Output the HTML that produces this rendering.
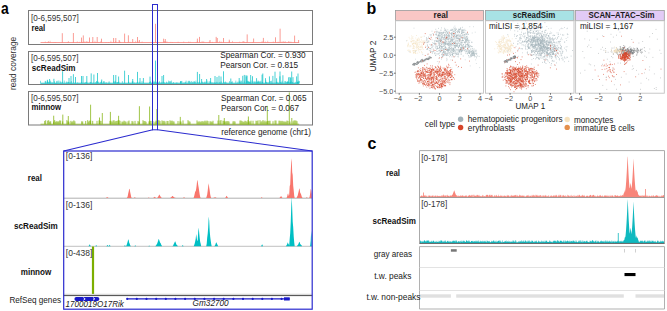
<!DOCTYPE html>
<html><head><meta charset="utf-8"><style>
html,body{margin:0;padding:0;background:#fff;width:667px;height:311px;overflow:hidden}
svg{display:block}
text{font-family:"Liberation Sans",sans-serif}
</style></head><body>
<svg width="667" height="311" viewBox="0 0 667 311" font-family="Liberation Sans, sans-serif">
<text transform="translate(0.9,13.9) scale(0.87,1)" font-size="16" font-weight="bold" fill="#000">a</text>
<text transform="translate(16.3,63.4) rotate(-90)" font-size="8.8" fill="#333" text-anchor="middle" textLength="53.3" lengthAdjust="spacingAndGlyphs">read coverage</text>
<rect x="28.5" y="10.5" width="284" height="34.0" fill="none" stroke="#7a7a7a" stroke-width="1"/>
<rect x="28.5" y="51.5" width="284" height="33.0" fill="none" stroke="#7a7a7a" stroke-width="1"/>
<rect x="28.5" y="91.5" width="284" height="33.5" fill="none" stroke="#7a7a7a" stroke-width="1"/>
<line x1="40.5" y1="42.5" x2="299.2" y2="42.5" stroke="#F8766D" stroke-width="0.9" opacity="0.8"/>
<path d="M45.30 42.6V41.48 M47.70 42.6V41.81 M48.50 42.6V41.00 M50.10 42.6V40.73 M53.30 42.6V42.28 M54.90 42.6V42.00 M55.70 42.6V42.25 M67.70 42.6V41.84 M68.50 42.6V41.07 M73.30 42.6V41.96 M77.30 42.6V41.29 M79.70 42.6V41.77 M82.10 42.6V41.91 M82.90 42.6V42.20 M84.50 42.6V41.41 M86.10 42.6V41.13 M86.90 42.6V41.27 M87.70 42.6V41.63 M88.50 42.6V41.87 M92.50 42.6V41.67 M94.90 42.6V40.72 M95.70 42.6V41.89 M98.90 42.6V42.16 M100.50 42.6V41.34 M106.10 42.6V42.05 M108.50 42.6V42.00 M110.90 42.6V40.78 M114.10 42.6V42.24 M115.70 42.6V41.17 M119.70 42.6V41.15 M120.50 42.6V41.93 M125.30 42.6V42.27 M127.70 42.6V42.02 M130.10 42.6V41.72 M134.90 42.6V42.24 M135.70 42.6V40.84 M138.10 42.6V41.28 M142.10 42.6V41.43 M157.30 42.6V41.28 M164.50 42.6V41.10 M165.30 42.6V41.34 M166.90 42.6V41.18 M170.90 42.6V41.82 M172.50 42.6V42.03 M178.10 42.6V41.61 M183.70 42.6V41.51 M188.50 42.6V41.58 M190.10 42.6V41.64 M195.70 42.6V42.25 M197.30 42.6V41.17 M200.50 42.6V42.08 M202.10 42.6V40.97 M202.90 42.6V42.07 M203.70 42.6V41.29 M209.30 42.6V41.54 M210.10 42.6V42.28 M212.50 42.6V41.86 M219.70 42.6V40.81 M221.30 42.6V41.57 M229.30 42.6V41.14 M232.50 42.6V40.86 M239.70 42.6V41.59 M242.90 42.6V41.01 M243.70 42.6V41.02 M244.50 42.6V41.76 M246.10 42.6V42.06 M252.50 42.6V41.95 M262.10 42.6V40.94 M265.30 42.6V41.44 M267.70 42.6V40.75 M273.30 42.6V41.44 M278.10 42.6V41.61 M282.10 42.6V41.31 M283.70 42.6V41.05 M284.50 42.6V41.99 M285.30 42.6V41.20 M288.50 42.6V41.13 M289.30 42.6V41.48 M290.90 42.6V41.45 M294.90 42.6V41.97" stroke="#F8766D" stroke-width="0.6" fill="none" opacity="0.7"/>
<path d="M62.30 42.6V33.20 M73.40 42.6V33.00 M81.50 42.6V37.60 M83.30 42.6V35.40 M89.50 42.6V37.50 M92.80 42.6V37.00 M97.20 42.6V37.00 M101.50 42.6V38.70 M113.60 42.6V38.00 M115.80 42.6V38.00 M119.20 42.6V40.00 M124.60 42.6V33.60 M128.40 42.6V35.30 M132.70 42.6V39.00 M137.50 42.6V37.00 M139.40 42.6V40.00 M155.50 42.6V23.80 M163.60 42.6V38.70 M165.30 42.6V39.00 M197.40 42.6V38.60 M199.50 42.6V36.90 M210.00 42.6V40.00 M216.20 42.6V36.90 M217.30 42.6V38.00 M223.50 42.6V38.00 M229.30 42.6V39.70 M247.20 42.6V34.40 M253.60 42.6V38.50 M263.40 42.6V37.90 M275.50 42.6V37.30 M280.10 42.6V28.70 M294.60 42.6V35.60 M298.60 42.6V40.00" stroke="#F8766D" stroke-width="0.8" fill="none" opacity="0.9"/>
<line x1="40.5" y1="83.3" x2="299.2" y2="83.3" stroke="#00BFC4" stroke-width="1.1" opacity="0.9"/>
<path d="M40.50 83.4V80.75 M46.10 83.4V81.55 M47.50 83.4V80.68 M48.20 83.4V81.87 M48.90 83.4V81.81 M50.30 83.4V80.64 M51.00 83.4V81.73 M52.40 83.4V82.36 M54.50 83.4V81.24 M55.20 83.4V83.06 M55.90 83.4V82.99 M56.60 83.4V81.14 M57.30 83.4V80.77 M58.70 83.4V80.53 M60.10 83.4V80.75 M60.80 83.4V81.86 M62.20 83.4V81.74 M64.30 83.4V80.56 M66.40 83.4V81.48 M67.10 83.4V82.57 M67.80 83.4V81.73 M68.50 83.4V81.95 M69.90 83.4V82.42 M71.30 83.4V81.08 M74.80 83.4V82.80 M77.60 83.4V82.39 M81.80 83.4V82.45 M84.60 83.4V82.94 M85.30 83.4V81.99 M86.70 83.4V81.69 M87.40 83.4V82.88 M90.20 83.4V81.86 M90.90 83.4V82.21 M93.00 83.4V82.79 M95.80 83.4V82.00 M96.50 83.4V80.99 M97.20 83.4V81.40 M98.60 83.4V81.67 M100.70 83.4V82.14 M101.40 83.4V80.82 M102.10 83.4V82.88 M103.50 83.4V81.32 M104.20 83.4V81.08 M104.90 83.4V82.55 M106.30 83.4V82.31 M108.40 83.4V82.73 M109.10 83.4V81.21 M109.80 83.4V82.79 M114.00 83.4V81.01 M114.70 83.4V82.27 M115.40 83.4V80.67 M116.80 83.4V82.16 M117.50 83.4V82.16 M118.20 83.4V82.09 M118.90 83.4V81.63 M122.40 83.4V81.13 M123.80 83.4V83.04 M128.70 83.4V81.68 M130.10 83.4V82.89 M132.20 83.4V81.45 M132.90 83.4V81.16 M134.30 83.4V82.53 M137.10 83.4V82.22 M139.20 83.4V81.70 M142.00 83.4V80.95 M149.70 83.4V82.01 M150.40 83.4V81.17 M151.80 83.4V82.66 M152.50 83.4V82.00 M153.20 83.4V80.58 M153.90 83.4V82.30 M154.60 83.4V81.42 M156.00 83.4V82.94 M156.70 83.4V81.58 M158.10 83.4V82.82 M158.80 83.4V82.53 M159.50 83.4V81.24 M160.90 83.4V82.62 M161.60 83.4V82.65 M163.00 83.4V81.67 M164.40 83.4V82.42 M166.50 83.4V81.68 M167.90 83.4V82.53 M168.60 83.4V80.64 M170.00 83.4V81.73 M171.40 83.4V80.53 M172.80 83.4V83.07 M173.50 83.4V82.13 M176.30 83.4V82.69 M177.00 83.4V82.43 M180.50 83.4V81.71 M181.20 83.4V81.10 M181.90 83.4V80.96 M184.00 83.4V82.40 M185.40 83.4V81.85 M186.10 83.4V80.62 M188.20 83.4V81.05 M188.90 83.4V80.72 M189.60 83.4V80.95 M190.30 83.4V81.69 M191.70 83.4V80.94 M192.40 83.4V82.29 M193.10 83.4V82.31 M193.80 83.4V81.24 M194.50 83.4V81.31 M195.20 83.4V82.07 M195.90 83.4V80.59 M198.00 83.4V82.12 M199.40 83.4V81.63 M200.10 83.4V83.07 M202.20 83.4V81.50 M202.90 83.4V82.12 M204.30 83.4V82.22 M205.00 83.4V81.37 M205.70 83.4V82.58 M207.10 83.4V80.64 M209.20 83.4V80.95 M209.90 83.4V82.73 M210.60 83.4V81.34 M212.00 83.4V82.05 M214.10 83.4V82.51 M214.80 83.4V82.78 M215.50 83.4V82.91 M216.90 83.4V81.77 M219.70 83.4V82.24 M220.40 83.4V83.06 M221.10 83.4V81.28 M224.60 83.4V82.24 M225.30 83.4V81.41 M226.00 83.4V82.12 M229.50 83.4V81.11 M231.60 83.4V81.80 M232.30 83.4V81.25 M235.80 83.4V80.64 M237.20 83.4V82.88 M237.90 83.4V81.60 M239.30 83.4V80.68 M240.00 83.4V81.90 M240.70 83.4V80.57 M241.40 83.4V80.75 M244.20 83.4V80.74 M247.00 83.4V80.96 M247.70 83.4V80.77 M248.40 83.4V81.61 M249.80 83.4V81.68 M250.50 83.4V83.02 M251.20 83.4V80.53 M253.30 83.4V81.35 M254.70 83.4V81.56 M256.10 83.4V82.58 M256.80 83.4V82.73 M257.50 83.4V81.62 M258.20 83.4V81.75 M258.90 83.4V81.62 M259.60 83.4V81.43 M260.30 83.4V81.36 M261.00 83.4V80.61 M262.40 83.4V82.03 M265.90 83.4V80.51 M268.00 83.4V81.97 M271.50 83.4V80.75 M272.20 83.4V82.96 M276.40 83.4V81.56 M277.10 83.4V82.78 M277.80 83.4V81.79 M278.50 83.4V82.96 M280.60 83.4V82.30 M281.30 83.4V82.49 M282.00 83.4V80.73 M284.80 83.4V81.01 M285.50 83.4V81.16 M287.60 83.4V81.04 M288.30 83.4V81.70 M289.70 83.4V82.47 M290.40 83.4V82.26 M291.10 83.4V80.77 M292.50 83.4V82.17 M293.90 83.4V83.02 M295.30 83.4V81.80 M297.40 83.4V82.56 M298.10 83.4V80.70 M299.50 83.4V80.92" stroke="#00BFC4" stroke-width="0.6" fill="none" opacity="0.85"/>
<path d="M45.30 83.4V80.90 M47.40 83.4V79.80 M49.60 83.4V79.00 M53.90 83.4V78.80 M62.60 83.4V71.20 M69.00 83.4V78.00 M71.00 83.4V76.00 M73.40 83.4V74.20 M75.50 83.4V77.00 M81.50 83.4V76.00 M83.00 83.4V76.00 M86.80 83.4V76.00 M91.20 83.4V73.40 M93.90 83.4V74.50 M97.50 83.4V73.00 M101.70 83.4V79.50 M113.60 83.4V75.00 M115.80 83.4V75.00 M118.60 83.4V76.50 M124.60 83.4V70.70 M128.50 83.4V75.00 M132.70 83.4V79.00 M137.50 83.4V71.90 M140.00 83.4V78.00 M143.40 83.4V78.00 M150.00 83.4V76.60 M155.50 83.4V60.60 M162.00 83.4V76.00 M163.60 83.4V75.00 M170.00 83.4V81.00 M180.70 83.4V81.00 M197.40 83.4V71.90 M199.60 83.4V74.00 M201.60 83.4V79.00 M206.60 83.4V79.00 M210.60 83.4V78.00 M215.00 83.4V76.00 M217.00 83.4V77.00 M219.00 83.4V75.80 M221.00 83.4V76.50 M223.50 83.4V71.30 M230.80 83.4V78.50 M239.20 83.4V78.00 M262.80 83.4V73.50 M275.00 83.4V71.70 M280.00 83.4V71.50 M291.70 83.4V71.50 M298.00 83.4V73.50 M242.74 83.4V75.82 M244.31 83.4V74.92 M246.00 83.4V75.20 M246.24 83.4V76.49 M247.10 83.4V75.64 M248.79 83.4V81.29 M249.69 83.4V82.16 M250.68 83.4V75.01 M252.51 83.4V76.23 M255.07 83.4V81.45 M256.55 83.4V78.18 M258.18 83.4V80.67 M262.06 83.4V74.69 M265.47 83.4V78.18 M266.60 83.4V82.19 M269.45 83.4V76.39 M270.20 83.4V80.98 M272.89 83.4V75.89 M276.60 83.4V78.27 M279.91 83.4V76.34 M282.90 83.4V75.26 M286.72 83.4V81.74 M287.47 83.4V82.22 M288.64 83.4V77.31 M289.94 83.4V76.97 M290.66 83.4V77.74 M293.00 83.4V77.16 M296.62 83.4V76.39 M297.40 83.4V81.90 M298.38 83.4V81.51" stroke="#00BFC4" stroke-width="0.8" fill="none" opacity="0.9"/>
<line x1="40.5" y1="124.2" x2="299.2" y2="124.2" stroke="#7CAE00" stroke-width="0.8" opacity="0.8"/>
<path d="M44.70 124.4V120.95 M45.70 124.4V120.22 M47.70 124.4V120.66 M48.70 124.4V120.22 M49.70 124.4V121.61 M50.70 124.4V121.24 M53.70 124.4V121.56 M54.70 124.4V120.11 M55.70 124.4V121.66 M56.70 124.4V121.25 M57.70 124.4V121.45 M58.70 124.4V121.38 M59.70 124.4V120.38 M60.70 124.4V120.61 M62.70 124.4V121.39 M66.90 124.4V120.13 M67.90 124.4V121.30 M68.90 124.4V121.64 M70.90 124.4V120.85 M71.90 124.4V121.72 M72.90 124.4V121.29 M73.90 124.4V120.35 M74.90 124.4V121.29 M81.70 124.4V121.30 M82.70 124.4V121.46 M85.70 124.4V120.97 M87.70 124.4V120.13 M88.70 124.4V121.48 M89.70 124.4V120.64 M90.70 124.4V120.62 M92.70 124.4V120.89 M97.00 124.4V120.86 M99.00 124.4V120.40 M100.00 124.4V120.71 M101.00 124.4V121.01 M110.00 124.4V120.92 M111.00 124.4V120.76 M112.00 124.4V121.74 M113.00 124.4V120.51 M114.00 124.4V120.23 M115.00 124.4V121.53 M116.00 124.4V120.91 M117.00 124.4V121.00 M118.00 124.4V120.36 M119.00 124.4V120.17 M120.00 124.4V120.82 M122.00 124.4V121.54 M123.00 124.4V121.72 M124.00 124.4V120.68 M125.00 124.4V121.32 M126.00 124.4V121.64 M128.00 124.4V121.34 M129.00 124.4V120.56 M132.00 124.4V121.06 M133.00 124.4V121.41 M135.00 124.4V120.92 M138.00 124.4V120.98 M139.00 124.4V121.73 M143.00 124.4V120.20 M144.00 124.4V121.09 M145.00 124.4V121.04 M146.00 124.4V121.74 M149.00 124.4V121.39 M150.00 124.4V120.81 M151.00 124.4V120.97 M153.00 124.4V121.19 M155.00 124.4V121.73 M156.00 124.4V120.63 M157.00 124.4V121.18 M158.00 124.4V120.24 M159.00 124.4V120.20 M160.00 124.4V121.09 M162.00 124.4V120.39 M163.00 124.4V121.17 M164.00 124.4V120.81 M165.00 124.4V121.43 M167.00 124.4V120.96 M168.00 124.4V121.00 M170.00 124.4V120.25 M171.00 124.4V121.11 M172.00 124.4V120.56 M173.00 124.4V121.31 M174.00 124.4V121.47 M178.00 124.4V121.09 M180.00 124.4V121.32 M181.00 124.4V121.52 M183.00 124.4V120.42 M188.00 124.4V120.17 M189.00 124.4V121.22 M190.00 124.4V121.65 M197.00 124.4V120.41 M198.00 124.4V121.70 M199.00 124.4V121.37 M200.00 124.4V121.53 M201.00 124.4V121.74 M202.00 124.4V121.04 M203.00 124.4V121.56 M204.00 124.4V121.33 M205.00 124.4V120.60 M206.00 124.4V121.43 M207.00 124.4V120.52 M208.00 124.4V121.10 M210.00 124.4V121.27 M211.00 124.4V121.41 M212.00 124.4V121.76 M213.00 124.4V120.78 M218.00 124.4V120.59 M220.00 124.4V120.56 M221.00 124.4V120.08 M223.00 124.4V120.66 M224.00 124.4V121.03 M225.00 124.4V121.69 M226.00 124.4V121.21 M227.00 124.4V121.30 M228.00 124.4V121.08 M229.00 124.4V121.50 M233.00 124.4V121.37 M234.00 124.4V121.18 M235.00 124.4V121.53 M240.00 124.4V120.54 M241.00 124.4V120.54 M242.00 124.4V121.10 M243.00 124.4V121.69 M244.00 124.4V121.70 M245.00 124.4V120.75 M246.00 124.4V121.21 M247.00 124.4V121.76 M248.00 124.4V120.19 M249.00 124.4V121.33 M250.00 124.4V121.47 M251.00 124.4V120.69 M253.00 124.4V120.76 M256.00 124.4V120.68 M257.00 124.4V121.05 M258.00 124.4V120.31 M260.00 124.4V120.16 M261.00 124.4V121.56 M262.00 124.4V121.24 M263.00 124.4V120.04 M264.00 124.4V121.45 M265.00 124.4V120.58 M266.00 124.4V121.80 M267.00 124.4V121.09 M268.00 124.4V120.91 M269.00 124.4V120.81 M270.00 124.4V120.79 M273.00 124.4V121.18 M275.00 124.4V120.51 M276.00 124.4V120.56 M279.00 124.4V120.68 M280.00 124.4V120.79 M281.00 124.4V121.29 M282.00 124.4V120.84 M283.00 124.4V121.35 M284.00 124.4V121.48 M285.00 124.4V121.57 M286.00 124.4V121.68 M287.00 124.4V120.53 M288.00 124.4V120.99 M290.00 124.4V121.51 M293.00 124.4V121.34 M294.00 124.4V120.37 M295.00 124.4V120.51 M296.00 124.4V120.51 M297.00 124.4V121.20" stroke="#7CAE00" stroke-width="0.75" fill="none" opacity="0.95"/>
<path d="M53.70 124.4V115.70 M62.80 124.4V114.60 M68.30 124.4V116.00 M90.60 124.4V104.70 M99.50 124.4V117.50 M102.30 124.4V113.00 M110.40 124.4V111.90 M118.60 124.4V115.80 M139.40 124.4V106.20 M149.60 124.4V106.50 M156.90 124.4V109.00 M180.30 124.4V116.90 M218.80 124.4V115.00 M224.30 124.4V118.00 M248.40 124.4V116.50 M267.30 124.4V105.90 M289.30 124.4V92.40 M291.80 124.4V118.00" stroke="#7CAE00" stroke-width="0.8" fill="none" opacity="0.9"/>
<text x="31" y="20.6" font-size="9.0" font-weight="normal" fill="#333" text-anchor="start" font-style="normal"  textLength="47.7" lengthAdjust="spacingAndGlyphs">[0-6,595,507]</text>
<text x="31.4" y="30.6" font-size="8.6" font-weight="bold" fill="#111" text-anchor="start" font-style="normal"  textLength="13.8" lengthAdjust="spacingAndGlyphs">real</text>
<text x="30.9" y="61.2" font-size="9.0" font-weight="normal" fill="#333" text-anchor="start" font-style="normal"  textLength="47.7" lengthAdjust="spacingAndGlyphs">[0-6,595,507]</text>
<text x="31.8" y="71.2" font-size="8.6" font-weight="bold" fill="#111" text-anchor="start" font-style="normal"  textLength="43.7" lengthAdjust="spacingAndGlyphs">scReadSim</text>
<text x="30.9" y="101.4" font-size="9.0" font-weight="normal" fill="#333" text-anchor="start" font-style="normal"  textLength="47.7" lengthAdjust="spacingAndGlyphs">[0-6,595,507]</text>
<text x="31.6" y="110.4" font-size="8.6" font-weight="bold" fill="#111" text-anchor="start" font-style="normal"  textLength="29.5" lengthAdjust="spacingAndGlyphs">minnow</text>
<text x="220.2" y="58.2" font-size="9.0" font-weight="normal" fill="#222" text-anchor="start" font-style="normal"  textLength="85.5" lengthAdjust="spacingAndGlyphs">Spearman Cor. = 0.930</text>
<text x="220.2" y="67.8" font-size="9.0" font-weight="normal" fill="#222" text-anchor="start" font-style="normal"  textLength="78.0" lengthAdjust="spacingAndGlyphs">Pearson Cor. = 0.815</text>
<text x="221.0" y="100.7" font-size="9.0" font-weight="normal" fill="#222" text-anchor="start" font-style="normal"  textLength="85.5" lengthAdjust="spacingAndGlyphs">Spearman Cor. = 0.065</text>
<text x="221.0" y="110.8" font-size="9.0" font-weight="normal" fill="#222" text-anchor="start" font-style="normal"  textLength="78.0" lengthAdjust="spacingAndGlyphs">Pearson Cor. = 0.067</text>
<text x="221.2" y="135.3" font-size="9.0" font-weight="normal" fill="#222" text-anchor="start" font-style="normal"  textLength="89.8" lengthAdjust="spacingAndGlyphs">reference genome (chr1)</text>
<rect x="152.5" y="4.5" width="5" height="125.3" fill="none" stroke="#2B2BCF" stroke-width="1"/>
<path d="M152.8 129.8 L63.7 151 M157.6 129.8 L312.2 151" stroke="#2B2BCF" stroke-width="1.1" fill="none"/>
<line x1="63.7" y1="198.2" x2="312.2" y2="198.2" stroke="#9a9a9a" stroke-width="0.8"/>
<line x1="63.7" y1="246.3" x2="312.2" y2="246.3" stroke="#b0b0b0" stroke-width="0.8"/>
<line x1="63.7" y1="294.3" x2="312.2" y2="294.3" stroke="#c4c4c4" stroke-width="0.8"/>
<line x1="63.7" y1="295.6" x2="312.2" y2="295.6" stroke="#333" stroke-width="0.9"/>
<path d="M64.2 198.0 L64.2 198.00 L64.7 198.00 L65.2 198.00 L65.7 198.00 L66.2 198.00 L66.7 198.00 L67.2 198.00 L67.7 198.00 L68.2 198.00 L68.7 198.00 L69.2 198.00 L69.7 198.00 L70.2 198.00 L70.7 198.00 L71.2 198.00 L71.7 198.00 L72.2 198.00 L72.7 198.00 L73.2 198.00 L73.7 198.00 L74.2 198.00 L74.7 198.00 L75.2 198.00 L75.7 198.00 L76.2 198.00 L76.7 198.00 L77.2 198.00 L77.7 198.00 L78.2 198.00 L78.7 198.00 L79.2 198.00 L79.7 198.00 L80.2 198.00 L80.7 198.00 L81.2 198.00 L81.7 198.00 L82.2 198.00 L82.7 198.00 L83.2 198.00 L83.7 198.00 L84.2 198.00 L84.7 198.00 L85.2 198.00 L85.7 198.00 L86.2 198.00 L86.7 198.00 L87.2 198.00 L87.7 198.00 L88.2 198.00 L88.7 198.00 L89.2 198.00 L89.7 198.00 L90.2 198.00 L90.7 198.00 L91.2 198.00 L91.7 198.00 L92.2 198.00 L92.7 198.00 L93.2 198.00 L93.7 198.00 L94.2 198.00 L94.7 198.00 L95.2 198.00 L95.7 198.00 L96.2 198.00 L96.7 198.00 L97.2 198.00 L97.7 198.00 L98.2 198.00 L98.7 198.00 L99.2 198.00 L99.7 198.00 L100.2 198.00 L100.7 198.00 L101.2 198.00 L101.7 198.00 L102.2 198.00 L102.7 198.00 L103.2 198.00 L103.7 198.00 L104.2 198.00 L104.7 198.00 L105.2 198.00 L105.7 198.00 L106.2 197.82 L106.7 197.50 L107.2 197.00 L107.7 197.52 L108.2 197.80 L108.7 198.00 L109.2 198.00 L109.7 198.00 L110.2 198.00 L110.7 198.00 L111.2 198.00 L111.7 198.00 L112.2 198.00 L112.7 198.00 L113.2 198.00 L113.7 198.00 L114.2 198.00 L114.7 198.00 L115.2 198.00 L115.7 198.00 L116.2 198.00 L116.7 198.00 L117.2 198.00 L117.7 198.00 L118.2 198.00 L118.7 198.00 L119.2 198.00 L119.7 198.00 L120.2 198.00 L120.7 198.00 L121.2 198.00 L121.7 198.00 L122.2 198.00 L122.7 198.00 L123.2 198.00 L123.7 198.00 L124.2 198.00 L124.7 198.00 L125.2 198.00 L125.7 198.00 L126.2 198.00 L126.7 198.00 L127.2 197.46 L127.7 196.15 L128.2 193.48 L128.7 191.56 L129.2 188.81 L129.7 189.34 L130.2 192.28 L130.7 194.52 L131.2 196.99 L131.7 198.00 L132.2 198.00 L132.7 198.00 L133.2 198.00 L133.7 198.00 L134.2 197.79 L134.7 197.20 L135.2 197.50 L135.7 197.96 L136.2 198.00 L136.7 198.00 L137.2 198.00 L137.7 198.00 L138.2 198.00 L138.7 198.00 L139.2 198.00 L139.7 198.00 L140.2 198.00 L140.7 198.00 L141.2 198.00 L141.7 198.00 L142.2 198.00 L142.7 198.00 L143.2 198.00 L143.7 198.00 L144.2 198.00 L144.7 198.00 L145.2 198.00 L145.7 198.00 L146.2 198.00 L146.7 198.00 L147.2 198.00 L147.7 197.97 L148.2 197.75 L148.7 197.49 L149.2 197.87 L149.7 198.00 L150.2 198.00 L150.7 198.00 L151.2 198.00 L151.7 198.00 L152.2 198.00 L152.7 198.00 L153.2 197.97 L153.7 197.53 L154.2 197.15 L154.7 196.63 L155.2 197.22 L155.7 197.74 L156.2 198.00 L156.7 198.00 L157.2 197.80 L157.7 197.40 L158.2 196.39 L158.7 195.68 L159.2 194.58 L159.7 194.95 L160.2 195.97 L160.7 196.68 L161.2 197.31 L161.7 197.88 L162.2 198.00 L162.7 198.00 L163.2 198.00 L163.7 198.00 L164.2 198.00 L164.7 198.00 L165.2 198.00 L165.7 198.00 L166.2 198.00 L166.7 198.00 L167.2 198.00 L167.7 198.00 L168.2 198.00 L168.7 198.00 L169.2 198.00 L169.7 198.00 L170.2 197.93 L170.7 197.56 L171.2 197.17 L171.7 196.77 L172.2 196.12 L172.7 195.92 L173.2 196.42 L173.7 197.04 L174.2 197.32 L174.7 197.67 L175.2 197.87 L175.7 198.00 L176.2 198.00 L176.7 198.00 L177.2 198.00 L177.7 198.00 L178.2 198.00 L178.7 198.00 L179.2 198.00 L179.7 198.00 L180.2 198.00 L180.7 198.00 L181.2 198.00 L181.7 198.00 L182.2 198.00 L182.7 198.00 L183.2 197.87 L183.7 197.38 L184.2 197.37 L184.7 197.80 L185.2 198.00 L185.7 198.00 L186.2 198.00 L186.7 198.00 L187.2 198.00 L187.7 198.00 L188.2 198.00 L188.7 198.00 L189.2 198.00 L189.7 198.00 L190.2 198.00 L190.7 198.00 L191.2 198.00 L191.7 198.00 L192.2 198.00 L192.7 198.00 L193.2 198.00 L193.7 197.63 L194.2 195.94 L194.7 193.80 L195.2 191.59 L195.7 191.16 L196.2 188.81 L196.7 185.09 L197.2 179.74 L197.7 181.53 L198.2 184.92 L198.7 187.81 L199.2 191.30 L199.7 194.58 L200.2 197.03 L200.7 198.00 L201.2 198.00 L201.7 198.00 L202.2 198.00 L202.7 198.00 L203.2 198.00 L203.7 198.00 L204.2 198.00 L204.7 198.00 L205.2 198.00 L205.7 198.00 L206.2 198.00 L206.7 196.33 L207.2 194.55 L207.7 190.82 L208.2 186.19 L208.7 183.23 L209.2 187.59 L209.7 190.41 L210.2 194.40 L210.7 196.75 L211.2 198.00 L211.7 198.00 L212.2 198.00 L212.7 198.00 L213.2 197.96 L213.7 197.76 L214.2 197.65 L214.7 197.28 L215.2 197.20 L215.7 197.50 L216.2 197.77 L216.7 197.93 L217.2 198.00 L217.7 198.00 L218.2 198.00 L218.7 198.00 L219.2 198.00 L219.7 198.00 L220.2 198.00 L220.7 198.00 L221.2 198.00 L221.7 198.00 L222.2 198.00 L222.7 198.00 L223.2 198.00 L223.7 198.00 L224.2 198.00 L224.7 198.00 L225.2 197.92 L225.7 197.21 L226.2 196.37 L226.7 195.72 L227.2 196.71 L227.7 197.58 L228.2 198.00 L228.7 198.00 L229.2 198.00 L229.7 198.00 L230.2 198.00 L230.7 198.00 L231.2 198.00 L231.7 198.00 L232.2 198.00 L232.7 198.00 L233.2 198.00 L233.7 198.00 L234.2 198.00 L234.7 198.00 L235.2 198.00 L235.7 198.00 L236.2 198.00 L236.7 198.00 L237.2 198.00 L237.7 198.00 L238.2 198.00 L238.7 198.00 L239.2 198.00 L239.7 198.00 L240.2 198.00 L240.7 198.00 L241.2 198.00 L241.7 198.00 L242.2 198.00 L242.7 198.00 L243.2 198.00 L243.7 198.00 L244.2 198.00 L244.7 198.00 L245.2 198.00 L245.7 198.00 L246.2 198.00 L246.7 198.00 L247.2 198.00 L247.7 198.00 L248.2 198.00 L248.7 198.00 L249.2 198.00 L249.7 198.00 L250.2 198.00 L250.7 198.00 L251.2 198.00 L251.7 198.00 L252.2 198.00 L252.7 198.00 L253.2 198.00 L253.7 198.00 L254.2 198.00 L254.7 198.00 L255.2 198.00 L255.7 198.00 L256.2 198.00 L256.7 198.00 L257.2 198.00 L257.7 198.00 L258.2 198.00 L258.7 198.00 L259.2 198.00 L259.7 198.00 L260.2 198.00 L260.7 198.00 L261.2 197.69 L261.7 197.00 L262.2 197.66 L262.7 198.00 L263.2 198.00 L263.7 198.00 L264.2 198.00 L264.7 198.00 L265.2 198.00 L265.7 198.00 L266.2 198.00 L266.7 198.00 L267.2 198.00 L267.7 198.00 L268.2 198.00 L268.7 198.00 L269.2 198.00 L269.7 198.00 L270.2 198.00 L270.7 198.00 L271.2 198.00 L271.7 198.00 L272.2 198.00 L272.7 198.00 L273.2 198.00 L273.7 198.00 L274.2 198.00 L274.7 198.00 L275.2 198.00 L275.7 198.00 L276.2 198.00 L276.7 198.00 L277.2 198.00 L277.7 198.00 L278.2 198.00 L278.7 198.00 L279.2 198.00 L279.7 197.80 L280.2 197.11 L280.7 196.43 L281.2 195.91 L281.7 197.07 L282.2 197.76 L282.7 198.00 L283.2 198.00 L283.7 198.00 L284.2 198.00 L284.7 198.00 L285.2 198.00 L285.7 198.00 L286.2 198.00 L286.7 197.66 L287.2 196.34 L287.7 193.92 L288.2 193.60 L288.7 196.12 L289.2 194.65 L289.7 186.28 L290.2 184.54 L290.7 172.01 L291.2 162.34 L291.7 158.23 L292.2 172.30 L292.7 174.96 L293.2 185.65 L293.7 190.24 L294.2 195.86 L294.7 198.00 L295.2 198.00 L295.7 198.00 L296.2 198.00 L296.7 197.67 L297.2 196.60 L297.7 195.44 L298.2 193.17 L298.7 191.29 L299.2 188.27 L299.7 189.55 L300.2 192.70 L300.7 193.55 L301.2 194.77 L301.7 196.39 L302.2 197.60 L302.7 198.00 L303.2 198.00 L303.7 198.00 L304.2 198.00 L304.7 198.00 L305.2 198.00 L305.7 198.00 L306.2 197.71 L306.7 197.18 L307.2 197.57 L307.7 197.96 L308.2 198.00 L308.7 198.00 L309.2 198.00 L309.7 196.59 L310.2 193.08 L310.7 188.79 L311.2 190.05 L311.7 194.33 L311.8 198.0 Z" fill="#F8766D" stroke="none" opacity="1.0"/>
<path d="M64.2 246.2 L64.2 246.20 L64.7 246.20 L65.2 246.20 L65.7 246.20 L66.2 246.20 L66.7 246.20 L67.2 246.20 L67.7 246.20 L68.2 246.20 L68.7 246.20 L69.2 246.20 L69.7 246.20 L70.2 246.20 L70.7 246.20 L71.2 246.20 L71.7 246.20 L72.2 246.20 L72.7 246.20 L73.2 246.20 L73.7 246.20 L74.2 246.20 L74.7 246.20 L75.2 246.20 L75.7 246.20 L76.2 246.20 L76.7 246.20 L77.2 246.20 L77.7 246.20 L78.2 246.20 L78.7 246.20 L79.2 246.20 L79.7 246.20 L80.2 246.20 L80.7 246.20 L81.2 246.20 L81.7 246.20 L82.2 246.20 L82.7 246.20 L83.2 246.20 L83.7 246.20 L84.2 246.20 L84.7 246.20 L85.2 246.20 L85.7 246.20 L86.2 246.20 L86.7 246.20 L87.2 246.20 L87.7 246.20 L88.2 246.20 L88.7 245.99 L89.2 245.36 L89.7 244.20 L90.2 245.30 L90.7 246.03 L91.2 246.20 L91.7 246.20 L92.2 246.20 L92.7 246.20 L93.2 246.20 L93.7 246.20 L94.2 246.20 L94.7 246.20 L95.2 246.20 L95.7 245.86 L96.2 245.00 L96.7 245.85 L97.2 246.20 L97.7 246.20 L98.2 246.20 L98.7 246.20 L99.2 246.20 L99.7 246.20 L100.2 246.20 L100.7 246.20 L101.2 246.20 L101.7 246.20 L102.2 246.20 L102.7 246.20 L103.2 246.20 L103.7 246.20 L104.2 246.20 L104.7 246.20 L105.2 246.20 L105.7 246.20 L106.2 246.20 L106.7 246.00 L107.2 245.33 L107.7 244.94 L108.2 245.95 L108.7 246.12 L109.2 245.60 L109.7 244.74 L110.2 245.74 L110.7 246.20 L111.2 246.20 L111.7 246.20 L112.2 246.20 L112.7 246.20 L113.2 246.20 L113.7 246.20 L114.2 246.20 L114.7 246.20 L115.2 246.20 L115.7 246.20 L116.2 246.20 L116.7 246.20 L117.2 246.20 L117.7 246.20 L118.2 246.20 L118.7 246.20 L119.2 246.20 L119.7 246.20 L120.2 246.20 L120.7 246.20 L121.2 246.20 L121.7 246.20 L122.2 246.20 L122.7 246.20 L123.2 246.20 L123.7 246.20 L124.2 246.00 L124.7 245.32 L125.2 245.49 L125.7 246.08 L126.2 246.09 L126.7 244.85 L127.2 243.17 L127.7 241.47 L128.2 239.22 L128.7 240.14 L129.2 242.67 L129.7 243.81 L130.2 245.20 L130.7 246.07 L131.2 246.20 L131.7 246.20 L132.2 246.20 L132.7 246.20 L133.2 246.20 L133.7 246.20 L134.2 246.20 L134.7 245.90 L135.2 245.23 L135.7 245.76 L136.2 246.15 L136.7 246.20 L137.2 246.20 L137.7 246.20 L138.2 246.20 L138.7 246.20 L139.2 246.20 L139.7 246.20 L140.2 246.20 L140.7 246.20 L141.2 246.20 L141.7 246.20 L142.2 246.20 L142.7 246.20 L143.2 246.20 L143.7 246.20 L144.2 246.20 L144.7 246.20 L145.2 246.20 L145.7 246.20 L146.2 246.20 L146.7 246.20 L147.2 246.20 L147.7 246.20 L148.2 246.20 L148.7 245.96 L149.2 245.50 L149.7 245.92 L150.2 246.20 L150.7 246.20 L151.2 246.20 L151.7 246.20 L152.2 246.20 L152.7 246.20 L153.2 246.20 L153.7 246.20 L154.2 246.20 L154.7 246.20 L155.2 246.20 L155.7 245.84 L156.2 245.13 L156.7 244.14 L157.2 243.45 L157.7 241.95 L158.2 240.46 L158.7 238.82 L159.2 239.98 L159.7 241.57 L160.2 242.87 L160.7 243.34 L161.2 244.79 L161.7 245.48 L162.2 246.13 L162.7 246.20 L163.2 246.20 L163.7 246.20 L164.2 246.20 L164.7 246.20 L165.2 246.20 L165.7 246.20 L166.2 246.20 L166.7 246.20 L167.2 246.20 L167.7 246.20 L168.2 246.20 L168.7 246.20 L169.2 246.20 L169.7 246.20 L170.2 246.20 L170.7 246.20 L171.2 246.20 L171.7 246.20 L172.2 246.20 L172.7 246.01 L173.2 245.45 L173.7 244.12 L174.2 243.25 L174.7 242.00 L175.2 241.37 L175.7 242.51 L176.2 244.04 L176.7 244.94 L177.2 245.29 L177.7 245.98 L178.2 246.20 L178.7 246.20 L179.2 246.20 L179.7 246.20 L180.2 246.20 L180.7 246.20 L181.2 246.20 L181.7 246.20 L182.2 245.72 L182.7 245.00 L183.2 245.78 L183.7 246.20 L184.2 246.20 L184.7 246.20 L185.2 246.20 L185.7 246.20 L186.2 246.20 L186.7 246.20 L187.2 246.20 L187.7 246.20 L188.2 246.20 L188.7 246.20 L189.2 246.20 L189.7 246.20 L190.2 246.20 L190.7 246.20 L191.2 246.20 L191.7 246.20 L192.2 246.20 L192.7 246.20 L193.2 246.20 L193.7 246.20 L194.2 244.97 L194.7 243.60 L195.2 241.26 L195.7 238.68 L196.2 234.02 L196.7 237.61 L197.2 241.07 L197.7 240.26 L198.2 232.10 L198.7 227.40 L199.2 232.92 L199.7 237.91 L200.2 241.91 L200.7 243.79 L201.2 246.20 L201.7 246.20 L202.2 246.20 L202.7 246.20 L203.2 246.20 L203.7 246.20 L204.2 246.20 L204.7 246.20 L205.2 246.20 L205.7 246.20 L206.2 246.20 L206.7 243.71 L207.2 237.56 L207.7 233.79 L208.2 227.36 L208.7 216.50 L209.2 220.77 L209.7 231.02 L210.2 236.83 L210.7 240.58 L211.2 243.94 L211.7 246.20 L212.2 246.20 L212.7 246.20 L213.2 246.20 L213.7 246.20 L214.2 246.20 L214.7 245.81 L215.2 245.06 L215.7 243.56 L216.2 242.23 L216.7 243.00 L217.2 244.19 L217.7 245.36 L218.2 246.13 L218.7 246.20 L219.2 246.20 L219.7 246.20 L220.2 246.20 L220.7 246.20 L221.2 246.20 L221.7 246.20 L222.2 246.20 L222.7 246.20 L223.2 246.20 L223.7 246.20 L224.2 246.20 L224.7 246.20 L225.2 246.20 L225.7 246.20 L226.2 246.20 L226.7 246.20 L227.2 246.20 L227.7 246.20 L228.2 246.20 L228.7 246.20 L229.2 246.20 L229.7 246.20 L230.2 246.20 L230.7 246.20 L231.2 246.20 L231.7 246.20 L232.2 246.20 L232.7 246.20 L233.2 246.20 L233.7 246.20 L234.2 246.20 L234.7 246.20 L235.2 246.20 L235.7 246.20 L236.2 246.20 L236.7 246.20 L237.2 246.20 L237.7 246.20 L238.2 246.20 L238.7 246.20 L239.2 246.20 L239.7 246.20 L240.2 246.20 L240.7 246.20 L241.2 246.20 L241.7 246.20 L242.2 246.20 L242.7 246.20 L243.2 246.20 L243.7 246.20 L244.2 246.20 L244.7 246.20 L245.2 246.20 L245.7 246.20 L246.2 246.20 L246.7 246.20 L247.2 246.20 L247.7 246.20 L248.2 246.20 L248.7 246.20 L249.2 246.20 L249.7 246.20 L250.2 246.20 L250.7 246.20 L251.2 246.20 L251.7 246.20 L252.2 246.20 L252.7 246.20 L253.2 246.20 L253.7 246.20 L254.2 246.20 L254.7 246.20 L255.2 246.20 L255.7 246.20 L256.2 246.20 L256.7 246.20 L257.2 246.20 L257.7 246.20 L258.2 246.20 L258.7 246.20 L259.2 246.20 L259.7 246.20 L260.2 246.20 L260.7 246.20 L261.2 246.11 L261.7 245.09 L262.2 244.30 L262.7 245.60 L263.2 246.20 L263.7 246.20 L264.2 246.20 L264.7 246.20 L265.2 246.20 L265.7 246.20 L266.2 246.20 L266.7 246.20 L267.2 246.20 L267.7 246.20 L268.2 246.20 L268.7 246.20 L269.2 246.20 L269.7 246.20 L270.2 246.20 L270.7 246.20 L271.2 246.20 L271.7 246.20 L272.2 246.20 L272.7 246.20 L273.2 246.20 L273.7 246.20 L274.2 246.20 L274.7 246.20 L275.2 246.20 L275.7 246.20 L276.2 246.20 L276.7 246.20 L277.2 246.20 L277.7 246.20 L278.2 246.20 L278.7 246.20 L279.2 246.20 L279.7 246.20 L280.2 246.20 L280.7 246.20 L281.2 246.20 L281.7 246.20 L282.2 246.20 L282.7 246.20 L283.2 246.20 L283.7 246.20 L284.2 246.20 L284.7 246.20 L285.2 246.20 L285.7 246.20 L286.2 245.80 L286.7 244.96 L287.2 244.10 L287.7 242.18 L288.2 243.51 L288.7 244.31 L289.2 245.46 L289.7 238.80 L290.2 233.21 L290.7 223.04 L291.2 208.24 L291.7 196.50 L292.2 208.45 L292.7 221.76 L293.2 227.34 L293.7 236.27 L294.2 242.19 L294.7 246.20 L295.2 246.20 L295.7 246.20 L296.2 246.20 L296.7 246.20 L297.2 245.74 L297.7 244.92 L298.2 244.44 L298.7 243.13 L299.2 241.66 L299.7 242.24 L300.2 243.89 L300.7 244.48 L301.2 245.00 L301.7 245.60 L302.2 246.16 L302.7 246.20 L303.2 246.20 L303.7 246.20 L304.2 246.20 L304.7 246.20 L305.2 246.20 L305.7 246.20 L306.2 246.20 L306.7 246.20 L307.2 246.20 L307.7 246.20 L308.2 246.20 L308.7 246.20 L309.2 246.20 L309.7 246.20 L310.2 245.60 L310.7 240.71 L311.2 230.83 L311.7 236.56 L311.8 246.2 Z" fill="#00BFC4" stroke="none" opacity="1.0"/>
<rect x="91.9" y="246.5" width="2.2" height="47.4" fill="#7CAE00"/>
<rect x="63.7" y="151" width="248.5" height="158.2" fill="none" stroke="#2B2BCF" stroke-width="1.2"/>
<text x="65.8" y="159.4" font-size="9.0" font-weight="normal" fill="#333" text-anchor="start" font-style="normal"  textLength="26.5" lengthAdjust="spacingAndGlyphs">[0-136]</text>
<text x="65.8" y="207.5" font-size="9.0" font-weight="normal" fill="#333" text-anchor="start" font-style="normal"  textLength="26.5" lengthAdjust="spacingAndGlyphs">[0-136]</text>
<text x="65.8" y="255.5" font-size="9.0" font-weight="normal" fill="#333" text-anchor="start" font-style="normal"  textLength="26.5" lengthAdjust="spacingAndGlyphs">[0-438]</text>
<text x="27.8" y="180.9" font-size="8.6" font-weight="bold" fill="#111" text-anchor="start" font-style="normal"  textLength="14.1" lengthAdjust="spacingAndGlyphs">real</text>
<text x="14.0" y="228.5" font-size="8.6" font-weight="bold" fill="#111" text-anchor="start" font-style="normal"  textLength="43.8" lengthAdjust="spacingAndGlyphs">scReadSim</text>
<text x="20.7" y="275.4" font-size="8.6" font-weight="bold" fill="#111" text-anchor="start" font-style="normal"  textLength="30.6" lengthAdjust="spacingAndGlyphs">minnow</text>
<text x="9.4" y="303.4" font-size="9.0" font-weight="normal" fill="#222" text-anchor="start" font-style="normal"  textLength="51.6" lengthAdjust="spacingAndGlyphs">RefSeq genes</text>
<rect x="74.4" y="296.9" width="25" height="4" rx="2" fill="#1a1ac8"/>
<path d="M83.4 297.6 L85.2 298.9 L83.4 300.2 M93.0 297.6 L94.8 298.9 L93.0 300.2" stroke="#fff" stroke-width="0.9" fill="none"/>
<path d="M127.2 298.9 H289.7" stroke="#1a1ac8" stroke-width="1.3" fill="none"/>
<path d="M127.2 298.9 l0.01 0 M136.8 298.9 l0.01 0 M146.5 298.9 l0.01 0 M156.2 298.9 l0.01 0 M165.8 298.9 l0.01 0 M175.4 298.9 l0.01 0 M185.1 298.9 l0.01 0 M194.8 298.9 l0.01 0 M204.4 298.9 l0.01 0 M214.1 298.9 l0.01 0 M223.7 298.9 l0.01 0 M233.4 298.9 l0.01 0 M243.0 298.9 l0.01 0 M252.7 298.9 l0.01 0 M262.3 298.9 l0.01 0 M271.9 298.9 l0.01 0 M281.6 298.9 l0.01 0" stroke="#1a1ac8" stroke-width="2.2" stroke-linecap="round" fill="none"/>
<rect x="284" y="297.3" width="5.7" height="3.2" fill="#1a1ac8"/>
<text x="65.6" y="306.9" font-size="9.0" font-weight="normal" fill="#222" text-anchor="start" font-style="italic"  textLength="58.2" lengthAdjust="spacingAndGlyphs">1700019O17Rik</text>
<text x="192.6" y="306.3" font-size="9.0" font-weight="normal" fill="#222" text-anchor="start" font-style="italic"  textLength="36.1" lengthAdjust="spacingAndGlyphs">Gm32700</text>
<text x="366.6" y="13.9" font-size="16" font-weight="bold" fill="#000">b</text>
<rect x="395.5" y="10.5" width="88.0" height="10.2" fill="#F9C7C5" stroke="#9a9a9a" stroke-width="0.8"/>
<text x="440.8" y="18.0" font-size="8.5" font-weight="bold" fill="#1a1a1a" text-anchor="middle" textLength="14.4" lengthAdjust="spacingAndGlyphs">real</text>
<rect x="395.5" y="20.6" width="88.0" height="72.6" stroke="#c2c2c2" stroke-width="0.9" fill="none"/>
<line x1="399.2" y1="93.2" x2="399.2" y2="94.7" stroke="#444" stroke-width="0.8"/>
<text x="398.0" y="100.8" font-size="7.3" fill="#4d4d4d" text-anchor="middle">−4</text>
<line x1="419.4" y1="93.2" x2="419.4" y2="94.7" stroke="#444" stroke-width="0.8"/>
<text x="418.2" y="100.8" font-size="7.3" fill="#4d4d4d" text-anchor="middle">−2</text>
<line x1="439.6" y1="93.2" x2="439.6" y2="94.7" stroke="#444" stroke-width="0.8"/>
<text x="439.6" y="100.8" font-size="7.3" fill="#4d4d4d" text-anchor="middle">0</text>
<line x1="459.8" y1="93.2" x2="459.8" y2="94.7" stroke="#444" stroke-width="0.8"/>
<text x="459.8" y="100.8" font-size="7.3" fill="#4d4d4d" text-anchor="middle">2</text>
<line x1="480.0" y1="93.2" x2="480.0" y2="94.7" stroke="#444" stroke-width="0.8"/>
<text x="480.0" y="100.8" font-size="7.3" fill="#4d4d4d" text-anchor="middle">4</text>
<rect x="485.5" y="10.5" width="88.5" height="10.2" fill="#A8E2E5" stroke="#9a9a9a" stroke-width="0.8"/>
<text x="534.0" y="18.0" font-size="8.5" font-weight="bold" fill="#1a1a1a" text-anchor="middle" textLength="42.4" lengthAdjust="spacingAndGlyphs">scReadSim</text>
<rect x="485.5" y="20.6" width="88.5" height="72.6" stroke="#c2c2c2" stroke-width="0.9" fill="none"/>
<line x1="489.9" y1="93.2" x2="489.9" y2="94.7" stroke="#444" stroke-width="0.8"/>
<text x="488.7" y="100.8" font-size="7.3" fill="#4d4d4d" text-anchor="middle">−4</text>
<line x1="510.1" y1="93.2" x2="510.1" y2="94.7" stroke="#444" stroke-width="0.8"/>
<text x="508.9" y="100.8" font-size="7.3" fill="#4d4d4d" text-anchor="middle">−2</text>
<line x1="530.3" y1="93.2" x2="530.3" y2="94.7" stroke="#444" stroke-width="0.8"/>
<text x="530.3" y="100.8" font-size="7.3" fill="#4d4d4d" text-anchor="middle">0</text>
<line x1="550.5" y1="93.2" x2="550.5" y2="94.7" stroke="#444" stroke-width="0.8"/>
<text x="550.5" y="100.8" font-size="7.3" fill="#4d4d4d" text-anchor="middle">2</text>
<line x1="570.7" y1="93.2" x2="570.7" y2="94.7" stroke="#444" stroke-width="0.8"/>
<text x="570.7" y="100.8" font-size="7.3" fill="#4d4d4d" text-anchor="middle">4</text>
<rect x="575.6" y="10.5" width="88.7" height="10.2" fill="#E2CBF6" stroke="#9a9a9a" stroke-width="0.8"/>
<text x="621.5" y="18.0" font-size="8.5" font-weight="bold" fill="#1a1a1a" text-anchor="middle" textLength="66" lengthAdjust="spacingAndGlyphs">SCAN–ATAC–Sim</text>
<rect x="575.6" y="20.6" width="88.7" height="72.6" stroke="#c2c2c2" stroke-width="0.9" fill="none"/>
<line x1="579.6" y1="93.2" x2="579.6" y2="94.7" stroke="#444" stroke-width="0.8"/>
<text x="578.4" y="100.8" font-size="7.3" fill="#4d4d4d" text-anchor="middle">−4</text>
<line x1="599.8" y1="93.2" x2="599.8" y2="94.7" stroke="#444" stroke-width="0.8"/>
<text x="598.6" y="100.8" font-size="7.3" fill="#4d4d4d" text-anchor="middle">−2</text>
<line x1="620.0" y1="93.2" x2="620.0" y2="94.7" stroke="#444" stroke-width="0.8"/>
<text x="620.0" y="100.8" font-size="7.3" fill="#4d4d4d" text-anchor="middle">0</text>
<line x1="640.2" y1="93.2" x2="640.2" y2="94.7" stroke="#444" stroke-width="0.8"/>
<text x="640.2" y="100.8" font-size="7.3" fill="#4d4d4d" text-anchor="middle">2</text>
<line x1="394" y1="37.2" x2="395.6" y2="37.2" stroke="#444" stroke-width="0.8"/>
<text x="393.4" y="39.8" font-size="7.3" fill="#4d4d4d" text-anchor="end">2.5</text>
<line x1="394" y1="55.2" x2="395.6" y2="55.2" stroke="#444" stroke-width="0.8"/>
<text x="393.4" y="57.8" font-size="7.3" fill="#4d4d4d" text-anchor="end">0.0</text>
<line x1="394" y1="73.2" x2="395.6" y2="73.2" stroke="#444" stroke-width="0.8"/>
<text x="393.4" y="75.8" font-size="7.3" fill="#4d4d4d" text-anchor="end">−2.5</text>
<line x1="394" y1="91.2" x2="395.6" y2="91.2" stroke="#444" stroke-width="0.8"/>
<text x="393.4" y="93.8" font-size="7.3" fill="#4d4d4d" text-anchor="end">−5.0</text>
<text transform="translate(376.3,56) rotate(-90)" font-size="8.3" fill="#1a1a1a" text-anchor="middle" textLength="30.8" lengthAdjust="spacingAndGlyphs">UMAP 2</text>
<text x="530.3" y="108.9" font-size="8.5" font-weight="normal" fill="#1a1a1a" text-anchor="middle" font-style="normal"  textLength="29.7" lengthAdjust="spacingAndGlyphs">UMAP 1</text>
<text x="489.0" y="28.7" font-size="9.0" font-weight="normal" fill="#1a1a1a" text-anchor="start" font-style="normal"  textLength="53" lengthAdjust="spacingAndGlyphs">miLISI = 1,854</text>
<text x="579.9" y="28.7" font-size="9.0" font-weight="normal" fill="#1a1a1a" text-anchor="start" font-style="normal"  textLength="53.4" lengthAdjust="spacingAndGlyphs">miLISI = 1,167</text>
<path d="M417.6 39.1h0.01 M417.7 44.9h0.01 M421.8 44.2h0.01 M415.9 44.5h0.01 M422.5 42.0h0.01 M418.9 42.8h0.01 M416.9 42.1h0.01 M423.5 41.3h0.01 M423.2 49.4h0.01 M413.3 53.2h0.01 M414.1 50.5h0.01 M417.6 43.7h0.01 M408.0 44.0h0.01 M413.4 43.9h0.01 M419.9 49.6h0.01 M411.1 46.0h0.01 M411.1 42.0h0.01 M413.3 50.8h0.01 M422.5 46.0h0.01 M417.6 40.1h0.01 M415.5 43.3h0.01 M418.4 50.8h0.01 M415.2 52.2h0.01 M420.4 46.8h0.01 M414.4 43.7h0.01 M413.7 47.1h0.01 M414.3 52.9h0.01 M419.0 47.3h0.01 M416.0 43.6h0.01 M417.8 40.7h0.01 M417.1 40.7h0.01 M415.3 50.4h0.01 M412.0 37.4h0.01 M420.2 47.1h0.01 M421.3 41.0h0.01 M421.0 46.1h0.01 M421.5 39.7h0.01 M412.7 43.5h0.01 M416.6 35.5h0.01 M420.1 42.5h0.01 M417.4 39.9h0.01 M418.2 39.0h0.01 M410.0 46.9h0.01 M414.1 50.6h0.01 M412.5 44.7h0.01 M407.2 40.4h0.01 M413.5 45.5h0.01 M412.5 50.9h0.01 M417.8 44.4h0.01 M419.5 52.2h0.01 M424.6 40.9h0.01 M421.1 49.5h0.01 M419.2 41.2h0.01 M416.3 39.9h0.01 M411.4 41.8h0.01 M412.9 36.7h0.01 M411.5 39.1h0.01 M427.2 41.3h0.01 M418.7 48.5h0.01 M417.3 45.8h0.01 M423.8 44.4h0.01 M413.0 48.6h0.01 M413.4 43.4h0.01 M415.8 43.5h0.01 M413.2 43.0h0.01 M415.8 38.1h0.01 M416.8 46.7h0.01 M414.7 42.7h0.01 M408.6 44.5h0.01 M412.5 44.4h0.01 M410.1 52.0h0.01 M413.6 52.7h0.01 M422.8 42.8h0.01 M416.6 46.0h0.01 M413.5 50.6h0.01 M419.8 40.0h0.01 M417.3 47.2h0.01 M410.7 41.2h0.01 M413.7 52.5h0.01 M415.4 53.5h0.01 M416.7 44.7h0.01 M419.4 39.1h0.01 M413.1 41.2h0.01 M420.4 49.8h0.01 M420.4 37.2h0.01 M418.6 46.4h0.01 M422.7 47.9h0.01 M419.0 46.0h0.01 M414.5 48.7h0.01 M407.7 50.3h0.01 M413.1 46.9h0.01 M414.1 46.1h0.01 M417.6 40.3h0.01 M413.7 52.1h0.01 M422.5 47.3h0.01 M418.7 38.0h0.01 M408.4 43.1h0.01 M425.7 46.0h0.01 M413.9 46.2h0.01 M423.8 43.6h0.01 M408.0 45.1h0.01 M415.0 51.1h0.01 M425.1 41.7h0.01 M421.6 42.5h0.01 M421.9 36.7h0.01 M421.5 37.5h0.01 M419.1 42.7h0.01 M413.5 40.8h0.01 M414.2 46.9h0.01 M415.6 43.5h0.01 M418.3 49.5h0.01 M416.8 45.2h0.01 M415.9 53.3h0.01 M413.2 48.3h0.01 M414.8 41.1h0.01 M420.1 47.6h0.01 M411.6 35.9h0.01 M424.0 43.2h0.01 M421.8 46.0h0.01 M421.1 47.5h0.01 M416.0 42.8h0.01 M413.2 48.5h0.01 M411.6 41.5h0.01 M418.5 46.7h0.01 M417.2 42.9h0.01 M422.3 52.8h0.01 M409.9 52.3h0.01 M412.1 38.3h0.01 M415.9 47.2h0.01 M409.9 50.9h0.01 M416.6 50.6h0.01 M415.4 52.7h0.01 M423.0 40.6h0.01 M421.7 52.7h0.01 M409.9 38.8h0.01 M412.5 40.7h0.01 M412.0 40.9h0.01 M415.9 41.7h0.01 M414.0 40.4h0.01 M414.4 52.2h0.01 M410.7 52.5h0.01 M421.6 46.9h0.01 M417.0 49.9h0.01 M418.3 48.6h0.01 M409.1 37.3h0.01 M423.0 42.1h0.01 M420.5 41.5h0.01 M412.2 43.9h0.01 M417.7 47.7h0.01 M413.0 38.8h0.01 M407.8 45.9h0.01 M416.1 50.7h0.01 M409.0 50.1h0.01 M421.4 51.5h0.01 M422.2 48.1h0.01 M410.1 46.2h0.01 M410.1 45.6h0.01 M413.6 43.3h0.01 M410.4 51.2h0.01 M413.8 43.5h0.01 M407.9 45.7h0.01 M418.8 40.3h0.01 M415.9 41.9h0.01 M416.8 47.2h0.01 M419.4 49.6h0.01 M417.7 53.1h0.01 M407.8 46.7h0.01 M419.7 44.4h0.01 M416.6 48.2h0.01 M408.8 50.2h0.01" stroke="#F5E4C6" stroke-width="1.00" stroke-linecap="round" fill="none" opacity="0.75"/>
<path d="M460.6 29.2h0.01 M428.4 41.9h0.01 M445.2 43.0h0.01 M469.0 42.9h0.01 M457.0 35.8h0.01 M441.5 32.7h0.01 M472.1 42.3h0.01 M447.6 37.9h0.01 M466.4 51.4h0.01 M450.5 39.7h0.01 M444.1 42.4h0.01 M441.2 48.8h0.01 M448.8 34.3h0.01 M465.3 39.2h0.01 M450.6 55.4h0.01 M448.4 38.9h0.01 M464.5 37.2h0.01 M459.2 51.3h0.01 M440.1 50.6h0.01 M459.3 41.3h0.01 M457.0 35.5h0.01 M464.9 42.1h0.01 M460.7 27.7h0.01 M448.9 52.9h0.01 M437.4 46.5h0.01 M437.5 41.1h0.01 M456.0 54.2h0.01 M469.8 40.4h0.01 M457.4 52.2h0.01 M462.6 49.8h0.01 M454.5 34.9h0.01 M461.3 47.8h0.01 M430.7 51.7h0.01 M441.7 50.5h0.01 M455.0 45.6h0.01 M452.6 29.7h0.01 M458.7 35.8h0.01 M468.5 41.2h0.01 M430.2 48.5h0.01 M449.3 45.2h0.01 M464.8 29.3h0.01 M441.7 47.2h0.01 M461.1 54.4h0.01 M444.0 35.4h0.01 M441.6 42.7h0.01 M426.4 38.1h0.01 M458.4 31.1h0.01 M441.4 54.7h0.01 M435.8 29.3h0.01 M464.4 34.8h0.01 M452.2 49.3h0.01 M461.6 51.8h0.01 M442.4 56.5h0.01 M438.2 42.9h0.01 M441.5 42.0h0.01 M467.4 45.0h0.01 M436.8 33.1h0.01 M455.3 34.1h0.01 M449.2 38.9h0.01 M462.0 32.3h0.01 M445.3 49.5h0.01 M435.4 55.4h0.01 M442.8 35.5h0.01 M462.5 30.2h0.01 M462.6 27.3h0.01 M468.8 45.1h0.01 M454.5 31.0h0.01 M428.4 37.1h0.01 M459.5 32.4h0.01 M437.5 48.2h0.01 M459.7 36.9h0.01 M449.5 37.0h0.01 M451.8 39.6h0.01 M444.9 34.7h0.01 M438.9 34.7h0.01 M455.1 35.9h0.01 M449.6 43.2h0.01 M441.5 57.2h0.01 M464.5 48.2h0.01 M460.7 50.5h0.01 M452.0 42.1h0.01 M443.9 42.4h0.01 M447.7 44.5h0.01 M452.4 54.3h0.01 M457.0 35.4h0.01 M434.9 53.8h0.01 M470.3 49.1h0.01 M458.9 50.8h0.01 M448.4 41.2h0.01 M451.9 56.8h0.01 M453.2 43.0h0.01 M444.8 54.3h0.01 M441.1 48.1h0.01 M430.0 44.5h0.01 M464.9 46.5h0.01 M453.6 31.4h0.01 M447.5 55.1h0.01 M458.2 34.8h0.01 M446.9 43.7h0.01 M440.8 45.3h0.01 M436.1 48.3h0.01 M463.7 36.0h0.01 M427.4 49.4h0.01 M438.0 53.9h0.01 M461.5 51.8h0.01 M467.9 33.8h0.01 M434.6 44.3h0.01 M439.4 55.6h0.01 M435.3 47.8h0.01 M427.6 45.3h0.01 M447.8 53.7h0.01 M436.5 51.1h0.01 M434.0 43.4h0.01 M438.8 58.3h0.01 M460.6 28.5h0.01 M433.4 34.3h0.01 M438.0 54.0h0.01 M459.0 46.9h0.01 M446.7 50.1h0.01 M450.5 41.1h0.01 M444.7 37.4h0.01 M432.0 45.2h0.01 M450.9 44.1h0.01 M465.0 46.9h0.01 M436.0 33.9h0.01 M462.5 31.2h0.01 M432.7 42.7h0.01 M469.2 46.4h0.01 M465.5 51.8h0.01 M462.1 29.4h0.01 M444.6 28.3h0.01 M439.6 32.2h0.01 M459.0 31.6h0.01 M434.9 43.5h0.01 M443.3 32.7h0.01 M453.0 43.4h0.01 M442.3 41.3h0.01 M427.2 46.6h0.01 M435.4 37.9h0.01 M457.9 40.6h0.01 M432.0 39.8h0.01 M462.6 40.5h0.01 M440.5 51.4h0.01 M465.9 50.1h0.01 M446.6 55.4h0.01 M461.4 30.7h0.01 M467.1 46.5h0.01 M443.7 43.9h0.01 M431.6 51.8h0.01 M427.4 48.7h0.01 M442.0 39.4h0.01 M455.8 33.2h0.01 M446.0 55.3h0.01 M443.9 51.5h0.01 M435.8 55.4h0.01 M436.1 46.7h0.01 M441.8 35.0h0.01 M427.9 48.9h0.01 M437.3 38.5h0.01 M439.5 43.7h0.01 M439.9 51.8h0.01 M449.4 50.0h0.01 M432.7 52.2h0.01 M457.7 32.3h0.01 M426.2 40.3h0.01 M434.5 53.2h0.01 M454.2 49.4h0.01 M447.2 50.3h0.01 M459.6 44.0h0.01 M467.6 38.6h0.01 M432.3 46.1h0.01 M428.5 46.7h0.01 M432.4 47.2h0.01 M467.1 38.2h0.01 M430.4 48.6h0.01 M455.2 45.6h0.01 M471.2 46.3h0.01 M463.2 48.4h0.01 M448.6 35.6h0.01 M457.7 45.0h0.01 M433.8 46.0h0.01 M465.6 37.8h0.01 M448.0 44.6h0.01 M466.9 39.7h0.01 M444.3 42.9h0.01 M428.9 41.7h0.01 M429.3 50.6h0.01 M433.0 33.5h0.01 M445.3 47.6h0.01 M462.7 42.5h0.01 M439.9 38.8h0.01 M449.2 31.2h0.01 M463.1 32.0h0.01 M458.1 34.1h0.01 M449.3 48.3h0.01 M443.2 32.2h0.01 M465.8 30.6h0.01 M452.4 54.8h0.01 M466.0 33.8h0.01 M427.3 44.9h0.01 M451.7 37.4h0.01 M459.4 29.6h0.01 M457.6 35.2h0.01 M451.5 33.0h0.01 M454.3 35.6h0.01 M433.1 51.3h0.01 M465.3 38.3h0.01 M445.2 49.6h0.01 M461.1 42.6h0.01 M432.3 53.4h0.01 M448.8 49.5h0.01 M441.5 38.5h0.01 M459.0 30.8h0.01 M461.9 44.6h0.01 M456.0 52.0h0.01 M458.2 57.0h0.01 M458.8 41.0h0.01 M444.8 38.4h0.01 M457.9 38.9h0.01 M442.8 56.7h0.01 M467.5 48.4h0.01 M468.3 40.9h0.01 M456.8 35.9h0.01 M441.6 27.9h0.01 M441.6 37.4h0.01 M430.9 35.0h0.01 M462.7 34.9h0.01 M448.8 35.7h0.01 M438.8 41.7h0.01 M438.4 50.8h0.01 M467.8 37.7h0.01 M432.0 31.2h0.01 M450.5 48.7h0.01 M449.3 38.1h0.01 M472.9 55.8h0.01 M455.3 30.6h0.01 M453.1 33.0h0.01 M428.9 38.2h0.01 M475.2 51.2h0.01 M458.1 42.4h0.01 M464.4 50.0h0.01 M433.8 43.4h0.01 M446.3 43.2h0.01 M462.1 50.1h0.01 M453.2 52.1h0.01 M440.9 40.0h0.01 M451.2 44.7h0.01 M437.3 51.5h0.01 M442.8 55.8h0.01 M451.9 29.3h0.01 M440.9 51.7h0.01 M458.8 49.8h0.01 M445.7 44.2h0.01 M435.9 40.3h0.01 M439.5 47.9h0.01 M435.4 45.9h0.01 M443.7 32.3h0.01 M433.8 51.5h0.01 M436.0 31.4h0.01 M435.3 34.7h0.01 M471.7 55.6h0.01 M451.2 30.0h0.01 M442.9 33.9h0.01 M459.8 49.9h0.01 M465.9 40.5h0.01 M450.7 41.7h0.01 M445.3 43.8h0.01 M461.4 51.4h0.01 M441.3 46.4h0.01 M444.7 39.3h0.01 M446.8 58.3h0.01 M442.0 37.8h0.01 M441.0 30.0h0.01 M458.4 54.1h0.01 M444.3 30.2h0.01 M467.4 32.9h0.01 M461.2 53.9h0.01 M442.7 52.8h0.01 M462.5 38.4h0.01 M450.8 38.7h0.01 M450.9 53.7h0.01 M436.3 53.9h0.01 M435.1 52.9h0.01 M431.0 36.0h0.01 M447.1 53.7h0.01 M461.8 33.2h0.01 M471.6 56.6h0.01 M441.2 36.2h0.01 M447.0 59.6h0.01 M454.5 51.2h0.01 M464.1 38.6h0.01 M427.6 39.0h0.01 M452.8 38.2h0.01 M454.8 36.7h0.01 M443.1 44.1h0.01 M445.2 36.7h0.01 M440.9 30.8h0.01 M424.6 42.4h0.01 M444.2 42.0h0.01 M454.0 42.6h0.01 M444.0 52.8h0.01 M450.6 55.2h0.01 M461.2 49.0h0.01 M448.9 44.7h0.01 M455.7 43.0h0.01 M457.4 46.1h0.01 M448.3 39.9h0.01 M454.7 32.0h0.01 M467.1 41.8h0.01 M464.9 37.0h0.01 M436.6 49.3h0.01 M469.9 52.6h0.01 M438.6 28.4h0.01 M461.8 50.7h0.01 M449.9 38.6h0.01 M448.4 34.4h0.01 M459.5 32.6h0.01 M441.4 40.2h0.01 M449.6 41.3h0.01 M468.5 34.5h0.01 M440.5 41.4h0.01 M455.5 46.0h0.01 M441.4 59.1h0.01 M438.9 53.7h0.01 M448.7 50.7h0.01 M464.3 42.7h0.01 M438.8 43.4h0.01 M458.1 37.6h0.01 M457.9 31.6h0.01 M468.9 56.9h0.01 M468.5 46.8h0.01 M430.8 51.0h0.01 M468.3 52.3h0.01 M464.3 42.7h0.01 M446.6 50.5h0.01 M461.1 50.0h0.01 M444.0 49.6h0.01 M462.4 50.8h0.01 M447.2 33.5h0.01 M450.2 50.2h0.01 M455.2 29.6h0.01 M436.3 34.4h0.01 M436.0 41.0h0.01 M461.0 29.7h0.01 M469.8 46.9h0.01 M461.3 45.5h0.01 M443.1 37.4h0.01 M429.7 48.5h0.01 M426.6 49.3h0.01 M472.9 49.8h0.01 M456.9 54.3h0.01 M476.7 54.2h0.01 M457.8 54.5h0.01 M458.2 38.4h0.01 M453.1 55.8h0.01 M448.3 55.3h0.01 M442.0 36.3h0.01 M439.3 50.1h0.01 M430.0 34.8h0.01 M445.1 30.5h0.01 M456.1 40.0h0.01 M467.3 36.3h0.01 M452.4 33.9h0.01 M449.1 45.7h0.01 M439.3 44.7h0.01 M426.4 39.7h0.01 M439.3 53.1h0.01 M467.2 51.2h0.01 M457.1 53.8h0.01 M464.2 30.7h0.01 M432.8 51.6h0.01 M464.0 35.0h0.01 M455.3 47.6h0.01 M456.3 29.1h0.01 M445.1 29.6h0.01 M462.0 32.7h0.01 M437.9 35.9h0.01 M458.5 38.5h0.01 M453.9 27.3h0.01 M431.9 49.0h0.01 M472.6 53.7h0.01 M449.2 42.2h0.01 M427.6 42.5h0.01 M474.1 48.9h0.01 M433.4 49.0h0.01 M461.4 38.0h0.01 M463.7 44.9h0.01 M448.2 43.8h0.01 M439.1 34.1h0.01 M466.1 40.6h0.01 M474.3 52.0h0.01 M427.6 48.3h0.01 M440.4 32.9h0.01 M436.5 32.1h0.01 M427.2 41.0h0.01 M448.1 37.0h0.01 M469.0 44.8h0.01 M455.7 56.0h0.01 M437.6 48.8h0.01 M469.8 51.0h0.01 M438.2 32.1h0.01 M426.5 37.9h0.01 M429.0 38.5h0.01 M434.3 40.6h0.01 M456.8 49.4h0.01 M431.0 45.7h0.01 M427.0 42.7h0.01 M466.6 34.6h0.01 M467.0 34.3h0.01 M445.5 52.2h0.01 M451.2 49.3h0.01 M437.3 31.9h0.01 M453.4 34.1h0.01 M454.2 28.6h0.01 M461.0 42.4h0.01 M474.2 55.5h0.01 M468.4 47.9h0.01 M447.7 32.5h0.01 M459.0 29.8h0.01 M431.5 47.4h0.01" stroke="#A3B3BA" stroke-width="0.96" stroke-linecap="round" fill="none" opacity="0.65"/>
<path d="M466.4 36.6h0.01 M448.3 51.3h0.01 M439.0 38.9h0.01 M458.4 29.3h0.01 M466.6 38.1h0.01 M459.5 31.8h0.01 M468.4 42.9h0.01 M439.7 50.4h0.01 M452.9 51.0h0.01 M459.1 43.2h0.01 M439.1 33.3h0.01 M438.8 40.7h0.01 M444.7 53.4h0.01 M437.5 48.1h0.01 M456.1 43.5h0.01 M451.1 37.3h0.01 M441.2 46.3h0.01 M449.6 44.3h0.01 M451.4 37.6h0.01 M468.5 45.1h0.01 M441.4 40.7h0.01 M434.7 41.8h0.01 M453.6 42.5h0.01 M442.9 43.2h0.01 M446.2 48.0h0.01 M453.8 31.2h0.01 M445.7 44.3h0.01 M444.3 39.9h0.01 M438.3 41.1h0.01 M441.4 44.0h0.01 M457.4 32.2h0.01 M445.1 46.7h0.01 M458.9 52.1h0.01 M442.3 37.0h0.01 M455.8 45.3h0.01 M457.2 41.2h0.01 M442.2 32.8h0.01 M456.3 29.3h0.01 M447.5 37.9h0.01 M451.0 41.8h0.01 M442.1 54.4h0.01 M466.0 41.7h0.01 M463.4 37.6h0.01 M461.0 49.7h0.01 M447.7 49.4h0.01 M446.8 31.8h0.01 M451.1 30.4h0.01 M460.7 35.2h0.01 M453.4 50.9h0.01 M456.7 54.2h0.01 M461.8 49.0h0.01 M460.5 48.2h0.01 M467.4 44.0h0.01 M458.2 43.4h0.01 M451.9 54.6h0.01 M445.4 33.0h0.01 M452.2 35.8h0.01 M458.9 45.8h0.01 M456.5 37.1h0.01 M461.6 40.8h0.01 M440.3 45.9h0.01 M457.1 44.6h0.01 M457.5 44.0h0.01 M465.5 40.3h0.01 M463.6 46.2h0.01 M438.1 36.2h0.01 M444.6 52.7h0.01 M452.3 54.7h0.01 M459.6 45.3h0.01 M445.3 43.7h0.01 M462.0 37.7h0.01 M446.8 54.0h0.01 M439.3 45.0h0.01 M460.2 36.1h0.01 M438.9 32.5h0.01 M443.0 46.1h0.01 M445.9 32.6h0.01 M439.7 47.4h0.01 M464.8 32.3h0.01 M448.6 43.5h0.01 M466.7 51.0h0.01 M460.6 36.9h0.01 M452.4 55.1h0.01 M439.8 32.9h0.01 M452.0 50.5h0.01 M454.6 45.9h0.01 M455.6 47.8h0.01 M447.0 39.8h0.01 M448.1 31.8h0.01 M439.4 46.2h0.01 M467.9 45.2h0.01 M457.0 38.1h0.01 M463.5 44.5h0.01 M458.0 56.3h0.01 M450.4 30.2h0.01 M455.1 34.0h0.01 M459.0 36.2h0.01 M440.2 35.4h0.01 M455.4 30.3h0.01 M462.7 47.4h0.01 M441.6 44.6h0.01 M442.0 44.1h0.01 M440.1 36.0h0.01 M451.5 43.9h0.01 M447.1 37.8h0.01 M443.8 48.5h0.01 M448.1 33.1h0.01 M443.6 39.1h0.01 M462.7 40.3h0.01 M462.7 40.8h0.01 M456.6 36.7h0.01 M449.1 47.5h0.01 M440.0 40.6h0.01 M444.6 35.5h0.01 M446.6 34.6h0.01 M455.4 32.5h0.01 M445.5 35.3h0.01 M442.0 50.6h0.01 M459.6 50.9h0.01 M439.3 33.6h0.01 M446.2 41.6h0.01 M437.5 37.6h0.01 M446.5 31.4h0.01 M466.2 33.3h0.01 M447.3 33.8h0.01 M451.3 34.8h0.01 M442.9 56.0h0.01 M460.8 49.0h0.01 M446.9 55.6h0.01 M469.5 47.1h0.01 M452.2 40.6h0.01 M465.1 34.4h0.01 M470.5 45.8h0.01 M461.1 47.3h0.01 M447.5 50.3h0.01 M453.9 41.0h0.01 M454.3 56.8h0.01 M462.9 38.5h0.01 M447.9 39.4h0.01 M437.4 38.1h0.01 M464.6 42.1h0.01 M438.8 35.5h0.01 M462.4 35.7h0.01 M439.5 40.8h0.01 M456.2 31.4h0.01 M447.8 44.2h0.01 M462.6 39.8h0.01 M462.3 30.6h0.01 M465.6 46.3h0.01 M441.1 51.1h0.01 M447.7 50.9h0.01 M460.9 44.6h0.01 M448.8 35.9h0.01 M463.8 50.2h0.01 M455.6 46.9h0.01 M460.0 39.2h0.01 M452.1 50.5h0.01 M440.9 49.0h0.01 M460.1 40.8h0.01 M468.0 47.5h0.01 M449.3 36.3h0.01 M453.6 49.1h0.01 M461.6 50.0h0.01 M440.7 39.3h0.01 M452.8 31.0h0.01 M467.0 39.9h0.01 M454.7 37.3h0.01 M467.5 44.5h0.01 M452.7 32.8h0.01 M437.3 48.2h0.01 M457.1 40.7h0.01 M453.0 39.3h0.01 M443.5 49.8h0.01 M447.5 35.7h0.01 M449.8 35.1h0.01 M463.7 30.4h0.01 M454.7 47.1h0.01 M452.1 48.8h0.01 M448.3 45.6h0.01 M436.9 35.1h0.01 M454.4 45.4h0.01 M454.9 52.3h0.01 M444.6 34.5h0.01 M456.9 36.5h0.01 M460.0 52.7h0.01 M462.7 46.0h0.01 M445.7 39.6h0.01 M456.9 45.6h0.01 M447.8 29.9h0.01 M447.8 32.9h0.01 M457.2 46.1h0.01 M458.7 54.8h0.01 M440.1 38.2h0.01 M466.2 39.6h0.01 M463.5 32.7h0.01 M448.2 50.7h0.01 M445.6 47.6h0.01 M456.2 45.8h0.01 M436.5 37.5h0.01 M454.8 48.0h0.01 M453.1 45.3h0.01 M449.3 35.4h0.01 M446.6 35.8h0.01 M461.3 31.4h0.01 M440.5 41.7h0.01 M458.4 47.4h0.01 M444.2 42.1h0.01 M435.2 44.1h0.01 M439.9 39.9h0.01 M451.5 34.9h0.01 M443.7 51.2h0.01 M447.4 49.9h0.01 M463.8 47.6h0.01 M449.0 43.5h0.01 M467.4 43.0h0.01 M436.4 41.0h0.01 M465.0 47.2h0.01 M452.5 53.9h0.01 M461.7 33.7h0.01 M461.1 51.0h0.01 M450.4 52.1h0.01 M446.5 34.8h0.01 M460.2 50.0h0.01 M458.2 53.5h0.01 M438.8 35.6h0.01 M447.8 49.6h0.01 M465.9 42.4h0.01 M462.2 50.7h0.01 M453.1 47.1h0.01 M460.1 51.5h0.01 M442.2 53.1h0.01 M461.7 33.4h0.01 M441.6 46.7h0.01 M458.1 31.9h0.01 M439.6 47.8h0.01 M454.8 53.6h0.01 M451.2 39.2h0.01 M443.7 52.8h0.01 M445.4 53.9h0.01 M454.7 38.9h0.01 M453.5 50.8h0.01 M443.6 52.0h0.01 M448.4 39.1h0.01 M444.4 49.0h0.01 M449.5 49.9h0.01 M459.7 29.7h0.01 M452.4 41.2h0.01 M450.8 43.6h0.01 M459.7 38.5h0.01 M453.6 51.5h0.01 M459.3 35.7h0.01 M439.1 35.8h0.01 M467.6 38.9h0.01 M459.0 39.3h0.01 M460.9 43.2h0.01 M469.4 42.2h0.01 M458.5 47.9h0.01 M455.3 32.6h0.01 M456.8 38.5h0.01 M458.3 50.0h0.01 M443.3 37.9h0.01 M444.5 55.2h0.01 M453.3 39.1h0.01 M465.8 41.8h0.01 M441.1 37.1h0.01 M437.8 38.9h0.01 M451.7 40.4h0.01 M471.4 42.2h0.01 M440.8 33.9h0.01 M457.2 43.4h0.01 M450.5 41.0h0.01 M449.3 47.6h0.01 M455.4 28.1h0.01 M452.0 34.2h0.01 M455.8 40.9h0.01 M459.7 45.5h0.01 M453.0 29.3h0.01 M461.2 35.8h0.01 M450.3 44.1h0.01 M445.3 51.6h0.01 M437.0 41.6h0.01 M444.9 43.7h0.01 M456.7 46.4h0.01 M468.1 40.1h0.01 M452.0 49.6h0.01 M453.1 35.5h0.01 M439.1 42.4h0.01 M465.8 45.3h0.01 M454.3 35.7h0.01 M441.5 40.3h0.01 M465.6 43.0h0.01 M456.0 44.3h0.01 M449.8 53.9h0.01 M462.3 32.8h0.01 M465.4 46.7h0.01 M448.4 49.4h0.01 M450.4 48.3h0.01 M450.8 46.1h0.01 M452.2 39.6h0.01 M460.2 44.3h0.01 M439.3 43.1h0.01 M445.2 46.3h0.01 M442.7 37.0h0.01 M444.6 36.6h0.01 M455.6 51.1h0.01 M456.5 45.5h0.01 M461.8 36.7h0.01 M451.0 46.1h0.01 M443.0 48.9h0.01 M444.2 32.2h0.01 M457.4 38.1h0.01 M442.3 46.8h0.01 M454.5 41.9h0.01 M451.8 44.8h0.01 M462.1 48.0h0.01 M459.3 51.3h0.01 M449.3 46.4h0.01 M451.7 47.9h0.01 M442.7 54.1h0.01 M445.5 42.7h0.01 M438.9 35.1h0.01 M459.6 38.8h0.01 M445.6 30.9h0.01 M466.1 41.3h0.01 M456.4 35.0h0.01 M459.2 29.1h0.01 M451.2 36.8h0.01 M466.9 39.7h0.01 M443.3 55.3h0.01 M445.8 38.1h0.01 M455.0 38.8h0.01 M445.8 41.6h0.01 M451.6 33.3h0.01 M454.7 43.7h0.01 M455.2 49.9h0.01 M450.6 33.4h0.01 M446.7 38.6h0.01 M451.5 33.1h0.01 M465.1 35.9h0.01 M453.8 42.4h0.01 M440.6 39.8h0.01 M440.5 43.2h0.01 M459.8 50.1h0.01 M451.0 45.3h0.01 M447.2 54.0h0.01 M451.1 51.8h0.01 M438.9 39.8h0.01 M459.4 51.2h0.01 M450.8 51.2h0.01 M463.2 40.4h0.01 M459.7 40.4h0.01 M445.4 49.5h0.01 M436.4 41.3h0.01 M445.0 42.6h0.01 M448.1 44.9h0.01 M449.7 48.9h0.01 M456.8 35.6h0.01 M443.7 33.1h0.01 M446.9 39.2h0.01 M453.6 49.4h0.01 M447.1 43.1h0.01 M438.3 45.2h0.01 M456.0 37.6h0.01 M444.8 48.0h0.01 M460.4 38.0h0.01 M444.7 45.0h0.01 M454.5 50.5h0.01 M446.1 54.8h0.01 M458.2 47.2h0.01 M455.7 36.6h0.01 M453.6 53.5h0.01 M438.0 37.2h0.01 M446.5 38.0h0.01 M462.3 46.1h0.01 M442.0 47.4h0.01 M436.8 46.0h0.01 M465.4 45.0h0.01 M452.9 39.6h0.01 M456.0 53.0h0.01 M457.0 50.3h0.01 M452.8 53.7h0.01 M461.7 42.4h0.01 M447.7 36.0h0.01 M471.3 46.6h0.01 M437.3 41.1h0.01 M450.6 44.2h0.01 M445.4 53.9h0.01 M453.3 48.9h0.01 M443.5 52.2h0.01 M455.8 43.1h0.01 M450.0 54.7h0.01 M455.6 42.9h0.01 M449.1 42.6h0.01 M445.8 40.6h0.01 M457.9 30.5h0.01 M466.6 37.0h0.01 M445.0 43.0h0.01 M445.8 48.7h0.01 M446.1 53.1h0.01 M465.8 47.2h0.01 M444.1 45.6h0.01 M448.8 41.9h0.01 M444.8 45.0h0.01 M459.1 52.1h0.01 M443.9 44.0h0.01 M455.9 53.5h0.01 M452.5 52.2h0.01 M467.2 40.4h0.01 M449.7 56.7h0.01 M454.5 43.6h0.01 M461.1 44.1h0.01 M454.8 45.9h0.01 M444.5 37.4h0.01 M465.7 49.5h0.01 M439.4 36.9h0.01 M441.0 32.7h0.01 M461.9 45.9h0.01 M434.9 43.2h0.01 M444.0 51.3h0.01 M457.1 49.7h0.01 M454.8 29.1h0.01 M442.8 48.9h0.01 M439.0 38.1h0.01 M467.9 40.2h0.01 M441.1 49.1h0.01 M448.6 50.2h0.01 M448.9 53.0h0.01 M463.7 32.2h0.01 M455.8 41.4h0.01 M447.6 43.7h0.01 M469.0 45.8h0.01 M442.2 46.9h0.01 M452.4 40.8h0.01 M441.3 34.2h0.01 M466.5 44.6h0.01 M461.7 48.2h0.01 M451.0 42.1h0.01 M447.0 48.4h0.01 M451.5 47.9h0.01 M446.3 38.4h0.01 M451.3 40.2h0.01 M464.7 38.8h0.01 M444.8 43.3h0.01 M439.6 47.6h0.01 M443.5 46.4h0.01 M447.0 41.8h0.01 M445.5 40.2h0.01 M449.2 52.4h0.01 M451.6 52.4h0.01 M453.1 37.0h0.01 M459.5 46.1h0.01 M440.4 51.9h0.01 M459.4 46.1h0.01 M453.5 48.7h0.01 M438.6 48.4h0.01 M463.2 40.7h0.01 M461.6 47.3h0.01 M453.4 49.7h0.01 M451.9 30.3h0.01 M453.1 48.5h0.01 M441.2 40.7h0.01 M465.8 39.4h0.01 M448.4 48.1h0.01 M453.8 33.8h0.01 M443.2 39.0h0.01 M460.4 47.4h0.01 M442.2 33.2h0.01 M451.9 38.9h0.01 M468.6 45.8h0.01 M453.6 44.2h0.01 M452.9 44.9h0.01 M438.5 35.2h0.01 M464.7 34.4h0.01 M442.0 34.4h0.01 M448.6 36.9h0.01 M447.6 52.1h0.01 M463.9 48.2h0.01 M440.0 46.5h0.01 M460.0 34.3h0.01 M459.6 41.0h0.01" stroke="#A3B3BA" stroke-width="0.96" stroke-linecap="round" fill="none" opacity="0.75"/>
<path d="M468.1 50.7h0.01 M474.2 53.1h0.01 M477.3 55.9h0.01 M474.8 54.0h0.01 M471.1 50.9h0.01 M469.0 53.2h0.01 M472.5 48.4h0.01 M469.8 53.5h0.01 M464.8 50.8h0.01 M467.3 49.6h0.01 M473.1 53.2h0.01 M473.1 52.2h0.01 M469.0 51.1h0.01 M474.7 55.6h0.01 M472.5 51.0h0.01 M470.3 51.3h0.01 M473.0 54.7h0.01 M476.3 53.9h0.01 M468.6 49.8h0.01 M476.0 51.6h0.01 M469.3 52.9h0.01 M471.8 53.4h0.01 M473.6 53.2h0.01 M467.8 53.6h0.01 M468.5 55.5h0.01 M473.8 53.9h0.01 M468.8 52.0h0.01 M475.9 50.2h0.01 M473.7 52.3h0.01 M473.3 53.4h0.01 M470.1 52.1h0.01 M474.0 54.1h0.01 M479.1 56.4h0.01 M463.2 56.0h0.01 M472.7 52.5h0.01 M471.6 51.6h0.01 M470.3 55.4h0.01 M472.2 54.9h0.01 M474.6 54.2h0.01 M471.7 53.6h0.01 M474.0 55.2h0.01 M476.4 57.8h0.01 M471.5 54.6h0.01 M476.0 56.5h0.01 M472.5 53.8h0.01 M467.2 53.8h0.01 M475.4 53.3h0.01 M471.8 52.2h0.01 M476.8 53.2h0.01 M470.8 56.4h0.01 M473.1 55.5h0.01 M470.6 54.8h0.01 M471.3 55.2h0.01 M472.3 53.3h0.01 M474.7 56.8h0.01 M469.3 52.2h0.01 M472.1 51.3h0.01 M472.5 55.2h0.01 M474.1 50.2h0.01 M468.9 51.8h0.01 M470.0 57.2h0.01 M471.0 49.0h0.01 M469.4 53.5h0.01 M472.9 50.5h0.01 M473.4 51.7h0.01 M473.8 51.8h0.01 M471.2 52.2h0.01 M467.1 52.8h0.01 M473.9 54.1h0.01 M469.4 50.4h0.01" stroke="#A3B3BA" stroke-width="0.96" stroke-linecap="round" fill="none" opacity="0.75"/>
<path d="M426.0 59.7h0.01 M425.1 59.7h0.01 M426.1 59.2h0.01 M424.1 59.9h0.01 M415.8 63.8h0.01 M421.9 61.9h0.01 M417.7 63.1h0.01 M413.1 64.2h0.01 M422.2 59.4h0.01 M430.7 57.4h0.01 M421.6 60.3h0.01 M426.9 58.4h0.01 M424.9 60.7h0.01 M413.1 64.1h0.01 M422.9 60.3h0.01 M430.2 58.1h0.01 M426.2 58.8h0.01 M418.7 62.2h0.01 M428.6 58.4h0.01 M424.8 59.9h0.01 M428.9 58.9h0.01 M427.4 59.4h0.01 M424.1 60.0h0.01 M422.8 60.5h0.01 M423.3 60.9h0.01 M419.2 62.2h0.01 M428.1 58.7h0.01 M415.9 63.2h0.01 M430.1 57.0h0.01 M419.7 61.8h0.01 M420.3 61.3h0.01 M423.1 61.6h0.01 M418.2 61.9h0.01 M424.7 60.7h0.01 M414.6 64.5h0.01 M428.8 58.9h0.01 M415.0 64.4h0.01 M428.4 58.4h0.01 M428.4 59.4h0.01 M428.1 59.6h0.01 M426.2 59.4h0.01 M416.4 62.8h0.01 M423.2 60.6h0.01 M414.7 65.5h0.01 M425.8 59.3h0.01 M427.0 58.8h0.01 M417.5 64.1h0.01 M420.6 61.1h0.01 M415.0 63.7h0.01 M424.0 60.2h0.01 M425.9 59.2h0.01 M414.5 64.2h0.01 M424.0 60.9h0.01 M428.1 58.0h0.01 M415.2 63.6h0.01 M429.3 58.7h0.01 M417.3 61.6h0.01 M413.3 65.1h0.01 M414.0 64.2h0.01 M425.2 59.1h0.01 M416.6 64.4h0.01 M429.0 58.0h0.01 M420.7 61.8h0.01 M413.4 63.7h0.01 M427.4 59.1h0.01 M419.1 62.0h0.01 M414.4 63.3h0.01 M412.6 64.6h0.01 M418.0 62.2h0.01 M420.8 60.4h0.01 M422.3 60.1h0.01 M423.8 60.8h0.01 M414.0 63.4h0.01 M413.6 64.3h0.01 M429.2 58.3h0.01 M421.4 61.8h0.01 M425.9 59.6h0.01 M429.3 58.0h0.01 M423.1 61.2h0.01 M426.2 58.9h0.01 M417.6 62.9h0.01 M417.1 62.6h0.01 M421.3 59.8h0.01 M431.5 57.8h0.01 M429.2 56.8h0.01 M416.8 62.7h0.01 M424.9 60.7h0.01 M418.5 63.1h0.01 M419.8 62.0h0.01 M418.3 63.5h0.01" stroke="#7d8285" stroke-width="1.10" stroke-linecap="round" fill="none" opacity="0.85"/>
<path d="M434.3 86.8h0.01 M428.0 83.9h0.01 M449.4 72.1h0.01 M429.8 77.6h0.01 M433.3 80.3h0.01 M442.9 72.1h0.01 M439.4 85.2h0.01 M431.4 72.4h0.01 M425.0 80.6h0.01 M420.7 70.6h0.01 M425.5 81.4h0.01 M444.9 76.8h0.01 M421.5 73.4h0.01 M432.5 84.5h0.01 M425.7 72.0h0.01 M421.9 75.7h0.01 M442.2 78.7h0.01 M430.2 72.3h0.01 M424.3 84.5h0.01 M446.3 71.5h0.01 M433.1 78.6h0.01 M435.4 67.6h0.01 M443.0 84.8h0.01 M419.1 71.7h0.01 M447.2 71.7h0.01 M422.7 69.3h0.01 M444.8 70.0h0.01 M429.4 78.9h0.01 M421.7 73.3h0.01 M453.5 77.5h0.01 M433.0 77.8h0.01 M444.5 76.5h0.01 M426.7 79.9h0.01 M451.2 73.9h0.01 M454.5 79.1h0.01 M438.9 69.5h0.01 M431.4 83.8h0.01 M431.3 78.9h0.01 M445.0 74.9h0.01 M441.6 84.2h0.01 M443.8 72.1h0.01 M429.6 78.8h0.01 M433.0 75.8h0.01 M437.4 83.9h0.01 M420.9 72.3h0.01 M420.1 80.1h0.01 M423.2 75.5h0.01 M442.6 72.8h0.01 M418.0 71.0h0.01 M441.0 75.8h0.01 M450.4 70.2h0.01 M425.5 78.2h0.01 M428.1 72.5h0.01 M421.2 77.6h0.01 M442.6 74.1h0.01 M429.6 76.0h0.01 M425.4 70.4h0.01 M433.4 78.8h0.01 M445.5 68.8h0.01 M428.6 84.0h0.01 M449.5 73.1h0.01 M426.5 79.3h0.01 M430.3 69.9h0.01 M449.0 73.4h0.01 M429.5 73.0h0.01 M430.2 76.8h0.01 M431.1 77.8h0.01 M439.3 73.9h0.01 M441.2 74.8h0.01 M424.1 81.0h0.01 M451.7 69.6h0.01 M441.7 85.9h0.01 M420.2 78.7h0.01 M453.2 77.9h0.01 M449.0 73.4h0.01 M440.2 75.8h0.01 M441.5 84.3h0.01 M440.7 84.9h0.01 M423.0 82.5h0.01 M445.4 82.7h0.01 M422.5 77.5h0.01 M439.0 70.8h0.01 M438.2 76.4h0.01 M435.6 83.4h0.01 M440.9 79.3h0.01 M435.8 70.6h0.01 M422.8 80.9h0.01 M423.4 74.3h0.01 M442.3 82.8h0.01 M420.8 75.2h0.01 M444.3 72.8h0.01 M420.6 78.8h0.01 M422.1 74.5h0.01 M421.1 72.9h0.01 M419.3 76.6h0.01 M429.1 70.1h0.01 M423.8 75.9h0.01 M418.7 73.7h0.01 M420.2 78.1h0.01 M419.9 82.7h0.01 M418.0 73.3h0.01 M442.5 86.9h0.01 M430.7 73.8h0.01 M427.7 81.7h0.01 M429.8 80.3h0.01 M433.5 86.3h0.01 M438.7 71.6h0.01 M434.3 75.1h0.01 M429.3 78.8h0.01 M437.6 69.4h0.01 M439.7 69.8h0.01 M425.0 76.2h0.01 M442.5 86.4h0.01 M436.7 77.5h0.01 M430.3 79.7h0.01 M424.9 68.6h0.01 M438.3 82.0h0.01 M439.5 71.9h0.01 M437.0 71.5h0.01 M449.9 84.6h0.01 M428.1 74.5h0.01 M449.8 74.7h0.01 M431.5 69.4h0.01 M448.7 72.5h0.01 M419.7 76.8h0.01 M424.5 74.9h0.01 M432.4 87.9h0.01 M437.6 75.0h0.01 M445.7 85.9h0.01 M441.6 83.4h0.01 M442.1 72.5h0.01 M425.4 77.0h0.01 M425.5 71.4h0.01 M439.6 70.2h0.01 M437.1 86.8h0.01 M416.0 74.5h0.01 M445.4 73.7h0.01 M431.9 82.1h0.01 M438.6 75.6h0.01 M436.4 69.7h0.01 M417.5 71.4h0.01 M432.6 70.2h0.01 M448.4 76.0h0.01 M441.0 83.8h0.01 M431.7 87.5h0.01 M441.6 88.1h0.01 M446.9 73.1h0.01 M431.0 71.4h0.01 M439.1 74.3h0.01 M430.4 74.3h0.01 M421.5 79.9h0.01 M442.4 75.3h0.01 M421.0 79.9h0.01 M440.1 79.6h0.01 M443.0 81.9h0.01 M451.6 79.4h0.01 M434.7 72.1h0.01 M425.0 74.8h0.01 M426.9 72.3h0.01 M424.1 69.5h0.01 M437.2 77.8h0.01 M443.5 80.8h0.01 M418.8 81.0h0.01 M450.2 71.2h0.01 M447.3 74.9h0.01 M435.1 74.4h0.01 M431.1 80.8h0.01 M432.2 81.1h0.01 M446.2 79.4h0.01 M423.6 78.5h0.01 M447.5 82.2h0.01 M436.9 77.8h0.01 M433.2 82.4h0.01 M437.1 72.2h0.01 M431.1 87.1h0.01 M436.5 76.0h0.01 M420.3 73.8h0.01 M443.4 84.6h0.01 M439.4 87.4h0.01 M430.7 72.0h0.01 M439.1 87.9h0.01 M440.2 84.1h0.01 M438.8 74.4h0.01 M440.6 83.7h0.01 M445.4 70.3h0.01 M430.1 71.7h0.01 M448.9 82.9h0.01 M439.8 79.8h0.01 M445.6 76.7h0.01 M441.6 75.8h0.01 M437.7 71.9h0.01 M439.7 84.9h0.01 M424.5 69.3h0.01 M431.3 73.4h0.01 M442.7 74.5h0.01 M426.4 75.8h0.01 M450.1 82.8h0.01 M419.8 69.8h0.01 M438.9 70.7h0.01 M427.6 85.5h0.01 M447.7 80.8h0.01 M426.6 84.4h0.01 M451.1 79.9h0.01 M438.5 80.8h0.01 M441.2 76.4h0.01 M419.8 76.1h0.01 M431.5 82.8h0.01 M434.4 73.9h0.01 M422.8 84.0h0.01 M437.2 83.2h0.01 M423.8 76.6h0.01 M418.3 67.8h0.01 M428.7 75.5h0.01 M450.5 70.7h0.01 M433.3 69.5h0.01 M447.9 67.5h0.01 M446.3 75.2h0.01 M430.0 68.2h0.01 M437.7 68.9h0.01 M441.2 80.2h0.01 M425.7 82.4h0.01 M443.0 68.1h0.01 M427.5 71.4h0.01 M429.8 85.6h0.01 M441.6 70.1h0.01 M444.0 85.2h0.01 M431.2 82.4h0.01 M448.6 75.6h0.01 M444.9 78.7h0.01 M444.4 85.7h0.01 M421.2 73.4h0.01 M437.2 73.3h0.01 M431.3 71.4h0.01 M429.0 81.9h0.01 M417.4 71.7h0.01 M434.5 75.3h0.01 M441.4 70.8h0.01 M442.6 80.8h0.01 M437.1 70.8h0.01 M420.6 74.3h0.01 M439.4 75.6h0.01 M433.8 68.9h0.01 M451.7 71.8h0.01 M431.9 85.5h0.01 M452.2 75.9h0.01 M432.1 85.5h0.01 M433.3 69.8h0.01 M422.9 72.2h0.01 M445.2 74.4h0.01 M416.2 77.5h0.01 M430.0 83.1h0.01 M449.7 80.0h0.01 M423.6 77.9h0.01 M444.5 69.8h0.01 M439.0 80.8h0.01 M445.0 71.6h0.01 M438.6 66.6h0.01 M430.7 75.4h0.01 M428.6 76.5h0.01 M436.3 68.0h0.01 M437.0 70.7h0.01 M440.2 67.9h0.01 M442.1 75.5h0.01 M433.1 84.6h0.01 M416.8 74.3h0.01 M433.4 70.0h0.01 M433.3 76.4h0.01 M417.8 81.4h0.01 M434.8 69.0h0.01 M438.0 71.7h0.01 M436.9 73.6h0.01 M443.1 77.9h0.01 M444.2 74.9h0.01 M445.0 85.4h0.01 M432.6 77.9h0.01 M418.1 74.3h0.01 M425.8 85.6h0.01 M445.1 80.5h0.01 M441.3 76.8h0.01 M439.6 74.6h0.01 M447.7 77.6h0.01 M450.7 77.5h0.01 M428.5 68.5h0.01 M431.8 73.8h0.01 M419.0 74.9h0.01 M433.3 73.9h0.01 M430.7 75.1h0.01 M440.0 73.6h0.01 M441.4 85.7h0.01 M426.5 71.5h0.01 M434.8 82.1h0.01 M431.8 77.1h0.01 M444.0 78.7h0.01 M420.3 74.9h0.01 M417.5 80.4h0.01 M445.8 81.1h0.01 M416.1 76.7h0.01 M444.5 70.2h0.01 M444.9 69.7h0.01 M424.5 83.2h0.01 M433.0 76.8h0.01 M430.0 69.4h0.01 M445.2 78.0h0.01 M444.5 77.8h0.01 M423.7 72.9h0.01 M435.0 76.6h0.01 M452.5 72.9h0.01 M427.9 72.6h0.01 M425.8 74.3h0.01 M433.4 77.6h0.01 M433.8 85.8h0.01 M428.5 80.2h0.01 M436.5 86.3h0.01 M437.4 87.5h0.01 M428.2 72.1h0.01 M419.0 74.4h0.01 M442.1 76.0h0.01 M448.3 72.0h0.01 M420.9 80.3h0.01 M428.2 74.5h0.01 M416.2 76.9h0.01 M436.2 71.7h0.01 M441.0 78.1h0.01 M449.2 75.4h0.01 M429.4 82.0h0.01 M431.8 77.3h0.01 M425.7 69.6h0.01 M419.0 80.9h0.01 M423.2 72.4h0.01 M447.4 73.9h0.01 M432.6 71.0h0.01 M443.5 72.7h0.01 M450.3 77.6h0.01 M431.3 78.1h0.01 M436.1 82.2h0.01 M449.0 80.5h0.01 M447.7 68.0h0.01 M425.2 73.3h0.01 M435.3 71.9h0.01 M450.1 71.1h0.01 M430.6 78.4h0.01 M427.7 81.7h0.01 M433.3 84.3h0.01 M428.8 84.7h0.01 M449.4 75.8h0.01 M422.2 81.1h0.01 M446.6 72.5h0.01 M448.3 73.5h0.01 M447.3 75.3h0.01 M436.8 78.9h0.01 M431.3 79.0h0.01 M424.1 83.0h0.01 M436.4 73.0h0.01 M449.9 73.6h0.01 M431.8 85.8h0.01 M431.5 80.0h0.01 M441.3 86.4h0.01 M422.9 69.3h0.01 M433.9 70.5h0.01 M445.0 73.1h0.01 M426.3 67.3h0.01 M425.5 75.7h0.01 M422.9 73.3h0.01 M427.3 81.8h0.01 M420.1 77.0h0.01 M439.0 67.8h0.01 M444.5 82.3h0.01 M422.5 67.5h0.01 M437.6 83.5h0.01 M431.7 74.6h0.01 M431.9 83.2h0.01 M417.9 74.2h0.01 M433.2 79.2h0.01 M437.2 71.7h0.01 M450.5 72.4h0.01 M446.5 66.2h0.01 M428.3 77.8h0.01 M450.7 69.5h0.01 M434.2 84.7h0.01 M433.2 81.6h0.01 M424.3 74.7h0.01 M436.3 83.1h0.01 M445.3 80.0h0.01 M441.3 86.4h0.01 M445.9 71.0h0.01 M424.1 76.1h0.01 M451.7 75.0h0.01 M443.6 72.6h0.01 M439.7 85.9h0.01 M435.9 72.0h0.01 M447.5 72.9h0.01 M435.3 78.3h0.01 M437.8 86.0h0.01 M430.2 76.3h0.01 M434.3 71.0h0.01 M426.8 83.0h0.01 M444.5 81.4h0.01 M437.5 72.0h0.01 M436.9 82.5h0.01 M425.3 78.4h0.01 M432.0 73.2h0.01 M441.9 85.9h0.01 M437.8 87.7h0.01 M438.8 82.8h0.01 M438.5 86.9h0.01 M430.5 75.2h0.01 M450.6 71.3h0.01 M435.1 83.0h0.01 M443.6 74.6h0.01 M440.1 87.4h0.01 M421.8 76.4h0.01 M437.5 80.1h0.01 M435.8 67.4h0.01 M425.3 75.9h0.01 M451.6 79.5h0.01 M427.1 78.1h0.01 M442.9 86.3h0.01 M431.6 69.8h0.01 M444.1 69.7h0.01 M445.8 83.1h0.01 M446.7 79.6h0.01 M440.8 67.4h0.01 M423.8 67.7h0.01 M417.7 79.3h0.01 M418.4 77.9h0.01 M421.5 72.6h0.01 M441.8 80.8h0.01 M420.7 75.6h0.01 M430.7 72.1h0.01 M421.2 71.8h0.01 M444.8 73.3h0.01 M451.9 76.6h0.01 M442.6 75.1h0.01 M444.1 68.3h0.01 M454.8 74.7h0.01 M442.9 74.6h0.01 M436.2 79.2h0.01 M440.2 81.6h0.01 M445.6 85.5h0.01 M426.0 78.8h0.01 M423.7 83.2h0.01 M421.9 79.5h0.01 M443.7 75.8h0.01 M423.8 78.4h0.01 M421.6 82.2h0.01 M447.3 70.3h0.01 M415.8 75.1h0.01 M452.3 79.6h0.01 M436.5 79.3h0.01 M429.7 79.2h0.01 M438.8 81.8h0.01 M427.3 70.4h0.01 M432.5 65.9h0.01 M427.9 79.1h0.01 M446.3 79.0h0.01 M426.5 71.9h0.01 M444.0 82.2h0.01 M429.9 88.2h0.01 M439.5 85.9h0.01 M446.3 73.0h0.01 M449.5 73.6h0.01 M447.0 67.8h0.01 M421.0 79.8h0.01 M424.9 73.8h0.01 M422.9 71.1h0.01 M444.2 80.7h0.01 M423.0 68.5h0.01 M420.4 79.3h0.01 M450.3 74.0h0.01 M442.4 83.7h0.01 M446.3 81.8h0.01 M444.9 85.9h0.01 M448.6 71.5h0.01 M428.5 78.1h0.01 M434.9 79.1h0.01 M418.6 78.0h0.01 M451.0 74.0h0.01 M441.7 85.1h0.01 M432.2 77.9h0.01 M441.0 73.0h0.01 M427.4 72.3h0.01 M418.3 71.0h0.01 M444.6 81.6h0.01 M431.6 70.1h0.01 M434.2 74.1h0.01 M440.2 86.0h0.01 M428.9 70.8h0.01 M443.0 72.5h0.01 M418.0 71.2h0.01 M416.5 78.8h0.01 M448.9 81.9h0.01 M420.7 70.5h0.01 M449.6 70.5h0.01 M430.1 83.5h0.01 M422.8 75.9h0.01 M420.0 81.0h0.01 M422.1 74.1h0.01 M440.1 74.6h0.01 M423.3 85.9h0.01 M431.6 79.5h0.01 M417.4 74.3h0.01 M432.5 84.9h0.01 M437.1 73.0h0.01 M431.3 77.7h0.01 M427.4 81.3h0.01 M416.7 73.6h0.01 M434.0 72.5h0.01 M449.6 74.3h0.01 M435.5 88.4h0.01 M438.2 72.2h0.01 M446.3 74.7h0.01 M428.0 68.3h0.01 M428.6 84.2h0.01 M429.7 84.5h0.01 M448.3 79.4h0.01 M424.0 84.1h0.01 M449.3 75.3h0.01 M440.6 66.3h0.01 M436.1 81.7h0.01 M424.0 84.1h0.01 M438.5 76.6h0.01 M447.4 73.3h0.01 M422.6 83.7h0.01 M426.9 83.6h0.01 M437.9 74.8h0.01 M444.8 68.2h0.01 M430.2 68.4h0.01 M431.2 71.3h0.01 M433.0 87.4h0.01 M442.4 83.2h0.01 M419.2 77.3h0.01 M430.7 82.8h0.01 M450.2 75.2h0.01 M434.4 87.8h0.01 M446.0 77.9h0.01 M433.8 74.9h0.01 M439.6 85.0h0.01 M442.4 81.7h0.01 M423.1 83.6h0.01 M439.4 80.6h0.01 M432.1 67.3h0.01 M426.4 79.1h0.01 M421.6 73.5h0.01 M431.4 70.4h0.01 M427.5 77.1h0.01 M416.9 75.4h0.01 M441.1 81.6h0.01 M429.7 74.5h0.01 M440.1 68.8h0.01 M419.7 81.2h0.01 M431.1 75.0h0.01 M430.8 74.5h0.01 M436.8 82.6h0.01 M445.8 69.7h0.01 M432.5 69.4h0.01 M420.7 76.1h0.01 M438.1 79.2h0.01 M416.4 75.8h0.01 M427.9 79.0h0.01 M436.9 78.9h0.01 M429.8 72.5h0.01 M432.6 68.5h0.01 M441.6 74.5h0.01 M449.3 73.4h0.01 M424.2 71.2h0.01 M443.4 83.9h0.01 M445.7 79.1h0.01 M440.1 75.5h0.01 M435.4 71.5h0.01 M448.0 76.5h0.01 M433.3 69.7h0.01 M435.7 72.2h0.01 M429.7 68.2h0.01 M421.9 77.2h0.01 M435.7 83.7h0.01 M428.6 81.5h0.01 M428.3 83.1h0.01 M452.3 71.8h0.01 M441.6 85.9h0.01 M433.6 79.5h0.01 M438.9 84.6h0.01 M428.8 86.7h0.01 M442.1 73.4h0.01 M425.3 78.0h0.01 M435.2 80.4h0.01 M432.8 84.3h0.01 M432.1 78.9h0.01 M447.6 71.8h0.01 M435.3 89.2h0.01 M424.6 80.2h0.01 M425.5 84.9h0.01 M440.6 71.8h0.01 M421.7 75.4h0.01 M432.8 86.2h0.01 M450.1 77.1h0.01 M417.3 76.8h0.01 M433.1 72.2h0.01 M440.7 71.4h0.01 M415.0 72.4h0.01 M436.3 77.0h0.01 M446.8 70.1h0.01 M441.1 87.4h0.01 M423.9 74.3h0.01 M424.8 84.4h0.01 M423.3 73.1h0.01 M439.5 68.8h0.01 M419.7 74.6h0.01 M441.0 83.0h0.01 M437.9 73.9h0.01 M437.7 87.3h0.01 M429.1 70.7h0.01 M439.8 73.6h0.01 M429.7 70.4h0.01 M432.0 81.7h0.01 M423.4 81.3h0.01 M444.7 83.7h0.01 M428.4 85.5h0.01 M418.9 83.2h0.01 M433.7 80.8h0.01 M443.7 81.1h0.01 M451.3 75.7h0.01 M439.9 77.1h0.01 M448.3 74.6h0.01 M434.4 83.9h0.01 M428.0 78.8h0.01 M432.7 77.5h0.01 M425.4 77.0h0.01 M427.1 69.3h0.01 M429.6 75.2h0.01 M439.3 70.8h0.01 M445.6 68.9h0.01 M419.0 73.4h0.01 M450.5 74.3h0.01 M442.5 84.2h0.01 M427.3 85.2h0.01 M434.1 87.2h0.01 M442.6 74.2h0.01 M436.5 76.4h0.01 M441.1 69.4h0.01 M436.9 79.6h0.01 M450.0 74.6h0.01 M430.2 85.2h0.01 M436.2 78.3h0.01 M439.1 72.2h0.01 M419.3 75.0h0.01 M436.5 82.6h0.01 M430.9 73.9h0.01 M426.9 67.8h0.01 M442.8 79.3h0.01 M452.0 76.0h0.01 M418.0 75.2h0.01 M439.8 74.9h0.01 M438.8 75.3h0.01 M443.0 71.9h0.01 M435.1 76.7h0.01 M433.5 81.2h0.01 M446.9 70.2h0.01 M428.0 77.9h0.01 M422.8 70.7h0.01 M448.1 76.4h0.01 M447.9 78.1h0.01 M420.8 68.7h0.01 M444.3 74.4h0.01 M440.8 70.7h0.01 M442.3 78.3h0.01 M417.9 70.7h0.01 M424.4 75.9h0.01 M434.2 88.6h0.01 M422.4 71.1h0.01 M433.7 72.9h0.01 M431.5 82.2h0.01 M435.2 66.5h0.01 M431.9 69.6h0.01 M443.2 82.4h0.01 M434.4 77.8h0.01 M426.8 87.1h0.01 M431.8 87.0h0.01 M430.2 72.8h0.01 M436.9 81.6h0.01 M435.9 71.9h0.01 M418.0 81.2h0.01 M432.8 82.7h0.01 M438.5 84.3h0.01 M435.2 85.6h0.01 M427.6 75.6h0.01 M440.6 68.6h0.01 M426.4 71.9h0.01 M422.9 73.4h0.01 M434.7 83.1h0.01 M440.1 87.4h0.01 M451.0 77.2h0.01 M447.8 75.0h0.01 M431.8 71.8h0.01 M443.5 73.2h0.01 M428.0 77.7h0.01 M416.0 71.9h0.01 M423.5 75.0h0.01 M440.6 69.1h0.01 M438.6 67.5h0.01 M446.3 73.1h0.01" stroke="#D6452A" stroke-width="0.96" stroke-linecap="round" fill="none" opacity="0.7"/>
<path d="M441.9 50.5h0.01 M462.1 37.5h0.01 M439.4 57.9h0.01 M425.2 55.5h0.01 M430.3 39.3h0.01 M460.7 58.9h0.01 M441.9 57.6h0.01 M430.4 52.3h0.01 M449.0 65.3h0.01 M463.3 48.9h0.01 M433.6 35.0h0.01 M467.6 32.2h0.01 M435.1 50.5h0.01 M424.4 65.4h0.01 M455.2 62.3h0.01 M443.7 54.7h0.01 M422.4 61.0h0.01 M463.1 47.8h0.01 M453.6 36.7h0.01 M436.0 43.9h0.01 M458.6 66.5h0.01 M430.7 65.8h0.01 M454.2 33.6h0.01 M459.9 39.7h0.01 M423.6 44.2h0.01 M427.1 63.9h0.01 M431.2 37.7h0.01 M425.6 47.3h0.01 M446.4 37.2h0.01 M456.2 65.1h0.01 M429.6 38.5h0.01 M431.5 44.8h0.01 M442.7 42.1h0.01 M448.6 64.3h0.01 M449.4 32.9h0.01 M446.0 49.5h0.01 M445.9 38.2h0.01 M440.3 41.0h0.01 M450.1 67.6h0.01 M443.3 42.1h0.01 M425.2 33.6h0.01 M433.9 50.2h0.01 M452.5 43.5h0.01 M461.5 67.4h0.01 M439.2 61.9h0.01 M446.8 37.3h0.01 M428.7 47.5h0.01 M454.5 43.3h0.01 M453.9 56.8h0.01 M424.1 42.8h0.01 M452.6 60.2h0.01 M428.1 54.1h0.01 M437.7 66.1h0.01 M448.1 66.9h0.01 M460.3 49.4h0.01 M437.3 38.6h0.01 M434.8 32.1h0.01 M469.5 61.1h0.01 M453.5 33.6h0.01 M467.4 48.7h0.01" stroke="#D6452A" stroke-width="0.90" stroke-linecap="round" fill="none" opacity="0.8"/>
<path d="M451.6 34.8h0.01 M473.5 26.7h0.01 M435.8 44.2h0.01 M476.1 50.4h0.01 M446.3 44.5h0.01 M454.9 26.1h0.01 M470.2 65.9h0.01 M439.8 45.3h0.01 M444.0 50.7h0.01 M465.2 59.8h0.01 M431.2 34.6h0.01 M475.2 32.2h0.01 M461.4 48.8h0.01 M424.2 36.2h0.01 M415.6 51.3h0.01 M445.8 29.2h0.01 M446.1 30.4h0.01 M476.3 63.5h0.01 M422.8 54.4h0.01 M437.0 31.1h0.01 M451.9 68.0h0.01 M457.9 67.5h0.01 M450.9 59.9h0.01 M414.0 28.2h0.01 M415.5 59.2h0.01 M472.2 33.0h0.01 M438.7 63.8h0.01 M456.1 43.2h0.01 M475.7 59.9h0.01 M409.0 51.6h0.01 M444.0 51.5h0.01 M446.8 60.7h0.01 M463.3 29.6h0.01 M472.6 46.5h0.01 M463.0 34.7h0.01 M432.5 44.6h0.01 M479.7 67.6h0.01 M458.6 39.0h0.01 M436.3 34.8h0.01 M465.4 53.3h0.01 M462.0 43.3h0.01 M406.5 40.8h0.01 M425.9 42.3h0.01 M428.8 40.5h0.01 M469.8 26.7h0.01 M430.3 50.1h0.01 M427.4 54.6h0.01 M460.9 41.1h0.01 M457.1 38.5h0.01 M437.3 61.5h0.01" stroke="#A3B3BA" stroke-width="0.90" stroke-linecap="round" fill="none" opacity="0.55"/>
<path d="M499.8 46.1h0.01 M505.6 47.9h0.01 M501.4 48.9h0.01 M506.2 51.3h0.01 M511.0 50.1h0.01 M503.4 42.2h0.01 M510.3 41.5h0.01 M504.4 38.4h0.01 M510.0 49.3h0.01 M508.8 46.5h0.01 M504.6 47.2h0.01 M502.1 52.7h0.01 M500.2 43.6h0.01 M498.3 45.8h0.01 M509.6 40.4h0.01 M511.3 44.2h0.01 M508.8 47.8h0.01 M506.8 41.8h0.01 M501.8 43.0h0.01 M510.5 49.8h0.01 M507.4 44.5h0.01 M498.1 46.5h0.01 M499.4 41.2h0.01 M512.3 52.0h0.01 M512.8 46.0h0.01 M507.2 48.4h0.01 M505.6 46.0h0.01 M512.2 38.8h0.01 M510.3 45.7h0.01 M509.9 53.8h0.01 M506.1 39.6h0.01 M505.6 48.1h0.01 M509.5 48.2h0.01 M503.9 52.8h0.01 M510.7 47.1h0.01 M510.8 47.0h0.01 M504.5 50.2h0.01 M512.2 44.9h0.01 M505.7 45.1h0.01 M503.8 38.8h0.01 M510.3 40.8h0.01 M508.1 44.1h0.01 M506.8 47.4h0.01 M508.6 49.6h0.01 M496.4 42.5h0.01 M499.5 42.9h0.01 M504.1 47.6h0.01 M500.7 48.5h0.01 M497.3 44.2h0.01 M507.7 40.1h0.01 M503.9 52.3h0.01 M499.1 46.8h0.01 M503.8 36.9h0.01 M499.2 44.9h0.01 M501.6 47.4h0.01 M501.2 41.3h0.01 M500.2 46.2h0.01 M501.5 39.1h0.01 M503.1 50.7h0.01 M508.8 50.9h0.01 M503.3 35.6h0.01 M508.6 50.4h0.01 M500.4 41.5h0.01 M510.8 41.3h0.01 M503.3 52.0h0.01 M506.6 42.2h0.01 M510.3 41.0h0.01 M504.3 47.5h0.01 M502.3 47.2h0.01 M500.7 48.1h0.01 M505.5 48.4h0.01 M506.4 48.7h0.01 M503.6 41.8h0.01 M499.9 46.4h0.01 M503.9 37.3h0.01 M499.4 46.3h0.01 M508.2 35.9h0.01 M499.1 41.2h0.01 M502.0 36.7h0.01 M508.9 48.6h0.01 M510.5 46.5h0.01 M503.9 44.4h0.01 M501.3 48.8h0.01 M499.4 46.7h0.01 M503.8 50.0h0.01 M504.9 44.5h0.01 M507.2 42.2h0.01 M501.5 49.9h0.01 M503.0 39.4h0.01 M502.5 42.4h0.01 M513.5 47.3h0.01 M504.5 44.9h0.01 M500.6 46.5h0.01 M499.2 45.9h0.01 M506.9 48.0h0.01 M506.8 46.9h0.01 M508.9 50.0h0.01 M499.8 50.7h0.01 M500.8 39.3h0.01 M508.3 48.1h0.01 M498.9 44.0h0.01 M505.8 52.5h0.01 M503.2 46.0h0.01 M499.4 47.9h0.01 M511.1 48.5h0.01 M503.4 38.6h0.01 M507.9 52.0h0.01 M508.0 40.0h0.01 M508.1 45.5h0.01 M503.8 51.6h0.01 M499.4 41.9h0.01 M511.4 45.3h0.01 M501.6 50.0h0.01 M501.0 47.9h0.01 M507.7 50.1h0.01 M507.4 41.1h0.01 M512.4 45.5h0.01 M495.7 41.6h0.01 M502.1 45.7h0.01 M507.4 47.7h0.01 M497.3 48.4h0.01 M511.2 45.3h0.01 M504.8 42.8h0.01 M511.3 45.6h0.01 M500.2 51.5h0.01 M506.8 50.5h0.01 M505.8 49.6h0.01 M510.2 47.8h0.01 M498.7 42.1h0.01 M501.1 43.0h0.01 M505.1 48.4h0.01 M505.3 51.3h0.01 M497.1 44.5h0.01 M499.0 45.8h0.01 M505.8 44.2h0.01 M498.1 52.1h0.01 M507.6 48.1h0.01 M498.6 52.9h0.01 M509.3 49.7h0.01 M503.5 40.3h0.01 M508.0 45.9h0.01 M500.3 46.1h0.01 M502.9 40.2h0.01 M511.4 48.3h0.01 M508.4 36.7h0.01 M498.8 50.1h0.01 M504.7 50.6h0.01 M501.9 51.3h0.01 M501.6 45.6h0.01 M507.6 49.0h0.01 M502.3 46.2h0.01 M506.3 40.7h0.01 M511.0 52.2h0.01 M502.0 40.5h0.01 M494.7 48.8h0.01 M500.5 49.4h0.01 M505.2 49.2h0.01 M503.4 46.8h0.01 M504.5 37.9h0.01 M500.5 44.5h0.01 M499.1 52.7h0.01 M506.2 37.6h0.01 M501.5 41.3h0.01 M513.1 45.7h0.01 M498.4 45.0h0.01 M508.9 46.1h0.01 M507.7 43.4h0.01 M504.2 45.1h0.01 M503.5 53.5h0.01 M500.7 44.6h0.01 M509.3 48.8h0.01 M499.1 48.9h0.01 M500.1 49.3h0.01 M511.2 44.3h0.01 M503.3 39.5h0.01 M510.4 50.4h0.01 M508.4 53.0h0.01 M504.8 38.1h0.01 M505.6 45.4h0.01 M504.3 50.7h0.01 M503.9 44.9h0.01 M508.3 41.1h0.01 M499.2 42.0h0.01 M505.8 41.7h0.01 M508.6 40.5h0.01 M508.1 45.6h0.01 M506.2 43.4h0.01 M499.2 42.6h0.01 M510.6 45.4h0.01 M499.0 42.5h0.01 M501.1 42.0h0.01 M503.8 46.0h0.01 M505.1 43.0h0.01 M502.1 37.7h0.01 M500.6 51.8h0.01 M502.4 38.1h0.01 M508.1 44.2h0.01 M505.0 47.6h0.01 M510.4 50.9h0.01 M509.3 47.4h0.01 M504.7 46.2h0.01 M497.8 47.0h0.01 M500.7 51.9h0.01 M510.0 48.7h0.01 M507.3 52.6h0.01 M507.9 39.8h0.01 M509.4 39.2h0.01 M510.9 43.2h0.01 M509.6 51.7h0.01 M499.6 51.6h0.01 M510.5 51.0h0.01 M508.6 50.0h0.01 M509.3 41.7h0.01 M509.3 48.8h0.01 M499.2 39.8h0.01 M510.6 49.2h0.01 M502.2 49.3h0.01 M506.1 48.1h0.01 M504.6 51.3h0.01 M509.5 46.5h0.01" stroke="#F5E4C6" stroke-width="1.00" stroke-linecap="round" fill="none" opacity="0.78"/>
<path d="M542.6 40.9h0.01 M553.1 61.3h0.01 M544.4 38.8h0.01 M538.4 26.6h0.01 M542.5 31.3h0.01 M544.2 56.9h0.01 M561.8 55.8h0.01 M556.4 50.8h0.01 M538.6 39.6h0.01 M554.6 44.9h0.01 M567.3 57.4h0.01 M542.7 52.7h0.01 M557.2 53.3h0.01 M550.4 52.3h0.01 M550.6 54.7h0.01 M540.7 48.5h0.01 M536.3 45.6h0.01 M539.7 39.8h0.01 M543.7 44.0h0.01 M544.6 52.9h0.01 M566.4 50.9h0.01 M548.7 54.0h0.01 M542.6 37.1h0.01 M517.7 44.1h0.01 M553.3 53.8h0.01 M562.5 58.0h0.01 M560.6 48.3h0.01 M532.5 43.3h0.01 M529.2 39.2h0.01 M531.8 44.5h0.01 M545.1 42.8h0.01 M537.2 48.7h0.01 M530.1 43.1h0.01 M535.6 37.2h0.01 M555.1 49.2h0.01 M531.3 64.0h0.01 M527.4 29.9h0.01 M538.4 50.0h0.01 M526.9 42.0h0.01 M527.6 53.8h0.01 M541.4 53.5h0.01 M538.6 28.2h0.01 M547.3 41.0h0.01 M547.8 38.2h0.01 M540.6 45.8h0.01 M551.0 45.2h0.01 M534.1 40.0h0.01 M562.3 53.3h0.01 M547.3 54.3h0.01 M546.4 52.2h0.01 M520.7 43.2h0.01 M548.8 48.0h0.01 M543.9 50.7h0.01 M539.1 44.8h0.01 M532.3 44.8h0.01 M527.3 38.1h0.01 M532.9 46.8h0.01 M552.4 53.1h0.01 M542.6 50.2h0.01 M526.3 39.3h0.01 M528.4 40.1h0.01 M537.0 40.0h0.01 M544.7 56.5h0.01 M533.9 37.9h0.01 M541.4 41.3h0.01 M539.5 44.9h0.01 M527.9 46.9h0.01 M523.8 36.8h0.01 M552.7 53.0h0.01 M532.4 37.8h0.01 M537.5 39.5h0.01 M529.6 31.9h0.01 M544.2 47.1h0.01 M535.8 50.9h0.01 M554.3 45.1h0.01 M548.7 43.0h0.01 M542.1 27.6h0.01 M544.1 42.5h0.01 M534.5 45.4h0.01 M553.6 41.9h0.01 M545.1 55.1h0.01 M543.6 34.4h0.01 M557.0 42.0h0.01 M552.5 43.8h0.01 M538.1 34.8h0.01 M542.4 51.0h0.01 M546.1 41.2h0.01 M536.4 49.2h0.01 M547.6 42.0h0.01 M553.1 53.3h0.01 M537.8 32.8h0.01 M539.0 42.0h0.01 M547.7 53.6h0.01 M561.5 54.0h0.01 M535.6 40.2h0.01 M545.9 36.8h0.01 M543.6 46.4h0.01 M544.5 31.1h0.01 M544.0 40.4h0.01 M543.7 49.5h0.01 M516.0 38.5h0.01 M529.0 47.0h0.01 M544.3 49.0h0.01 M530.4 41.8h0.01 M532.1 50.8h0.01 M540.8 50.0h0.01 M527.2 46.1h0.01 M536.0 45.5h0.01 M554.1 50.7h0.01 M533.4 46.8h0.01 M554.2 51.5h0.01 M555.5 56.5h0.01 M538.6 38.4h0.01 M542.3 39.6h0.01 M525.9 39.2h0.01 M543.0 53.1h0.01 M527.5 33.5h0.01 M549.7 48.6h0.01 M541.0 41.9h0.01 M529.8 41.6h0.01 M531.0 47.1h0.01 M537.7 47.4h0.01 M535.4 37.4h0.01 M560.2 41.3h0.01 M547.6 44.2h0.01 M534.3 45.9h0.01 M535.7 47.0h0.01 M540.2 47.3h0.01 M556.9 52.1h0.01 M535.9 55.7h0.01 M527.7 41.4h0.01 M535.9 31.4h0.01 M552.1 57.7h0.01 M538.5 45.0h0.01 M524.7 41.7h0.01 M528.9 48.3h0.01 M552.0 56.5h0.01 M540.2 43.5h0.01 M541.4 48.1h0.01 M551.9 42.7h0.01 M540.8 41.8h0.01 M548.1 61.1h0.01 M546.9 48.4h0.01 M534.2 36.2h0.01 M528.4 36.3h0.01 M546.6 41.1h0.01 M536.9 41.4h0.01 M560.5 45.4h0.01 M547.4 50.3h0.01 M548.9 53.9h0.01 M548.5 54.8h0.01 M536.8 45.3h0.01 M547.4 48.3h0.01 M537.7 41.5h0.01 M533.0 46.3h0.01 M514.8 30.8h0.01 M554.5 46.0h0.01 M545.6 46.9h0.01 M533.2 31.2h0.01 M564.2 58.0h0.01 M537.1 27.3h0.01 M539.8 48.7h0.01 M539.9 40.7h0.01 M534.5 38.9h0.01 M543.1 50.0h0.01 M546.4 44.8h0.01 M547.7 52.3h0.01 M539.9 53.1h0.01 M545.7 30.6h0.01 M539.2 38.6h0.01 M537.2 50.8h0.01 M534.4 50.7h0.01 M520.2 40.2h0.01 M547.2 38.2h0.01 M562.9 51.3h0.01 M532.4 55.1h0.01 M557.8 46.1h0.01 M544.2 45.3h0.01 M556.0 48.2h0.01 M543.0 57.0h0.01 M553.5 44.8h0.01 M556.6 49.1h0.01 M527.6 31.4h0.01 M560.2 51.6h0.01 M527.8 35.3h0.01 M539.3 48.8h0.01 M546.6 52.2h0.01 M547.8 37.8h0.01 M545.9 41.8h0.01 M527.6 52.0h0.01 M552.1 61.0h0.01 M547.1 42.2h0.01 M557.4 37.4h0.01 M528.3 32.9h0.01 M551.5 63.5h0.01 M553.6 53.7h0.01 M546.0 35.8h0.01 M537.7 53.3h0.01 M541.0 50.5h0.01 M546.6 34.3h0.01 M540.1 57.2h0.01 M532.6 37.2h0.01 M528.2 46.0h0.01 M537.3 41.2h0.01 M561.1 48.3h0.01 M536.3 35.1h0.01 M551.8 42.3h0.01 M540.1 37.7h0.01 M549.5 62.6h0.01 M557.4 49.0h0.01 M541.6 42.2h0.01 M548.5 35.6h0.01 M534.8 47.9h0.01 M551.0 52.5h0.01 M559.9 48.0h0.01 M517.5 35.6h0.01 M536.9 40.7h0.01 M523.1 44.7h0.01 M537.5 40.4h0.01 M540.8 55.4h0.01 M534.3 40.8h0.01 M540.8 48.5h0.01 M556.3 42.9h0.01 M550.9 39.0h0.01 M544.1 47.7h0.01 M541.5 35.3h0.01 M553.4 40.0h0.01 M526.9 42.7h0.01 M544.1 45.8h0.01 M534.6 35.8h0.01 M526.5 38.1h0.01 M535.6 44.6h0.01 M545.9 30.1h0.01 M520.7 36.9h0.01 M551.0 42.1h0.01 M549.0 44.0h0.01 M530.6 46.0h0.01 M535.2 43.2h0.01 M549.7 55.0h0.01 M540.6 53.3h0.01 M533.0 47.4h0.01 M522.1 48.5h0.01 M545.5 48.0h0.01 M546.5 48.0h0.01 M535.1 37.4h0.01 M547.5 46.0h0.01 M521.0 48.7h0.01 M531.4 40.6h0.01 M521.9 28.0h0.01 M548.5 42.0h0.01 M561.4 38.1h0.01 M533.9 47.1h0.01 M550.9 45.5h0.01 M547.6 51.0h0.01 M541.6 40.5h0.01 M537.2 41.9h0.01 M525.9 41.8h0.01 M550.9 54.1h0.01 M539.0 51.8h0.01 M540.7 43.8h0.01 M528.1 41.8h0.01 M553.4 50.1h0.01 M560.0 44.0h0.01 M551.7 43.8h0.01 M544.0 51.1h0.01 M543.6 47.7h0.01 M524.8 41.4h0.01 M541.0 33.1h0.01 M541.2 48.8h0.01 M551.8 51.9h0.01 M532.1 52.2h0.01 M543.9 40.0h0.01 M536.9 51.5h0.01 M558.8 42.0h0.01 M544.0 35.1h0.01 M540.4 43.3h0.01 M540.9 43.9h0.01 M547.9 49.0h0.01 M531.4 52.1h0.01 M540.8 40.1h0.01 M543.2 45.8h0.01 M523.7 34.3h0.01 M549.1 55.6h0.01 M535.5 51.3h0.01 M556.4 54.3h0.01 M533.4 37.5h0.01 M542.6 48.9h0.01 M532.1 45.6h0.01 M535.0 46.5h0.01 M532.1 42.2h0.01 M538.9 37.7h0.01 M546.3 48.1h0.01 M550.9 50.1h0.01 M532.2 42.1h0.01 M527.7 34.3h0.01 M527.3 40.7h0.01 M541.8 45.1h0.01 M539.4 47.6h0.01 M525.3 33.0h0.01 M530.3 32.4h0.01 M517.9 43.8h0.01 M538.6 31.0h0.01 M543.6 50.2h0.01 M541.0 40.1h0.01 M541.9 36.5h0.01 M552.6 49.3h0.01 M532.4 39.9h0.01 M547.1 44.9h0.01 M556.5 62.9h0.01 M550.1 47.9h0.01 M543.6 52.5h0.01 M539.2 52.1h0.01 M536.9 36.9h0.01 M533.3 38.6h0.01 M540.7 37.8h0.01 M536.2 50.2h0.01 M526.7 37.6h0.01 M550.4 49.5h0.01 M535.8 41.0h0.01 M548.5 36.3h0.01 M533.6 41.7h0.01 M546.0 52.7h0.01 M536.7 57.2h0.01 M518.2 41.0h0.01 M550.4 41.9h0.01 M551.7 56.7h0.01 M507.8 51.2h0.01 M534.4 33.7h0.01 M537.2 44.0h0.01 M546.6 52.9h0.01 M541.0 45.3h0.01 M549.3 42.5h0.01 M537.5 23.8h0.01 M542.0 38.4h0.01 M534.7 47.2h0.01 M537.2 45.3h0.01 M546.8 51.4h0.01 M527.1 49.3h0.01 M547.2 59.7h0.01 M540.9 46.2h0.01 M535.0 39.5h0.01 M539.6 53.9h0.01 M540.1 49.0h0.01 M548.9 36.0h0.01 M547.9 44.3h0.01 M530.5 45.1h0.01 M537.0 48.9h0.01 M536.1 42.6h0.01 M531.4 39.6h0.01 M550.8 49.1h0.01 M553.4 52.2h0.01 M530.3 29.2h0.01 M538.2 39.8h0.01 M535.6 47.7h0.01 M542.2 36.6h0.01 M522.9 42.4h0.01 M544.1 39.1h0.01 M542.7 49.8h0.01 M533.0 45.8h0.01 M540.8 46.9h0.01 M532.4 37.5h0.01 M519.7 28.8h0.01 M551.1 47.3h0.01 M528.4 48.3h0.01 M536.7 47.8h0.01 M536.7 39.9h0.01 M525.1 36.1h0.01 M540.7 45.3h0.01 M536.3 44.5h0.01 M540.4 42.3h0.01 M551.9 56.7h0.01 M555.9 49.0h0.01 M547.8 50.9h0.01 M531.7 50.8h0.01 M525.5 49.0h0.01 M538.3 42.6h0.01 M535.6 45.6h0.01 M542.9 43.4h0.01 M540.5 39.6h0.01 M545.9 45.0h0.01 M553.7 54.4h0.01 M542.6 49.0h0.01 M554.7 38.9h0.01 M552.4 37.9h0.01 M543.3 39.1h0.01 M547.8 45.0h0.01 M559.2 42.7h0.01 M550.7 46.3h0.01 M553.9 48.1h0.01 M535.5 45.8h0.01 M528.1 31.3h0.01 M539.2 41.1h0.01 M564.6 57.0h0.01 M540.5 41.4h0.01 M549.3 37.3h0.01 M546.2 48.3h0.01 M555.5 46.2h0.01 M548.6 45.4h0.01 M544.9 56.9h0.01 M541.7 38.5h0.01 M531.7 44.6h0.01 M535.5 27.5h0.01 M553.4 53.5h0.01 M548.6 48.1h0.01 M545.1 49.6h0.01 M548.7 35.7h0.01 M547.6 48.4h0.01 M539.7 39.1h0.01 M536.6 31.5h0.01 M547.7 48.1h0.01 M546.7 43.2h0.01 M535.4 40.0h0.01 M546.9 52.5h0.01 M553.6 52.9h0.01 M546.5 41.2h0.01 M540.3 42.6h0.01 M520.9 38.3h0.01 M534.1 38.4h0.01 M534.6 52.4h0.01 M549.7 43.6h0.01 M550.8 48.1h0.01 M547.9 48.4h0.01 M539.7 35.3h0.01 M542.3 39.8h0.01 M554.8 46.3h0.01 M554.7 42.2h0.01 M541.7 46.8h0.01 M533.5 41.1h0.01 M539.5 35.2h0.01 M561.0 49.1h0.01 M550.0 40.2h0.01 M541.2 46.6h0.01 M546.0 43.3h0.01 M531.3 42.2h0.01 M533.6 31.9h0.01 M555.6 48.6h0.01 M541.1 42.0h0.01 M539.1 46.9h0.01 M541.4 35.3h0.01 M553.1 48.3h0.01 M528.3 45.2h0.01 M558.3 48.0h0.01 M534.3 41.1h0.01 M551.6 50.4h0.01 M558.7 36.6h0.01 M536.6 44.6h0.01 M556.7 55.8h0.01 M550.9 38.6h0.01 M529.1 48.6h0.01 M541.2 34.2h0.01 M525.8 28.4h0.01 M545.1 39.7h0.01 M519.7 29.4h0.01 M517.3 27.1h0.01 M547.4 52.6h0.01 M543.8 46.9h0.01 M537.0 55.1h0.01 M544.6 48.7h0.01 M548.0 40.8h0.01 M518.5 49.0h0.01 M535.3 46.9h0.01 M552.1 38.5h0.01 M526.6 37.5h0.01 M532.1 45.9h0.01 M558.5 57.4h0.01 M550.7 54.3h0.01 M544.9 22.6h0.01 M540.7 55.5h0.01 M568.7 61.3h0.01 M547.6 33.3h0.01 M543.4 59.2h0.01 M536.2 41.4h0.01 M537.9 53.5h0.01 M545.9 49.9h0.01 M572.4 50.5h0.01 M534.9 28.9h0.01 M546.6 43.5h0.01 M533.9 39.1h0.01 M546.0 63.5h0.01 M522.3 41.2h0.01 M549.5 47.6h0.01 M552.9 54.5h0.01 M531.2 39.3h0.01 M547.6 49.1h0.01 M553.0 50.9h0.01 M545.7 47.1h0.01 M540.8 48.7h0.01 M517.8 23.4h0.01 M543.2 44.9h0.01 M557.5 52.9h0.01 M533.7 40.8h0.01 M538.2 43.3h0.01 M548.4 42.6h0.01 M526.2 41.6h0.01 M551.7 33.0h0.01 M553.3 35.1h0.01 M547.0 35.2h0.01 M535.1 42.4h0.01 M550.2 37.4h0.01 M552.8 54.5h0.01 M554.7 35.5h0.01 M536.6 37.5h0.01 M534.3 38.6h0.01 M549.4 52.4h0.01 M529.8 39.0h0.01 M544.3 41.0h0.01 M541.9 53.3h0.01 M538.0 44.4h0.01 M554.5 51.5h0.01 M566.0 49.6h0.01 M533.3 40.2h0.01 M547.2 50.1h0.01 M538.6 51.3h0.01 M521.6 32.2h0.01 M549.8 40.1h0.01 M520.1 35.1h0.01 M557.1 48.4h0.01 M537.5 40.1h0.01 M536.4 57.9h0.01 M539.7 38.3h0.01 M542.2 41.8h0.01 M551.6 52.7h0.01 M552.2 45.0h0.01 M547.2 47.4h0.01 M542.4 50.8h0.01 M513.6 43.3h0.01 M535.1 41.6h0.01 M549.7 33.8h0.01 M547.2 47.0h0.01 M544.9 32.5h0.01 M540.3 44.0h0.01 M564.3 61.7h0.01 M552.6 51.5h0.01 M535.2 41.0h0.01 M539.7 45.6h0.01 M522.3 35.9h0.01 M539.7 50.2h0.01 M550.9 49.9h0.01 M544.5 40.4h0.01 M541.7 44.9h0.01 M540.2 42.9h0.01 M549.9 57.8h0.01 M555.0 42.9h0.01 M510.6 29.9h0.01 M541.7 52.4h0.01 M507.8 34.7h0.01 M531.2 38.8h0.01 M541.9 42.7h0.01 M524.5 27.4h0.01 M551.9 47.8h0.01 M529.8 40.6h0.01 M533.1 42.8h0.01 M540.3 45.7h0.01 M544.9 55.5h0.01 M537.6 44.8h0.01 M538.2 54.1h0.01 M549.9 49.5h0.01 M531.8 41.6h0.01 M539.2 44.8h0.01 M542.6 39.5h0.01 M551.3 55.2h0.01 M542.7 44.1h0.01 M537.9 39.2h0.01 M528.0 32.4h0.01 M534.9 32.9h0.01 M554.2 61.1h0.01 M533.7 40.5h0.01 M532.4 49.2h0.01 M541.0 47.4h0.01 M516.4 36.2h0.01 M544.7 53.7h0.01 M521.3 34.4h0.01 M546.2 42.4h0.01 M542.0 47.4h0.01 M546.6 48.9h0.01 M543.9 36.7h0.01 M530.0 54.1h0.01 M533.6 39.9h0.01 M562.0 49.9h0.01 M543.0 40.8h0.01 M538.7 46.9h0.01 M541.4 35.8h0.01 M539.3 44.9h0.01 M531.3 44.8h0.01 M525.6 47.9h0.01 M530.8 44.9h0.01 M541.4 47.1h0.01 M532.5 51.6h0.01 M555.0 45.1h0.01 M539.1 33.2h0.01 M523.0 41.7h0.01 M538.7 39.7h0.01 M532.4 33.0h0.01 M533.9 44.5h0.01 M554.0 42.5h0.01 M513.1 20.7h0.01 M529.9 36.6h0.01 M542.0 31.5h0.01 M545.9 41.1h0.01 M537.2 33.5h0.01 M537.6 39.1h0.01 M530.4 41.8h0.01 M546.5 44.6h0.01 M555.2 65.5h0.01 M541.7 53.4h0.01 M546.3 43.5h0.01 M556.1 47.3h0.01 M523.5 33.3h0.01 M536.2 33.7h0.01 M535.4 51.7h0.01 M535.2 54.0h0.01 M542.4 38.4h0.01 M525.3 44.9h0.01 M531.8 44.2h0.01 M525.4 46.3h0.01 M546.0 46.0h0.01 M534.4 38.3h0.01 M541.5 50.0h0.01 M557.7 49.6h0.01 M545.5 46.9h0.01 M552.4 51.4h0.01 M544.4 46.3h0.01 M539.5 55.1h0.01 M543.0 51.8h0.01 M540.7 45.4h0.01 M528.6 43.5h0.01 M537.4 52.0h0.01 M514.7 34.4h0.01 M524.0 45.7h0.01 M542.9 44.6h0.01 M553.7 48.0h0.01 M536.5 51.3h0.01 M532.5 39.8h0.01 M542.0 42.4h0.01 M528.6 47.5h0.01 M532.4 45.0h0.01 M541.9 37.4h0.01 M532.7 36.8h0.01 M545.2 49.2h0.01 M538.6 45.1h0.01 M533.4 51.3h0.01 M531.3 39.6h0.01 M541.1 47.1h0.01 M539.8 45.5h0.01 M530.7 48.8h0.01 M538.1 43.3h0.01 M531.8 30.1h0.01 M544.4 47.7h0.01 M546.8 53.8h0.01 M547.3 55.8h0.01 M531.4 52.1h0.01 M517.9 41.3h0.01 M530.9 54.3h0.01 M536.0 38.5h0.01 M543.3 45.0h0.01 M540.4 42.5h0.01 M541.7 42.0h0.01 M542.4 48.3h0.01 M549.2 41.7h0.01 M528.9 38.9h0.01 M544.6 40.8h0.01 M533.5 58.5h0.01 M534.6 46.1h0.01 M524.4 36.2h0.01 M544.5 51.0h0.01 M539.7 40.4h0.01 M547.9 49.3h0.01 M545.0 50.8h0.01 M538.5 43.5h0.01 M538.1 37.5h0.01 M543.7 44.4h0.01 M551.1 51.4h0.01 M558.3 47.5h0.01 M548.0 48.1h0.01 M543.9 46.1h0.01 M544.0 35.2h0.01 M541.6 47.7h0.01 M549.7 38.9h0.01 M531.4 28.1h0.01 M540.2 47.4h0.01 M547.7 45.8h0.01 M542.1 58.1h0.01 M534.9 44.7h0.01 M529.7 36.2h0.01 M544.8 62.4h0.01 M543.7 48.3h0.01 M540.9 42.9h0.01 M533.1 42.1h0.01 M538.4 41.1h0.01 M535.6 58.9h0.01 M542.2 36.8h0.01 M541.0 40.4h0.01 M525.3 40.3h0.01 M548.9 53.8h0.01 M543.9 51.3h0.01 M525.4 20.9h0.01 M559.7 51.2h0.01 M557.4 56.3h0.01 M536.5 54.5h0.01 M543.5 56.8h0.01 M544.6 59.4h0.01 M539.6 43.7h0.01 M536.7 34.3h0.01 M549.3 38.6h0.01 M543.7 40.8h0.01 M548.6 45.0h0.01 M538.8 58.9h0.01 M543.6 46.7h0.01 M549.9 42.3h0.01 M530.4 37.4h0.01 M534.5 40.8h0.01 M528.2 32.2h0.01 M540.2 49.0h0.01 M548.0 54.1h0.01 M541.1 49.4h0.01 M560.8 52.9h0.01 M527.2 52.7h0.01 M528.3 40.4h0.01 M540.1 50.8h0.01 M543.4 46.2h0.01 M556.1 57.8h0.01 M533.7 36.8h0.01 M571.1 56.1h0.01 M538.8 51.5h0.01 M537.2 49.4h0.01 M536.2 39.3h0.01 M537.5 52.7h0.01 M549.0 42.5h0.01 M533.1 50.4h0.01 M528.2 40.6h0.01 M530.8 35.7h0.01 M546.0 44.5h0.01 M538.2 46.7h0.01 M544.3 44.8h0.01 M537.6 34.4h0.01 M535.3 43.3h0.01 M533.6 38.5h0.01 M537.1 40.0h0.01 M550.4 56.1h0.01 M553.4 46.7h0.01 M525.2 27.2h0.01 M531.8 55.2h0.01 M542.1 43.8h0.01 M546.3 37.8h0.01 M539.2 58.5h0.01 M534.5 36.2h0.01 M517.8 31.2h0.01 M541.4 50.8h0.01 M533.1 41.6h0.01 M546.0 47.4h0.01 M555.5 48.7h0.01 M533.9 37.4h0.01 M522.0 29.7h0.01 M541.2 56.1h0.01 M539.5 49.2h0.01 M528.5 44.5h0.01 M540.4 42.5h0.01 M533.8 50.7h0.01 M552.4 53.0h0.01 M554.8 50.8h0.01 M550.1 54.0h0.01 M531.8 52.0h0.01 M531.9 40.6h0.01 M548.7 48.7h0.01 M546.7 49.1h0.01 M550.6 45.6h0.01 M548.1 48.2h0.01 M539.8 51.2h0.01 M549.5 53.6h0.01 M543.0 46.8h0.01 M550.0 45.1h0.01 M540.7 33.9h0.01 M530.4 42.3h0.01 M540.9 39.8h0.01 M541.0 54.6h0.01 M548.5 44.4h0.01 M542.6 51.3h0.01 M530.5 33.3h0.01 M535.6 44.5h0.01 M538.2 46.6h0.01 M546.2 53.2h0.01 M538.5 33.4h0.01 M540.0 33.3h0.01 M550.7 49.9h0.01 M529.4 48.1h0.01 M538.3 43.4h0.01 M537.8 41.2h0.01 M540.9 40.2h0.01 M535.9 35.9h0.01 M559.2 41.4h0.01 M553.7 47.2h0.01 M551.6 41.2h0.01 M531.3 50.4h0.01 M544.4 61.0h0.01 M562.3 59.9h0.01 M540.5 51.9h0.01 M548.5 54.2h0.01 M519.9 38.1h0.01 M542.4 62.4h0.01 M534.1 46.3h0.01 M543.2 46.5h0.01 M552.3 51.2h0.01 M555.6 38.1h0.01 M555.1 51.1h0.01 M533.4 54.5h0.01 M527.3 44.8h0.01 M547.4 53.8h0.01 M540.6 43.6h0.01 M528.3 35.1h0.01 M555.4 53.8h0.01 M542.5 40.2h0.01 M540.5 54.6h0.01 M548.4 47.6h0.01 M542.1 43.5h0.01 M537.6 38.2h0.01 M557.0 45.4h0.01 M536.5 49.5h0.01 M543.1 40.4h0.01 M532.3 47.0h0.01 M531.6 40.9h0.01 M532.3 38.4h0.01 M550.8 42.0h0.01 M533.2 46.6h0.01 M549.7 42.2h0.01 M554.0 51.5h0.01 M531.7 50.7h0.01 M550.2 49.9h0.01 M544.4 47.9h0.01 M537.2 42.7h0.01 M550.3 50.3h0.01 M528.7 37.9h0.01 M530.4 30.6h0.01 M552.5 47.3h0.01 M546.4 49.3h0.01 M533.8 44.6h0.01 M555.0 51.2h0.01 M531.3 45.5h0.01 M538.1 45.4h0.01 M537.0 38.9h0.01 M540.7 49.2h0.01 M541.8 37.3h0.01 M541.6 43.4h0.01 M530.9 39.9h0.01 M534.9 37.3h0.01 M551.1 65.1h0.01 M550.3 46.8h0.01 M538.2 51.1h0.01 M533.3 48.0h0.01 M531.2 43.6h0.01 M543.4 46.0h0.01 M538.4 44.3h0.01 M553.0 40.1h0.01 M534.0 54.8h0.01 M546.8 56.8h0.01 M546.9 47.4h0.01 M546.6 59.2h0.01 M531.2 32.7h0.01 M550.1 33.5h0.01 M529.2 47.2h0.01 M532.3 38.9h0.01 M526.3 41.4h0.01 M537.2 30.7h0.01 M550.5 42.9h0.01 M548.4 50.5h0.01 M533.9 48.6h0.01 M545.2 51.0h0.01 M543.7 41.6h0.01 M530.1 30.4h0.01 M533.7 46.6h0.01 M554.9 54.9h0.01 M545.1 34.6h0.01 M552.7 60.4h0.01 M551.6 58.6h0.01 M528.5 40.3h0.01 M520.2 38.1h0.01 M528.8 47.4h0.01 M530.3 39.2h0.01 M557.0 50.4h0.01 M542.8 43.4h0.01 M543.2 47.3h0.01 M544.4 45.1h0.01 M538.8 44.5h0.01 M543.1 43.8h0.01 M534.7 52.8h0.01 M540.4 42.0h0.01 M529.2 27.8h0.01 M549.0 41.9h0.01 M553.5 49.5h0.01 M554.9 48.6h0.01 M532.3 35.7h0.01 M552.3 45.2h0.01 M539.8 36.9h0.01 M535.7 48.9h0.01 M543.9 46.2h0.01 M542.0 40.9h0.01 M540.8 36.8h0.01 M521.5 42.9h0.01 M545.6 47.0h0.01 M539.7 50.8h0.01 M537.6 57.6h0.01 M544.7 61.9h0.01 M542.5 47.9h0.01 M532.3 42.5h0.01 M550.1 45.1h0.01 M545.1 51.2h0.01 M527.7 37.3h0.01 M522.7 41.3h0.01 M542.5 39.9h0.01 M538.4 58.6h0.01 M554.0 46.8h0.01 M542.7 41.5h0.01 M532.7 44.7h0.01 M534.7 37.6h0.01 M537.3 48.9h0.01 M543.9 43.1h0.01 M551.0 39.6h0.01 M545.2 36.7h0.01 M541.6 54.9h0.01 M531.8 44.6h0.01 M541.4 48.5h0.01 M545.0 32.8h0.01 M548.0 47.4h0.01 M545.9 46.6h0.01 M526.2 23.2h0.01 M528.0 46.7h0.01 M546.2 54.8h0.01 M545.0 51.6h0.01 M543.4 42.0h0.01 M538.6 43.7h0.01 M552.9 35.6h0.01 M535.3 41.5h0.01 M534.6 48.8h0.01 M533.5 31.9h0.01 M542.3 46.5h0.01 M538.2 39.2h0.01 M528.7 48.1h0.01 M539.8 40.9h0.01 M537.5 37.2h0.01 M542.4 50.2h0.01 M543.0 46.6h0.01 M535.4 43.0h0.01 M532.2 40.2h0.01 M547.3 54.3h0.01 M559.4 59.9h0.01 M539.3 25.0h0.01 M535.8 49.9h0.01 M549.7 56.5h0.01 M542.0 42.2h0.01 M533.3 33.4h0.01 M533.7 39.2h0.01" stroke="#A3B3BA" stroke-width="0.96" stroke-linecap="round" fill="none" opacity="0.72"/>
<path d="M561.4 46.3h0.01 M538.7 55.8h0.01 M567.1 46.7h0.01 M549.0 50.1h0.01 M562.7 52.3h0.01 M544.7 41.5h0.01 M547.8 40.4h0.01 M536.6 36.8h0.01 M558.7 41.5h0.01 M542.1 38.0h0.01 M558.0 43.8h0.01 M558.6 54.1h0.01 M518.1 49.9h0.01 M519.7 39.7h0.01 M523.1 27.5h0.01 M561.3 55.4h0.01 M527.5 42.1h0.01 M530.9 36.5h0.01 M558.4 34.4h0.01 M554.6 35.3h0.01 M543.6 38.1h0.01 M564.7 41.7h0.01 M543.3 45.7h0.01 M514.5 55.8h0.01 M542.1 53.4h0.01 M553.3 40.1h0.01 M554.9 56.8h0.01 M555.5 57.7h0.01 M525.2 27.4h0.01 M556.3 59.1h0.01 M559.5 58.5h0.01 M561.4 28.2h0.01 M560.5 39.3h0.01 M558.3 33.0h0.01 M535.7 45.0h0.01 M532.1 37.9h0.01 M562.3 51.6h0.01 M564.6 27.5h0.01 M531.9 59.6h0.01 M566.9 57.1h0.01 M524.5 41.2h0.01 M567.8 37.3h0.01 M534.0 51.8h0.01 M563.8 34.9h0.01 M534.9 30.2h0.01 M550.7 49.4h0.01 M544.5 53.8h0.01 M539.4 59.5h0.01 M548.7 28.6h0.01 M533.6 28.7h0.01 M537.8 28.7h0.01 M522.3 49.1h0.01 M556.7 39.4h0.01 M562.0 39.6h0.01 M529.7 43.9h0.01 M559.6 30.0h0.01 M567.6 28.2h0.01 M529.8 32.7h0.01 M564.7 42.5h0.01 M540.9 50.7h0.01 M567.3 33.7h0.01 M540.4 49.0h0.01 M541.0 58.1h0.01 M552.3 49.2h0.01 M519.7 37.9h0.01 M517.1 28.6h0.01 M538.4 57.6h0.01 M565.8 58.2h0.01 M517.5 56.9h0.01 M567.3 34.6h0.01 M537.4 42.1h0.01 M527.6 32.5h0.01 M522.5 52.8h0.01 M539.7 53.5h0.01 M566.1 46.9h0.01 M543.0 37.0h0.01 M515.9 28.3h0.01 M568.0 34.5h0.01 M517.7 28.2h0.01 M554.7 51.2h0.01 M560.1 41.5h0.01 M563.4 59.9h0.01 M542.5 26.8h0.01 M566.7 40.5h0.01 M544.8 38.1h0.01 M555.9 47.4h0.01 M519.9 34.5h0.01 M553.0 38.8h0.01 M560.9 28.8h0.01 M560.6 34.3h0.01 M538.4 48.4h0.01 M531.5 55.4h0.01 M560.0 55.8h0.01 M524.3 41.8h0.01 M516.7 36.3h0.01 M550.6 48.3h0.01 M544.9 42.5h0.01 M546.8 26.5h0.01 M515.4 52.5h0.01 M538.8 32.3h0.01 M536.4 43.7h0.01 M550.7 52.0h0.01 M516.0 46.4h0.01 M535.2 37.5h0.01 M561.3 46.6h0.01 M553.8 42.1h0.01 M552.4 39.7h0.01 M542.5 33.0h0.01 M519.5 26.3h0.01 M529.3 41.1h0.01 M518.6 56.3h0.01 M546.1 35.2h0.01 M557.0 32.9h0.01 M549.1 53.7h0.01 M558.4 50.0h0.01 M545.6 58.9h0.01 M516.3 28.1h0.01 M530.5 36.0h0.01 M544.7 47.9h0.01 M562.8 28.6h0.01 M538.8 55.2h0.01 M540.0 30.3h0.01 M536.7 30.8h0.01 M514.4 36.1h0.01 M521.5 38.7h0.01 M561.2 47.4h0.01 M547.2 60.0h0.01 M545.1 42.2h0.01 M554.0 39.1h0.01 M526.6 43.1h0.01 M542.7 35.7h0.01 M557.5 38.5h0.01 M551.1 28.3h0.01 M538.1 36.8h0.01 M524.6 37.9h0.01 M548.0 39.2h0.01 M564.4 48.1h0.01 M524.8 33.6h0.01 M558.1 34.6h0.01 M562.9 35.5h0.01 M519.4 42.8h0.01 M547.0 50.8h0.01 M521.9 44.9h0.01 M550.3 32.0h0.01 M531.2 55.5h0.01 M566.9 28.7h0.01 M562.4 34.6h0.01 M547.5 52.7h0.01 M554.2 54.2h0.01 M552.4 54.5h0.01 M550.2 40.1h0.01 M560.9 47.9h0.01 M528.7 26.2h0.01 M559.1 59.3h0.01 M554.6 51.3h0.01 M561.5 58.4h0.01 M547.4 57.0h0.01 M542.5 42.0h0.01 M560.3 53.9h0.01 M566.1 38.5h0.01" stroke="#A3B3BA" stroke-width="0.90" stroke-linecap="round" fill="none" opacity="0.6"/>
<path d="M513.9 57.0h0.01 M515.6 56.5h0.01 M513.1 56.8h0.01 M506.2 61.5h0.01 M506.9 60.9h0.01 M515.1 57.1h0.01 M509.2 59.5h0.01 M507.3 62.5h0.01 M515.4 57.6h0.01 M504.9 61.2h0.01 M504.7 62.8h0.01 M509.8 59.9h0.01 M506.7 59.5h0.01 M515.1 57.0h0.01 M508.2 60.8h0.01 M510.5 57.8h0.01 M515.1 55.8h0.01 M504.1 61.4h0.01 M506.4 62.0h0.01 M513.2 58.2h0.01 M514.9 56.6h0.01 M507.6 60.2h0.01 M515.6 57.9h0.01 M511.5 58.5h0.01 M512.2 58.7h0.01 M504.8 60.8h0.01 M513.8 58.1h0.01 M510.4 58.7h0.01 M505.7 60.5h0.01 M506.8 61.4h0.01 M507.1 61.6h0.01 M510.5 59.2h0.01 M506.1 60.8h0.01 M506.2 60.9h0.01 M514.6 57.6h0.01 M514.0 56.8h0.01 M514.7 58.5h0.01 M511.3 58.3h0.01 M511.9 57.7h0.01 M505.9 60.7h0.01 M513.6 58.0h0.01 M513.6 56.6h0.01 M511.0 59.0h0.01 M510.1 59.6h0.01 M505.1 62.2h0.01 M504.9 61.7h0.01 M508.1 60.3h0.01 M515.0 56.6h0.01 M509.1 60.4h0.01 M514.3 56.9h0.01 M515.3 56.8h0.01 M508.3 59.8h0.01 M510.8 60.3h0.01 M514.2 55.9h0.01 M511.5 58.3h0.01 M512.0 58.1h0.01 M507.3 61.2h0.01 M505.9 62.0h0.01 M511.7 58.9h0.01 M509.2 59.0h0.01" stroke="#7d8285" stroke-width="1.00" stroke-linecap="round" fill="none" opacity="0.85"/>
<path d="M519.2 71.4h0.01 M523.0 73.2h0.01 M514.6 79.5h0.01 M506.5 73.7h0.01 M520.1 70.9h0.01 M519.5 72.7h0.01 M524.9 76.8h0.01 M534.0 69.2h0.01 M521.6 69.9h0.01 M524.5 70.6h0.01 M525.5 79.6h0.01 M514.9 86.5h0.01 M530.4 72.8h0.01 M516.4 77.5h0.01 M531.2 77.8h0.01 M536.7 78.5h0.01 M525.0 85.5h0.01 M532.6 77.3h0.01 M521.2 69.3h0.01 M519.4 82.7h0.01 M520.1 75.8h0.01 M529.1 81.3h0.01 M534.9 80.3h0.01 M510.9 82.5h0.01 M518.2 81.8h0.01 M509.1 73.1h0.01 M510.1 72.9h0.01 M510.5 71.8h0.01 M523.2 87.1h0.01 M533.2 83.8h0.01 M505.9 72.6h0.01 M524.7 81.6h0.01 M524.3 78.1h0.01 M527.7 74.8h0.01 M507.7 72.0h0.01 M521.6 68.3h0.01 M535.2 73.4h0.01 M510.5 70.5h0.01 M518.2 82.5h0.01 M530.6 72.7h0.01 M532.6 71.5h0.01 M511.7 69.2h0.01 M517.0 88.2h0.01 M527.1 79.0h0.01 M520.2 84.5h0.01 M520.8 83.9h0.01 M509.6 80.9h0.01 M517.6 80.4h0.01 M528.7 67.7h0.01 M515.4 83.2h0.01 M533.4 83.4h0.01 M514.6 83.3h0.01 M530.6 68.4h0.01 M514.8 79.1h0.01 M536.9 75.3h0.01 M515.7 87.5h0.01 M532.0 80.0h0.01 M522.9 76.0h0.01 M516.9 73.7h0.01 M508.1 72.6h0.01 M509.2 77.9h0.01 M511.6 75.1h0.01 M515.4 69.2h0.01 M523.2 82.0h0.01 M515.7 74.6h0.01 M514.9 74.3h0.01 M512.1 70.4h0.01 M518.2 72.8h0.01 M531.9 74.9h0.01 M533.2 72.6h0.01 M526.6 73.9h0.01 M508.0 78.7h0.01 M516.6 76.1h0.01 M529.0 74.6h0.01 M525.2 86.2h0.01 M528.9 81.2h0.01 M534.7 81.2h0.01 M523.0 85.6h0.01 M534.1 73.6h0.01 M515.4 69.6h0.01 M511.9 80.6h0.01 M513.9 81.6h0.01 M529.3 72.1h0.01 M514.1 73.3h0.01 M520.0 79.4h0.01 M522.0 81.9h0.01 M522.6 78.1h0.01 M522.1 78.3h0.01 M506.7 83.0h0.01 M516.5 88.6h0.01 M525.2 70.0h0.01 M520.3 78.9h0.01 M531.9 71.7h0.01 M537.1 72.8h0.01 M518.5 72.5h0.01 M527.3 76.8h0.01 M526.4 71.6h0.01 M520.9 69.2h0.01 M512.4 71.3h0.01 M532.4 71.4h0.01 M507.5 73.5h0.01 M517.9 81.6h0.01 M530.9 77.2h0.01 M522.9 80.1h0.01 M519.7 72.7h0.01 M504.8 75.1h0.01 M527.3 67.3h0.01 M517.5 86.8h0.01 M520.5 71.5h0.01 M525.3 68.4h0.01 M512.3 79.5h0.01 M527.2 75.9h0.01 M519.2 71.8h0.01 M508.0 76.7h0.01 M530.9 72.8h0.01 M529.6 83.4h0.01 M522.2 81.2h0.01 M520.4 72.9h0.01 M526.2 68.2h0.01 M511.1 85.6h0.01 M514.1 76.2h0.01 M533.5 78.7h0.01 M521.7 85.0h0.01 M521.7 77.0h0.01 M519.8 77.0h0.01 M507.4 71.9h0.01 M532.5 80.8h0.01 M532.3 76.3h0.01 M531.2 76.8h0.01 M506.9 74.2h0.01 M522.2 85.0h0.01 M519.5 82.1h0.01 M534.3 72.9h0.01 M508.0 75.1h0.01 M526.2 72.9h0.01 M509.4 78.3h0.01 M523.3 84.5h0.01 M519.6 69.0h0.01 M518.6 74.0h0.01 M536.6 73.4h0.01 M513.0 78.0h0.01 M525.1 68.2h0.01 M507.8 74.4h0.01 M516.5 73.6h0.01 M525.4 83.2h0.01 M515.6 68.7h0.01 M521.9 79.1h0.01 M533.9 73.1h0.01 M515.2 80.8h0.01 M506.0 73.2h0.01 M527.0 75.9h0.01 M534.7 74.5h0.01 M517.4 69.6h0.01 M523.6 73.8h0.01 M518.0 69.5h0.01 M525.0 78.9h0.01 M527.8 73.7h0.01 M507.9 82.8h0.01 M522.0 79.2h0.01 M530.2 75.1h0.01 M532.8 77.5h0.01 M518.2 69.1h0.01 M524.7 85.0h0.01 M522.0 86.4h0.01 M531.5 69.8h0.01 M530.9 80.7h0.01 M531.5 70.8h0.01 M509.1 75.3h0.01 M525.4 75.2h0.01 M538.8 73.4h0.01 M517.3 74.2h0.01 M515.4 84.1h0.01 M507.7 74.0h0.01 M519.8 70.4h0.01 M522.5 76.3h0.01 M534.2 76.8h0.01 M525.7 83.1h0.01 M513.6 78.2h0.01 M525.5 84.3h0.01 M526.3 88.7h0.01 M535.0 74.6h0.01 M511.7 81.6h0.01 M509.0 69.9h0.01 M520.8 83.8h0.01 M532.9 83.2h0.01 M508.5 73.5h0.01 M514.4 77.6h0.01 M519.1 75.5h0.01 M519.9 84.4h0.01 M528.2 81.6h0.01 M520.8 83.2h0.01 M530.7 69.1h0.01 M528.0 77.3h0.01 M529.9 71.0h0.01 M526.2 85.2h0.01 M531.4 68.3h0.01 M515.3 69.1h0.01 M529.4 82.4h0.01 M524.4 68.8h0.01 M510.3 85.1h0.01 M524.4 76.0h0.01 M509.7 75.1h0.01 M521.5 89.1h0.01 M518.2 68.5h0.01 M532.7 68.6h0.01 M515.7 87.1h0.01 M525.5 73.5h0.01 M518.2 81.2h0.01 M510.7 72.5h0.01 M506.4 81.0h0.01 M513.4 67.1h0.01 M518.6 79.4h0.01 M519.8 68.1h0.01 M524.2 75.9h0.01 M514.3 73.9h0.01 M509.7 82.3h0.01 M532.4 75.2h0.01 M522.2 73.7h0.01 M516.7 82.7h0.01 M530.1 83.2h0.01 M516.0 85.7h0.01 M536.0 80.8h0.01 M522.6 75.1h0.01 M509.9 69.7h0.01 M526.8 80.0h0.01 M512.8 83.9h0.01 M526.3 83.4h0.01 M510.6 81.3h0.01 M525.6 80.1h0.01 M510.6 66.2h0.01 M518.7 86.6h0.01 M516.3 86.4h0.01 M512.6 78.7h0.01 M527.3 72.1h0.01 M511.1 76.3h0.01 M513.0 82.7h0.01 M508.4 84.0h0.01 M529.2 69.9h0.01 M528.5 72.0h0.01 M520.3 85.6h0.01 M511.0 72.6h0.01 M515.7 85.2h0.01 M535.3 84.5h0.01 M533.5 77.3h0.01 M521.7 76.8h0.01 M536.6 70.7h0.01 M523.3 82.8h0.01 M510.7 70.9h0.01 M527.0 73.9h0.01 M533.2 79.7h0.01 M512.1 77.6h0.01 M516.4 88.6h0.01 M520.0 76.8h0.01 M534.2 76.7h0.01 M511.2 70.9h0.01 M532.1 73.4h0.01 M518.0 68.6h0.01 M527.8 85.7h0.01 M534.3 69.6h0.01 M516.8 72.9h0.01 M523.5 75.0h0.01 M532.9 80.3h0.01 M538.9 75.3h0.01 M528.1 87.1h0.01 M519.9 75.1h0.01 M516.2 77.3h0.01 M507.3 74.0h0.01 M527.9 71.9h0.01 M520.0 77.2h0.01 M522.8 68.7h0.01 M514.3 84.4h0.01 M520.2 85.1h0.01 M538.0 74.1h0.01 M521.3 86.2h0.01 M531.5 74.1h0.01 M532.4 69.2h0.01 M532.8 79.5h0.01 M507.8 82.9h0.01 M536.4 72.4h0.01 M533.5 71.2h0.01 M523.1 81.0h0.01 M520.5 81.6h0.01 M534.5 81.7h0.01 M535.0 71.7h0.01 M530.7 75.5h0.01 M509.2 75.4h0.01 M534.4 75.3h0.01 M534.5 76.3h0.01 M527.1 72.0h0.01 M508.8 78.4h0.01 M511.7 81.0h0.01 M510.4 75.0h0.01 M524.3 75.6h0.01 M506.3 80.8h0.01 M515.0 86.8h0.01 M534.2 67.3h0.01 M515.1 77.9h0.01 M527.9 76.7h0.01 M520.4 85.0h0.01 M521.2 75.5h0.01 M525.1 74.1h0.01 M526.3 81.5h0.01 M535.8 76.1h0.01 M512.6 86.0h0.01 M526.3 77.7h0.01 M516.5 83.5h0.01 M527.2 77.0h0.01 M517.4 71.5h0.01 M524.4 75.7h0.01 M518.9 83.8h0.01 M532.4 79.9h0.01 M514.7 67.4h0.01 M520.4 79.6h0.01 M528.6 85.6h0.01 M523.6 69.9h0.01 M515.9 72.9h0.01 M512.6 82.2h0.01 M533.9 80.8h0.01 M516.0 78.6h0.01 M516.1 73.6h0.01 M535.3 78.4h0.01 M513.2 71.5h0.01 M511.9 76.5h0.01 M529.4 79.8h0.01 M510.2 82.3h0.01 M510.1 75.8h0.01 M513.1 78.5h0.01 M511.8 66.8h0.01 M537.8 76.9h0.01 M526.7 84.6h0.01 M518.1 81.1h0.01 M507.1 78.7h0.01 M528.9 81.9h0.01 M523.6 81.6h0.01 M520.4 67.0h0.01 M520.5 86.3h0.01 M520.0 71.6h0.01 M526.0 86.5h0.01 M509.0 75.8h0.01 M513.5 82.4h0.01 M510.7 73.2h0.01 M515.6 76.5h0.01 M516.3 84.7h0.01 M521.6 72.5h0.01 M520.9 74.2h0.01 M522.7 70.7h0.01 M510.2 79.2h0.01 M524.2 87.0h0.01 M518.3 72.3h0.01 M526.2 67.6h0.01 M526.7 71.0h0.01 M528.9 81.6h0.01 M519.9 83.4h0.01 M532.7 71.8h0.01 M521.7 87.4h0.01 M509.7 67.6h0.01 M513.5 70.1h0.01 M526.4 69.7h0.01 M531.1 78.9h0.01 M537.1 80.1h0.01 M518.5 74.1h0.01 M525.5 70.8h0.01 M530.7 83.6h0.01 M518.7 80.6h0.01 M528.4 68.9h0.01 M536.0 73.6h0.01 M532.5 72.3h0.01 M509.1 77.5h0.01 M537.2 72.2h0.01 M522.1 75.0h0.01 M509.3 83.6h0.01 M523.0 74.2h0.01 M529.2 69.9h0.01 M520.0 84.2h0.01 M515.4 74.4h0.01 M533.6 85.5h0.01 M532.2 73.1h0.01 M515.2 77.7h0.01 M514.1 84.0h0.01 M520.1 76.5h0.01 M532.3 70.9h0.01 M514.5 68.8h0.01 M525.0 71.5h0.01 M520.7 83.7h0.01 M536.6 79.0h0.01 M510.4 80.9h0.01 M522.1 84.5h0.01 M513.7 83.6h0.01 M529.8 68.7h0.01 M522.1 69.7h0.01 M522.4 66.8h0.01 M514.3 70.5h0.01 M521.5 85.1h0.01 M524.9 71.0h0.01 M535.1 79.1h0.01 M526.5 74.3h0.01 M515.6 75.9h0.01 M522.1 70.6h0.01 M509.9 76.0h0.01 M510.1 70.0h0.01 M510.4 82.3h0.01 M528.4 82.6h0.01 M520.9 83.9h0.01 M507.7 70.0h0.01 M524.5 69.5h0.01 M513.3 81.5h0.01 M529.2 73.3h0.01 M522.8 65.9h0.01 M520.2 88.1h0.01 M522.7 71.5h0.01 M527.6 79.2h0.01 M517.9 69.0h0.01 M520.1 71.6h0.01 M524.4 75.2h0.01 M527.4 72.6h0.01 M515.6 68.5h0.01 M530.0 74.8h0.01 M534.4 75.0h0.01 M520.3 74.0h0.01 M509.5 73.7h0.01 M536.7 73.8h0.01 M533.2 72.2h0.01 M519.9 79.5h0.01 M518.0 72.5h0.01 M531.8 85.9h0.01 M506.9 82.8h0.01 M515.3 70.9h0.01 M508.8 79.9h0.01 M505.4 72.8h0.01 M514.7 79.5h0.01 M516.5 80.1h0.01 M508.9 84.0h0.01 M513.8 72.9h0.01 M529.5 80.6h0.01 M525.4 79.4h0.01 M510.9 72.5h0.01 M510.7 67.1h0.01 M512.4 74.3h0.01 M532.2 76.6h0.01 M510.9 71.2h0.01 M510.6 81.6h0.01 M523.3 86.4h0.01 M527.5 75.7h0.01 M519.4 71.3h0.01 M516.4 79.5h0.01 M513.4 69.4h0.01 M516.5 69.9h0.01 M525.8 77.7h0.01 M538.1 77.1h0.01 M521.0 77.2h0.01 M522.0 86.1h0.01 M527.6 71.8h0.01 M518.9 80.9h0.01 M514.4 85.0h0.01 M518.2 85.4h0.01 M528.8 71.1h0.01 M512.5 79.7h0.01 M527.9 74.3h0.01 M516.0 76.1h0.01 M511.3 73.8h0.01 M520.1 76.3h0.01 M507.1 78.6h0.01 M526.7 77.3h0.01 M531.2 68.5h0.01 M515.6 67.9h0.01 M511.3 79.2h0.01 M535.0 71.3h0.01 M531.9 75.0h0.01 M508.9 80.1h0.01 M517.8 85.3h0.01 M519.5 73.6h0.01 M518.5 69.9h0.01 M521.7 88.0h0.01 M511.8 73.8h0.01 M516.4 67.2h0.01 M512.0 85.1h0.01 M521.6 76.1h0.01 M509.9 83.8h0.01 M517.6 83.2h0.01 M526.6 70.2h0.01 M512.8 76.1h0.01 M510.4 79.5h0.01 M512.2 83.2h0.01 M525.9 81.1h0.01 M532.3 81.9h0.01 M509.8 72.9h0.01 M530.2 77.9h0.01 M536.9 75.7h0.01 M512.7 69.3h0.01 M521.7 75.2h0.01 M509.9 73.5h0.01 M518.4 70.8h0.01 M505.6 76.6h0.01 M510.0 73.0h0.01 M513.3 73.5h0.01 M507.8 78.0h0.01 M505.2 79.2h0.01 M536.7 74.4h0.01 M514.7 74.5h0.01 M520.8 69.4h0.01 M525.4 75.6h0.01 M505.9 83.3h0.01 M522.5 79.9h0.01 M534.1 78.4h0.01 M517.5 78.2h0.01 M521.1 68.9h0.01 M514.6 87.2h0.01 M531.6 72.8h0.01 M518.6 77.6h0.01 M522.8 86.2h0.01 M513.4 69.5h0.01 M518.3 73.4h0.01 M522.7 86.9h0.01 M522.5 68.4h0.01 M529.4 81.8h0.01 M522.5 72.0h0.01 M515.4 80.7h0.01 M530.3 70.1h0.01 M518.0 68.5h0.01 M511.2 85.1h0.01 M537.2 76.5h0.01 M522.8 67.4h0.01 M513.0 72.6h0.01 M506.0 76.7h0.01 M517.9 86.2h0.01 M510.7 75.4h0.01 M515.0 85.8h0.01 M523.9 80.0h0.01 M519.9 87.5h0.01 M516.9 69.6h0.01 M520.2 78.6h0.01 M515.9 76.0h0.01 M514.3 69.3h0.01 M511.5 84.2h0.01 M522.3 67.6h0.01 M514.3 69.1h0.01 M524.2 77.9h0.01 M531.0 75.4h0.01 M526.6 75.0h0.01 M528.8 81.2h0.01 M518.1 71.8h0.01 M524.3 84.3h0.01 M519.5 85.9h0.01 M513.3 85.6h0.01 M535.8 73.9h0.01 M529.5 70.9h0.01 M523.5 77.0h0.01 M507.5 77.5h0.01 M515.2 83.6h0.01 M511.9 76.7h0.01 M511.6 81.0h0.01 M521.8 76.7h0.01 M521.9 73.8h0.01 M527.0 71.5h0.01 M533.4 73.1h0.01 M510.2 69.4h0.01 M529.0 80.7h0.01 M510.0 73.3h0.01 M520.8 80.4h0.01 M534.5 77.2h0.01 M522.9 82.9h0.01 M514.7 87.5h0.01 M526.2 79.5h0.01 M524.8 71.4h0.01 M533.1 69.0h0.01 M520.9 85.4h0.01 M529.2 77.8h0.01 M514.0 74.6h0.01 M511.5 74.5h0.01 M524.9 66.6h0.01 M535.2 72.3h0.01 M529.3 83.5h0.01 M534.3 76.3h0.01 M507.9 81.4h0.01 M521.0 75.9h0.01 M529.7 72.8h0.01 M520.8 86.3h0.01 M530.8 83.6h0.01 M512.9 75.2h0.01 M520.1 85.7h0.01 M520.7 72.0h0.01 M537.3 73.4h0.01 M510.2 71.6h0.01 M518.4 75.6h0.01 M514.4 81.3h0.01 M528.6 69.7h0.01 M522.5 73.3h0.01 M527.8 71.8h0.01 M506.9 76.6h0.01 M521.4 80.5h0.01 M507.1 80.9h0.01 M524.1 69.1h0.01 M523.0 76.2h0.01 M510.8 84.9h0.01 M506.4 72.7h0.01 M515.7 83.5h0.01 M510.8 81.2h0.01 M532.2 74.8h0.01 M525.9 70.3h0.01 M530.0 68.8h0.01" stroke="#D6452A" stroke-width="0.96" stroke-linecap="round" fill="none" opacity="0.72"/>
<path d="M525.1 79.5h0.01 M521.8 75.2h0.01 M519.2 80.2h0.01 M515.1 72.9h0.01 M516.8 88.2h0.01 M515.8 82.6h0.01 M517.8 80.0h0.01 M521.4 81.6h0.01 M516.4 76.0h0.01 M518.5 70.8h0.01 M528.4 73.3h0.01 M516.6 79.7h0.01 M509.5 80.9h0.01 M525.7 73.4h0.01 M507.0 70.4h0.01 M524.0 83.1h0.01 M510.9 80.5h0.01 M521.1 75.8h0.01 M520.5 77.0h0.01 M521.6 81.3h0.01 M509.4 78.7h0.01 M513.2 85.7h0.01 M517.3 76.0h0.01 M515.0 76.3h0.01 M520.0 82.6h0.01 M511.1 80.9h0.01 M502.2 77.2h0.01 M520.9 73.2h0.01 M520.9 78.4h0.01 M519.0 78.2h0.01 M519.2 68.8h0.01 M510.3 84.5h0.01 M515.2 77.6h0.01 M518.6 70.5h0.01 M520.2 74.7h0.01 M527.5 79.3h0.01 M508.4 80.0h0.01 M517.4 64.5h0.01 M516.0 80.2h0.01 M510.7 76.5h0.01 M520.1 68.0h0.01 M505.0 77.4h0.01 M506.0 82.0h0.01 M514.0 91.7h0.01 M521.8 75.5h0.01 M517.0 74.6h0.01 M525.5 74.1h0.01 M516.2 71.6h0.01 M510.4 89.7h0.01 M517.9 85.8h0.01 M507.2 70.4h0.01 M512.6 77.7h0.01 M511.6 77.3h0.01 M526.5 75.3h0.01 M514.3 81.9h0.01 M516.9 78.5h0.01 M508.2 77.3h0.01 M519.7 79.8h0.01 M510.9 83.7h0.01 M523.7 83.6h0.01 M519.4 72.1h0.01 M511.6 78.5h0.01 M517.0 81.0h0.01 M522.1 70.6h0.01 M519.1 68.6h0.01 M512.8 72.9h0.01 M522.1 82.8h0.01 M515.8 74.3h0.01 M507.5 73.8h0.01 M526.4 77.2h0.01 M513.6 78.2h0.01 M532.9 86.0h0.01 M510.8 66.3h0.01 M527.5 73.4h0.01 M521.9 80.6h0.01 M524.4 72.3h0.01 M515.2 73.6h0.01 M525.3 79.3h0.01 M523.7 77.6h0.01 M508.7 75.2h0.01 M507.1 68.5h0.01 M502.9 76.2h0.01 M516.3 70.4h0.01 M512.8 77.6h0.01 M516.3 75.4h0.01 M527.3 78.5h0.01 M519.9 79.0h0.01 M522.4 70.7h0.01 M509.1 80.3h0.01 M504.2 77.3h0.01 M515.0 75.9h0.01 M510.5 71.0h0.01 M519.8 80.8h0.01 M516.4 81.2h0.01 M515.2 80.5h0.01 M513.2 68.9h0.01 M516.6 80.2h0.01 M518.0 79.9h0.01 M525.7 66.7h0.01 M508.8 72.5h0.01 M518.3 69.9h0.01 M519.0 76.1h0.01 M520.9 80.4h0.01 M518.0 70.6h0.01 M511.0 76.3h0.01 M507.7 80.9h0.01 M502.2 74.1h0.01 M511.0 79.3h0.01 M527.1 76.0h0.01 M522.1 74.8h0.01 M517.4 71.5h0.01 M520.7 80.2h0.01 M522.3 81.1h0.01 M521.4 71.5h0.01 M508.8 79.8h0.01 M511.6 74.1h0.01 M516.1 74.9h0.01 M513.8 82.8h0.01 M522.8 75.3h0.01 M506.3 75.7h0.01 M517.1 82.1h0.01 M514.1 78.4h0.01 M520.5 72.3h0.01 M510.2 78.9h0.01 M512.1 71.7h0.01 M514.6 71.3h0.01 M509.9 76.0h0.01 M503.2 80.2h0.01 M527.4 74.2h0.01 M507.2 72.5h0.01 M512.8 68.6h0.01 M515.8 74.0h0.01 M522.9 76.7h0.01 M509.7 72.5h0.01 M510.0 72.8h0.01 M510.8 77.1h0.01 M519.2 74.6h0.01 M521.5 84.7h0.01 M512.4 71.1h0.01 M508.4 86.6h0.01 M517.2 69.2h0.01 M512.9 75.2h0.01 M517.1 83.4h0.01 M514.1 74.0h0.01 M507.7 76.1h0.01 M513.6 74.7h0.01 M504.9 79.4h0.01 M510.7 77.9h0.01 M505.9 85.9h0.01 M502.1 73.7h0.01 M508.1 72.3h0.01 M522.4 81.5h0.01 M525.4 73.9h0.01 M521.5 81.5h0.01 M519.0 78.5h0.01 M514.6 70.4h0.01 M506.4 80.6h0.01 M517.8 73.3h0.01 M516.0 69.9h0.01 M522.4 77.2h0.01 M512.9 67.2h0.01 M512.9 67.8h0.01 M511.3 79.7h0.01 M525.5 71.6h0.01 M508.4 77.9h0.01 M517.8 70.9h0.01 M516.5 69.1h0.01 M509.4 88.0h0.01 M518.5 74.6h0.01 M509.5 69.2h0.01 M511.4 86.9h0.01 M515.2 82.1h0.01 M512.2 75.6h0.01 M519.8 76.4h0.01 M509.9 78.1h0.01 M512.2 78.0h0.01 M505.5 80.1h0.01 M521.0 73.1h0.01 M514.5 72.1h0.01 M502.2 77.0h0.01 M517.4 81.3h0.01 M518.3 85.3h0.01 M516.6 76.7h0.01 M523.3 72.1h0.01 M513.8 78.2h0.01 M532.1 79.9h0.01 M514.2 77.2h0.01 M518.9 78.6h0.01 M519.0 78.7h0.01 M514.3 75.5h0.01 M521.4 73.5h0.01 M519.1 75.8h0.01 M513.0 70.8h0.01 M510.2 73.8h0.01 M515.1 77.3h0.01 M514.8 73.8h0.01 M510.3 80.3h0.01 M516.5 83.6h0.01 M515.5 89.6h0.01 M512.3 85.6h0.01 M522.9 78.9h0.01 M525.4 79.9h0.01 M515.0 68.3h0.01 M514.5 76.9h0.01 M505.2 73.8h0.01 M524.8 75.2h0.01 M513.2 77.9h0.01 M513.1 79.8h0.01 M515.3 78.6h0.01 M510.5 79.0h0.01 M519.1 85.5h0.01 M519.6 62.8h0.01 M511.1 70.6h0.01 M523.6 80.4h0.01 M518.4 67.2h0.01 M513.6 75.2h0.01 M526.4 77.7h0.01 M517.6 76.3h0.01 M516.1 86.4h0.01 M511.5 82.0h0.01" stroke="#D6452A" stroke-width="0.96" stroke-linecap="round" fill="none" opacity="0.72"/>
<path d="M522.1 56.9h0.01 M550.3 45.3h0.01 M517.4 57.9h0.01 M545.2 60.0h0.01 M509.6 54.8h0.01 M515.6 61.6h0.01 M517.7 50.9h0.01 M556.6 50.7h0.01 M556.6 50.3h0.01 M507.6 55.1h0.01 M506.7 71.0h0.01 M517.0 57.5h0.01 M529.7 69.9h0.01 M555.4 55.3h0.01 M550.3 67.8h0.01 M547.0 55.3h0.01 M550.6 48.6h0.01 M531.0 55.0h0.01 M526.7 65.8h0.01 M554.8 50.1h0.01 M554.5 48.3h0.01 M513.6 53.4h0.01 M556.6 69.1h0.01 M550.7 46.2h0.01 M514.9 47.7h0.01 M558.1 53.1h0.01 M514.3 58.5h0.01 M508.1 59.5h0.01 M554.8 64.9h0.01 M521.0 59.6h0.01 M538.1 65.1h0.01 M520.2 69.0h0.01 M505.1 62.0h0.01 M519.3 48.1h0.01 M528.3 54.7h0.01" stroke="#D6452A" stroke-width="0.90" stroke-linecap="round" fill="none" opacity="0.8"/>
<path d="M584.9 70.3h0.01 M641.0 83.2h0.01 M642.7 41.5h0.01 M649.7 36.8h0.01 M615.4 79.4h0.01 M589.6 40.1h0.01 M601.0 49.3h0.01 M624.6 62.9h0.01 M652.4 33.5h0.01 M602.8 85.4h0.01 M584.2 57.8h0.01 M614.4 50.9h0.01 M617.0 51.3h0.01 M607.8 28.9h0.01 M660.6 77.9h0.01 M649.3 70.0h0.01 M620.6 63.1h0.01 M645.3 51.5h0.01 M648.9 52.9h0.01 M614.0 48.0h0.01 M602.5 35.8h0.01 M611.0 51.7h0.01 M631.8 39.5h0.01 M656.2 89.5h0.01 M652.9 57.4h0.01 M607.3 59.2h0.01 M613.9 77.2h0.01 M629.1 82.0h0.01 M620.0 32.1h0.01 M621.3 77.3h0.01 M646.5 78.3h0.01 M594.4 65.8h0.01 M626.1 74.0h0.01 M584.8 38.9h0.01 M620.3 47.1h0.01 M654.3 73.9h0.01 M644.7 50.6h0.01 M632.2 69.3h0.01 M605.5 48.5h0.01 M606.6 77.2h0.01 M632.7 66.0h0.01 M602.6 47.3h0.01 M638.9 43.0h0.01 M589.2 64.0h0.01 M656.2 87.6h0.01 M597.2 39.1h0.01 M582.8 51.5h0.01 M616.5 89.3h0.01 M592.7 79.5h0.01 M648.7 79.8h0.01 M659.8 50.2h0.01 M640.5 89.3h0.01 M606.8 89.4h0.01 M638.7 50.1h0.01 M611.5 56.5h0.01 M613.2 69.0h0.01 M616.6 35.2h0.01 M611.0 34.3h0.01 M610.0 61.8h0.01 M580.4 73.1h0.01 M657.3 39.2h0.01 M627.0 29.4h0.01 M590.9 47.5h0.01 M581.0 28.3h0.01 M608.1 52.3h0.01 M636.5 70.4h0.01 M612.8 57.7h0.01 M613.3 37.1h0.01 M605.8 50.8h0.01 M654.3 88.5h0.01 M644.8 56.1h0.01 M656.0 29.4h0.01 M588.8 45.1h0.01 M606.1 77.4h0.01 M661.0 53.4h0.01 M649.8 49.0h0.01 M646.6 57.3h0.01 M618.0 63.1h0.01 M590.7 64.8h0.01 M649.7 66.9h0.01 M603.9 50.3h0.01 M587.2 31.2h0.01 M638.7 74.2h0.01 M587.4 46.7h0.01 M644.6 72.9h0.01 M633.5 68.6h0.01 M610.4 42.0h0.01 M614.3 84.7h0.01 M598.4 53.4h0.01 M602.4 64.3h0.01" stroke="#7d8285" stroke-width="0.90" stroke-linecap="round" fill="none" opacity="0.5"/>
<path d="M603.9 60.2h0.01 M606.1 66.1h0.01 M614.0 72.4h0.01 M614.6 64.0h0.01 M610.0 69.5h0.01 M612.8 76.4h0.01 M612.3 64.5h0.01 M609.3 77.7h0.01 M606.2 79.8h0.01 M607.6 65.7h0.01 M609.4 67.4h0.01 M609.0 70.1h0.01 M610.1 71.5h0.01 M613.0 67.9h0.01 M608.0 70.6h0.01 M611.3 72.7h0.01 M602.1 69.5h0.01 M598.2 76.1h0.01 M612.4 70.2h0.01 M612.3 75.5h0.01 M606.8 68.6h0.01 M610.7 64.7h0.01 M612.9 70.9h0.01 M614.0 76.6h0.01 M603.9 65.9h0.01 M610.5 72.0h0.01 M613.8 72.0h0.01 M606.2 64.1h0.01 M604.9 69.2h0.01 M616.4 74.5h0.01 M604.4 65.1h0.01 M608.5 76.2h0.01 M614.2 69.2h0.01 M609.2 64.7h0.01 M610.3 70.1h0.01 M603.4 74.4h0.01 M608.8 67.5h0.01 M609.4 67.8h0.01 M610.6 64.0h0.01 M607.2 71.8h0.01 M611.6 81.2h0.01 M599.6 79.5h0.01 M635.7 76.8h0.01 M624.1 71.6h0.01 M601.8 65.8h0.01 M603.8 36.5h0.01 M661.0 69.1h0.01 M621.6 36.2h0.01 M633.2 42.3h0.01 M620.5 84.9h0.01 M645.3 69.3h0.01 M642.0 73.6h0.01 M595.1 70.0h0.01 M642.9 60.5h0.01" stroke="#D6452A" stroke-width="0.90" stroke-linecap="round" fill="none" opacity="0.75"/>
<path d="M642.5 52.2h0.01 M623.7 52.2h0.01 M630.4 52.6h0.01 M627.3 53.2h0.01 M624.0 52.0h0.01 M624.8 47.2h0.01 M641.5 53.1h0.01 M623.6 51.7h0.01 M617.7 49.8h0.01 M629.0 52.4h0.01 M623.9 50.2h0.01 M623.4 54.4h0.01 M638.0 52.4h0.01 M631.8 50.9h0.01 M622.8 49.2h0.01 M620.6 50.2h0.01 M638.7 50.8h0.01 M624.3 55.2h0.01 M619.1 49.2h0.01 M625.0 54.6h0.01 M626.4 51.6h0.01 M616.0 51.9h0.01 M628.1 49.6h0.01 M618.2 50.8h0.01 M631.1 51.4h0.01 M629.8 56.7h0.01 M627.2 48.7h0.01 M632.1 52.6h0.01 M631.7 48.2h0.01 M633.8 50.9h0.01 M620.7 50.4h0.01 M621.5 49.6h0.01 M623.7 45.5h0.01 M625.8 50.4h0.01 M634.0 51.4h0.01 M635.4 50.7h0.01 M624.8 46.3h0.01 M618.4 50.4h0.01 M625.2 50.6h0.01 M621.7 52.7h0.01 M628.2 50.6h0.01 M622.8 53.2h0.01 M619.2 51.5h0.01 M623.5 51.9h0.01 M620.5 49.4h0.01 M634.0 51.9h0.01 M620.7 47.2h0.01 M634.9 49.0h0.01 M627.5 48.6h0.01 M620.6 48.6h0.01 M630.0 46.9h0.01 M640.8 52.4h0.01 M632.5 53.1h0.01 M631.0 52.8h0.01 M633.2 56.4h0.01 M637.1 53.0h0.01 M634.5 50.3h0.01 M622.7 51.1h0.01 M628.9 47.8h0.01 M630.1 49.9h0.01 M631.4 50.1h0.01 M614.8 50.4h0.01 M616.3 47.8h0.01 M638.0 50.1h0.01 M630.7 52.7h0.01 M631.2 53.4h0.01 M636.0 51.1h0.01 M628.8 53.5h0.01 M626.7 53.2h0.01 M627.5 49.5h0.01 M641.3 51.9h0.01 M637.9 49.8h0.01 M633.2 53.7h0.01 M628.0 50.6h0.01 M628.9 49.5h0.01 M623.3 52.0h0.01 M623.6 55.0h0.01 M636.5 50.1h0.01 M624.6 51.0h0.01 M630.7 51.5h0.01 M620.0 49.2h0.01 M625.5 51.9h0.01 M623.7 49.0h0.01 M622.1 52.6h0.01 M622.4 50.9h0.01 M624.5 53.8h0.01 M629.3 52.8h0.01 M640.4 50.5h0.01 M624.7 48.1h0.01 M628.2 53.1h0.01 M617.2 49.0h0.01 M624.7 50.5h0.01 M632.7 49.7h0.01 M634.4 52.5h0.01 M620.1 46.7h0.01 M625.3 52.9h0.01 M623.7 48.6h0.01 M624.9 55.4h0.01 M612.0 48.1h0.01 M631.9 52.0h0.01 M636.5 55.1h0.01 M633.5 50.7h0.01 M637.7 50.4h0.01 M637.1 49.0h0.01 M631.5 51.1h0.01 M619.9 50.8h0.01 M642.2 49.0h0.01 M619.2 52.1h0.01 M620.3 54.5h0.01 M626.4 53.0h0.01 M632.1 50.7h0.01 M631.9 53.0h0.01 M624.1 47.3h0.01 M625.5 52.7h0.01 M618.8 55.3h0.01 M630.6 49.0h0.01 M632.0 50.5h0.01 M616.1 50.6h0.01 M613.3 53.9h0.01 M630.9 51.5h0.01 M633.2 53.0h0.01 M629.3 51.4h0.01 M637.6 52.8h0.01 M640.6 49.3h0.01 M622.5 50.1h0.01 M633.4 48.2h0.01 M626.0 52.8h0.01 M633.0 52.8h0.01 M628.0 49.3h0.01 M625.5 52.8h0.01 M605.8 52.4h0.01 M627.1 50.0h0.01 M632.9 52.5h0.01 M626.1 52.0h0.01 M628.5 53.0h0.01 M621.3 49.1h0.01 M620.7 49.6h0.01 M626.1 50.1h0.01 M627.9 51.1h0.01 M630.1 51.2h0.01 M620.3 56.3h0.01 M620.8 54.0h0.01 M626.6 52.1h0.01 M640.6 50.8h0.01 M620.5 49.8h0.01 M631.0 49.3h0.01 M631.2 50.5h0.01 M626.2 50.5h0.01 M633.4 50.1h0.01 M630.0 50.2h0.01 M620.2 51.0h0.01 M619.6 49.9h0.01 M623.2 47.7h0.01 M625.7 49.4h0.01 M629.7 53.1h0.01 M637.6 51.8h0.01 M636.2 51.1h0.01 M630.5 53.7h0.01 M623.8 51.2h0.01 M623.2 49.6h0.01 M617.8 54.4h0.01 M621.4 51.8h0.01 M630.8 49.2h0.01 M617.7 50.6h0.01 M633.7 51.2h0.01 M623.3 50.4h0.01 M630.4 49.1h0.01 M615.0 52.2h0.01 M623.1 48.8h0.01 M631.2 50.8h0.01 M621.9 49.2h0.01 M617.0 51.2h0.01 M633.8 50.9h0.01 M630.1 51.5h0.01 M621.0 48.5h0.01 M621.9 50.1h0.01 M644.3 47.7h0.01 M629.5 54.7h0.01 M631.9 52.3h0.01 M641.2 49.6h0.01 M625.4 50.7h0.01 M632.0 53.0h0.01 M637.0 51.5h0.01 M623.1 48.5h0.01 M630.3 50.1h0.01 M633.3 53.2h0.01 M630.8 51.9h0.01 M624.9 52.7h0.01 M634.2 50.4h0.01 M622.4 47.6h0.01 M632.8 53.9h0.01 M637.0 54.8h0.01 M631.4 50.2h0.01 M630.6 54.8h0.01 M627.7 51.4h0.01 M628.6 51.8h0.01 M617.1 52.5h0.01 M632.4 53.4h0.01 M632.5 50.2h0.01 M629.9 52.3h0.01 M630.6 49.5h0.01 M619.3 49.9h0.01 M612.0 52.1h0.01 M628.9 54.7h0.01 M626.4 52.7h0.01 M624.0 53.4h0.01 M631.1 52.0h0.01 M619.8 52.0h0.01 M629.5 55.1h0.01 M625.9 53.5h0.01 M628.0 52.0h0.01 M626.2 49.6h0.01 M623.3 50.1h0.01 M627.4 54.2h0.01 M616.1 52.7h0.01 M623.3 47.7h0.01 M621.6 51.5h0.01 M622.5 49.5h0.01 M627.0 51.4h0.01 M628.7 53.1h0.01 M622.2 53.9h0.01 M625.0 50.7h0.01 M628.0 51.4h0.01 M623.8 54.4h0.01 M623.5 48.2h0.01 M623.2 51.2h0.01 M637.4 48.7h0.01 M623.2 53.3h0.01 M632.6 52.2h0.01 M630.0 51.3h0.01 M633.8 52.5h0.01 M621.9 49.6h0.01 M629.7 50.8h0.01 M637.6 48.6h0.01 M618.1 54.7h0.01 M628.5 51.6h0.01 M632.5 53.3h0.01 M617.2 53.4h0.01 M611.6 50.2h0.01 M622.9 51.7h0.01 M622.1 51.7h0.01 M616.8 52.8h0.01 M637.0 48.0h0.01 M634.6 48.9h0.01 M631.0 51.6h0.01 M627.7 54.9h0.01 M623.2 53.5h0.01 M631.8 50.4h0.01 M627.9 48.5h0.01 M625.7 52.9h0.01 M631.6 49.8h0.01 M626.0 50.9h0.01 M623.6 53.3h0.01 M632.5 53.9h0.01 M630.4 52.3h0.01 M639.0 51.0h0.01 M613.3 54.0h0.01 M628.4 50.6h0.01 M628.7 51.0h0.01 M628.2 50.6h0.01" stroke="#7d8285" stroke-width="0.96" stroke-linecap="round" fill="none" opacity="0.7"/>
<path d="M621.6 51.1h0.01 M617.0 48.6h0.01 M621.1 50.9h0.01 M614.1 51.3h0.01 M617.7 50.5h0.01 M618.6 51.5h0.01 M616.4 48.7h0.01 M614.8 51.6h0.01 M615.8 51.1h0.01 M617.2 51.7h0.01 M620.5 50.6h0.01 M619.0 50.8h0.01 M614.0 52.1h0.01 M619.0 50.9h0.01 M624.0 50.8h0.01 M619.6 50.5h0.01 M611.2 49.8h0.01 M616.5 49.1h0.01 M614.6 51.5h0.01 M615.5 49.7h0.01 M622.2 52.9h0.01 M620.3 51.7h0.01 M614.6 47.0h0.01 M616.0 50.4h0.01 M619.5 50.1h0.01 M616.3 48.1h0.01 M615.4 50.3h0.01 M617.8 51.3h0.01 M614.5 51.1h0.01 M620.8 48.9h0.01 M621.1 51.8h0.01 M619.1 51.2h0.01 M613.7 50.7h0.01 M617.0 52.1h0.01 M615.9 52.2h0.01 M605.5 51.2h0.01 M621.6 49.0h0.01 M623.2 51.8h0.01 M621.9 48.4h0.01 M619.1 50.4h0.01 M624.4 51.3h0.01 M621.4 52.0h0.01 M617.8 53.3h0.01 M615.0 51.4h0.01 M617.2 51.8h0.01 M615.2 51.5h0.01 M625.2 51.4h0.01 M611.3 51.1h0.01 M616.0 51.7h0.01 M619.4 50.0h0.01 M616.6 50.2h0.01 M615.6 51.5h0.01 M613.4 53.3h0.01 M620.0 51.0h0.01 M616.1 50.2h0.01 M615.5 51.6h0.01 M615.6 50.0h0.01 M614.6 50.7h0.01 M616.8 50.0h0.01 M615.9 52.1h0.01" stroke="#F6E3C0" stroke-width="1.00" stroke-linecap="round" fill="none" opacity="0.8"/>
<path d="M624.2 54.4h0.01 M625.9 55.6h0.01 M628.8 55.2h0.01 M627.0 54.4h0.01 M629.3 53.3h0.01 M628.8 53.3h0.01 M622.6 59.3h0.01 M625.1 53.3h0.01 M628.0 58.8h0.01 M627.8 56.3h0.01 M625.8 59.0h0.01 M623.6 59.7h0.01 M622.9 57.8h0.01 M625.3 52.5h0.01 M626.2 57.5h0.01 M628.0 54.9h0.01 M628.9 60.3h0.01 M626.2 53.4h0.01 M622.8 56.8h0.01 M622.9 54.5h0.01 M629.5 55.3h0.01 M623.7 57.7h0.01 M622.9 59.9h0.01 M623.6 55.5h0.01 M622.2 57.7h0.01 M624.1 57.2h0.01 M624.8 59.2h0.01 M628.0 54.3h0.01 M619.8 58.2h0.01 M625.4 53.8h0.01 M625.9 57.4h0.01 M624.4 54.1h0.01 M622.8 56.1h0.01 M626.6 53.1h0.01 M628.9 55.0h0.01 M622.0 50.5h0.01 M627.3 51.5h0.01 M631.0 54.1h0.01 M621.6 59.2h0.01 M624.2 57.3h0.01 M625.1 56.6h0.01 M630.3 56.0h0.01 M626.7 62.6h0.01 M618.5 58.2h0.01 M626.6 56.7h0.01 M628.7 58.2h0.01 M619.9 54.3h0.01 M622.3 58.6h0.01 M623.7 55.6h0.01 M630.3 57.6h0.01 M622.8 57.3h0.01 M624.1 57.4h0.01 M624.8 53.6h0.01 M630.1 53.2h0.01 M626.9 56.6h0.01 M626.1 55.2h0.01 M622.3 57.9h0.01 M624.2 55.3h0.01 M624.8 56.4h0.01 M618.6 57.1h0.01 M625.1 53.2h0.01 M625.9 63.3h0.01 M624.1 53.7h0.01 M623.1 55.3h0.01 M623.9 55.3h0.01 M628.8 58.2h0.01 M625.6 53.4h0.01 M622.7 55.6h0.01 M620.4 58.1h0.01 M625.5 56.8h0.01 M627.6 57.3h0.01 M624.7 51.0h0.01 M622.3 57.7h0.01 M625.1 57.4h0.01 M624.7 59.6h0.01 M625.7 60.4h0.01 M624.1 53.3h0.01 M625.3 55.2h0.01 M625.7 54.3h0.01 M628.4 55.4h0.01 M622.4 54.4h0.01 M625.7 56.2h0.01 M621.2 58.1h0.01 M620.5 58.4h0.01 M622.4 55.0h0.01 M626.6 55.7h0.01 M623.2 55.2h0.01 M629.4 51.9h0.01 M627.7 52.6h0.01 M620.9 56.6h0.01 M625.5 59.5h0.01 M626.2 56.3h0.01 M625.0 57.6h0.01 M625.5 53.7h0.01 M628.2 50.3h0.01 M629.3 56.7h0.01 M623.8 60.2h0.01 M621.3 53.6h0.01 M624.1 55.2h0.01 M625.1 58.8h0.01 M624.4 58.5h0.01 M624.1 57.9h0.01 M623.2 56.9h0.01 M627.4 56.7h0.01 M624.4 56.9h0.01 M619.9 54.7h0.01 M621.8 57.7h0.01 M624.0 53.6h0.01 M622.1 57.7h0.01 M620.2 57.0h0.01 M627.6 57.1h0.01 M621.4 58.9h0.01 M624.1 56.2h0.01 M629.3 55.3h0.01 M622.8 56.0h0.01 M618.8 56.8h0.01 M626.9 54.9h0.01 M626.5 54.9h0.01 M622.3 57.9h0.01 M623.9 60.3h0.01 M620.5 55.3h0.01 M624.9 54.4h0.01 M626.7 59.4h0.01 M626.0 58.2h0.01 M623.2 58.6h0.01 M624.5 64.5h0.01 M622.3 55.8h0.01 M622.6 54.9h0.01 M626.5 56.3h0.01 M624.6 61.2h0.01 M623.9 57.2h0.01 M624.3 56.3h0.01 M628.7 57.0h0.01 M621.3 58.3h0.01 M625.7 57.7h0.01 M624.0 54.8h0.01 M625.9 54.9h0.01 M626.3 55.9h0.01 M626.6 53.9h0.01 M625.1 49.9h0.01 M626.3 53.3h0.01 M626.7 52.9h0.01 M625.2 60.5h0.01 M627.1 53.3h0.01 M624.1 58.0h0.01 M625.5 54.7h0.01 M624.1 58.5h0.01 M627.9 56.7h0.01 M621.0 59.8h0.01 M621.1 58.9h0.01 M624.2 47.7h0.01 M627.3 61.0h0.01 M625.0 58.7h0.01 M630.1 59.9h0.01 M626.4 55.6h0.01 M626.1 56.2h0.01 M629.6 58.6h0.01 M627.0 53.8h0.01 M621.3 52.0h0.01 M628.6 55.0h0.01 M625.0 57.3h0.01 M627.3 58.6h0.01 M625.3 63.8h0.01 M624.3 60.3h0.01 M620.1 55.8h0.01 M627.9 56.4h0.01 M627.2 56.7h0.01 M625.2 59.6h0.01 M627.1 54.5h0.01 M622.7 56.5h0.01 M627.3 58.2h0.01 M625.9 52.7h0.01 M628.1 57.9h0.01 M625.0 57.5h0.01 M625.9 54.7h0.01 M629.9 59.2h0.01 M622.7 57.7h0.01 M623.3 55.1h0.01 M624.7 61.0h0.01 M623.0 50.5h0.01 M624.8 56.5h0.01 M618.7 55.8h0.01 M622.1 55.1h0.01 M623.4 55.9h0.01 M628.8 55.1h0.01 M624.8 55.1h0.01 M625.3 58.1h0.01 M627.1 58.6h0.01 M626.6 60.0h0.01 M621.3 56.6h0.01 M624.2 59.0h0.01 M624.4 53.1h0.01 M625.9 56.1h0.01 M623.2 56.0h0.01 M620.5 58.2h0.01 M626.9 54.2h0.01 M628.3 57.9h0.01 M624.5 52.2h0.01 M626.6 53.5h0.01 M624.6 58.6h0.01" stroke="#D6452A" stroke-width="0.96" stroke-linecap="round" fill="none" opacity="0.8"/>
<text x="424.8" y="127.3" font-size="9.0" font-weight="normal" fill="#1a1a1a" text-anchor="start" font-style="normal"  textLength="30.4" lengthAdjust="spacingAndGlyphs">cell type</text>
<circle cx="460.6" cy="119.3" r="2.7" fill="#A3B3BA"/>
<text x="467.8" y="122.39999999999999" font-size="9.0" font-weight="normal" fill="#1a1a1a" text-anchor="start" font-style="normal"  textLength="94.7" lengthAdjust="spacingAndGlyphs">hematopoietic progenitors</text>
<circle cx="460.6" cy="127.5" r="2.7" fill="#D6452A"/>
<text x="467.8" y="130.6" font-size="9.0" font-weight="normal" fill="#1a1a1a" text-anchor="start" font-style="normal"  textLength="47.2" lengthAdjust="spacingAndGlyphs">erythroblasts</text>
<circle cx="567.2" cy="119.5" r="2.7" fill="#F6E3C0"/>
<text x="573.9" y="122.6" font-size="9.0" font-weight="normal" fill="#1a1a1a" text-anchor="start" font-style="normal"  textLength="39.4" lengthAdjust="spacingAndGlyphs">monocytes</text>
<circle cx="567.2" cy="127.4" r="2.7" fill="#E5904C"/>
<text x="573.9" y="130.5" font-size="9.0" font-weight="normal" fill="#1a1a1a" text-anchor="start" font-style="normal"  textLength="60.8" lengthAdjust="spacingAndGlyphs">immature B cells</text>
<text x="367.4" y="148.9" font-size="16" font-weight="bold" fill="#000">c</text>
<path d="M420 197.4 L420.00 196.39 L420.25 196.28 L420.50 196.33 L420.75 196.71 L421.00 195.64 L421.25 195.45 L421.50 195.21 L421.75 196.29 L422.00 195.33 L422.25 196.80 L422.50 195.46 L422.75 195.74 L423.00 195.97 L423.25 196.17 L423.50 196.44 L423.75 194.89 L424.00 194.82 L424.25 195.72 L424.50 195.74 L424.75 195.68 L425.00 194.56 L425.25 195.45 L425.50 196.89 L425.75 194.90 L426.00 195.98 L426.25 196.86 L426.50 195.10 L426.75 195.93 L427.00 196.56 L427.25 196.84 L427.50 196.90 L427.75 196.14 L428.00 195.28 L428.25 194.94 L428.50 196.59 L428.75 196.45 L429.00 196.33 L429.25 195.16 L429.50 195.33 L429.75 195.88 L430.00 195.47 L430.25 196.45 L430.50 196.67 L430.75 195.31 L431.00 195.92 L431.25 196.93 L431.50 195.18 L431.75 196.31 L432.00 195.40 L432.25 196.11 L432.50 195.14 L432.75 195.88 L433.00 194.70 L433.25 195.43 L433.50 196.60 L433.75 196.96 L434.00 195.53 L434.25 196.79 L434.50 195.88 L434.75 196.55 L435.00 194.65 L435.25 196.32 L435.50 195.90 L435.75 194.76 L436.00 196.48 L436.25 195.83 L436.50 196.88 L436.75 196.36 L437.00 194.74 L437.25 196.17 L437.50 196.18 L437.75 194.88 L438.00 196.28 L438.25 195.79 L438.50 195.97 L438.75 196.17 L439.00 196.40 L439.25 196.33 L439.50 195.89 L439.75 195.94 L440.00 195.18 L440.25 196.28 L440.50 196.28 L440.75 196.26 L441.00 196.31 L441.25 194.80 L441.50 196.96 L441.75 194.88 L442.00 196.29 L442.25 194.61 L442.50 196.90 L442.75 195.27 L443.00 195.70 L443.25 195.69 L443.50 194.60 L443.75 194.62 L444.00 194.69 L444.25 196.46 L444.50 196.27 L444.75 194.75 L445.00 195.89 L445.25 195.27 L445.50 195.74 L445.75 195.53 L446.00 195.31 L446.25 194.94 L446.50 195.82 L446.75 196.90 L447.00 196.46 L447.25 194.94 L447.50 194.59 L447.75 195.56 L448.00 195.84 L448.25 196.21 L448.50 195.52 L448.75 195.76 L449.00 195.96 L449.25 196.78 L449.50 196.26 L449.75 195.32 L450.00 196.09 L450.25 195.18 L450.50 196.23 L450.75 194.89 L451.00 195.45 L451.25 196.61 L451.50 194.67 L451.75 196.05 L452.00 194.65 L452.25 195.34 L452.50 194.52 L452.75 194.19 L453.00 193.55 L453.25 192.87 L453.50 192.16 L453.75 191.42 L454.00 190.64 L454.25 190.16 L454.50 190.96 L454.75 191.72 L455.00 192.45 L455.25 193.15 L455.50 193.81 L455.75 194.43 L456.00 195.01 L456.25 195.55 L456.50 194.77 L456.75 195.37 L457.00 196.80 L457.25 196.01 L457.50 196.83 L457.75 194.65 L458.00 196.76 L458.25 196.30 L458.50 195.34 L458.75 195.53 L459.00 196.52 L459.25 196.02 L459.50 196.03 L459.75 195.46 L460.00 196.98 L460.25 195.80 L460.50 195.44 L460.75 195.25 L461.00 195.46 L461.25 195.43 L461.50 196.17 L461.75 196.16 L462.00 195.06 L462.25 196.22 L462.50 195.37 L462.75 195.51 L463.00 194.66 L463.25 196.73 L463.50 195.50 L463.75 196.52 L464.00 195.41 L464.25 196.57 L464.50 195.58 L464.75 196.16 L465.00 196.54 L465.25 195.25 L465.50 196.07 L465.75 195.53 L466.00 195.37 L466.25 196.70 L466.50 194.85 L466.75 195.61 L467.00 195.96 L467.25 196.94 L467.50 196.84 L467.75 196.01 L468.00 195.52 L468.25 195.31 L468.50 196.04 L468.75 195.91 L469.00 195.22 L469.25 195.13 L469.50 194.81 L469.75 194.91 L470.00 196.22 L470.25 195.45 L470.50 195.73 L470.75 195.84 L471.00 194.63 L471.25 194.66 L471.50 195.63 L471.75 195.00 L472.00 196.98 L472.25 196.46 L472.50 194.90 L472.75 194.66 L473.00 194.99 L473.25 194.62 L473.50 194.76 L473.75 196.94 L474.00 196.85 L474.25 194.93 L474.50 194.56 L474.75 196.12 L475.00 196.03 L475.25 195.39 L475.50 195.99 L475.75 195.30 L476.00 196.48 L476.25 195.03 L476.50 194.81 L476.75 196.70 L477.00 194.85 L477.25 194.67 L477.50 195.14 L477.75 194.87 L478.00 196.16 L478.25 194.64 L478.50 195.57 L478.75 196.44 L479.00 194.54 L479.25 196.26 L479.50 196.53 L479.75 194.60 L480.00 196.39 L480.25 196.02 L480.50 196.44 L480.75 195.47 L481.00 196.61 L481.25 195.83 L481.50 195.96 L481.75 196.81 L482.00 196.47 L482.25 195.42 L482.50 194.80 L482.75 194.93 L483.00 196.94 L483.25 196.55 L483.50 196.00 L483.75 194.83 L484.00 196.06 L484.25 195.90 L484.50 196.14 L484.75 196.53 L485.00 196.13 L485.25 196.64 L485.50 196.26 L485.75 195.78 L486.00 194.61 L486.25 195.61 L486.50 194.55 L486.75 195.43 L487.00 194.85 L487.25 195.06 L487.50 195.27 L487.75 194.58 L488.00 194.91 L488.25 195.95 L488.50 197.00 L488.75 194.82 L489.00 196.28 L489.25 194.67 L489.50 194.75 L489.75 194.72 L490.00 195.20 L490.25 195.98 L490.50 195.74 L490.75 194.72 L491.00 194.56 L491.25 195.00 L491.50 194.93 L491.75 195.82 L492.00 194.63 L492.25 194.95 L492.50 196.64 L492.75 194.54 L493.00 196.89 L493.25 195.90 L493.50 196.90 L493.75 195.69 L494.00 196.66 L494.25 194.99 L494.50 194.65 L494.75 196.40 L495.00 195.04 L495.25 196.70 L495.50 194.99 L495.75 196.81 L496.00 195.06 L496.25 195.27 L496.50 194.58 L496.75 195.66 L497.00 196.29 L497.25 196.56 L497.50 196.25 L497.75 195.75 L498.00 196.05 L498.25 195.89 L498.50 194.52 L498.75 194.53 L499.00 196.79 L499.25 196.32 L499.50 196.08 L499.75 195.84 L500.00 196.34 L500.25 196.07 L500.50 196.20 L500.75 194.86 L501.00 195.00 L501.25 195.65 L501.50 195.49 L501.75 195.92 L502.00 196.50 L502.25 195.03 L502.50 196.56 L502.75 196.79 L503.00 195.48 L503.25 195.63 L503.50 196.52 L503.75 196.52 L504.00 195.32 L504.25 194.89 L504.50 195.97 L504.75 196.24 L505.00 195.79 L505.25 196.53 L505.50 195.88 L505.75 195.40 L506.00 196.08 L506.25 196.47 L506.50 196.89 L506.75 194.81 L507.00 196.36 L507.25 194.51 L507.50 195.45 L507.75 195.69 L508.00 195.67 L508.25 196.29 L508.50 194.86 L508.75 195.36 L509.00 195.56 L509.25 196.65 L509.50 196.66 L509.75 195.34 L510.00 196.67 L510.25 196.20 L510.50 196.26 L510.75 194.71 L511.00 196.85 L511.25 195.62 L511.50 194.62 L511.75 195.71 L512.00 194.89 L512.25 195.48 L512.50 195.63 L512.75 196.06 L513.00 196.29 L513.25 194.64 L513.50 195.63 L513.75 195.94 L514.00 195.74 L514.25 195.05 L514.50 195.23 L514.75 196.03 L515.00 195.01 L515.25 195.05 L515.50 195.60 L515.75 194.53 L516.00 196.13 L516.25 196.77 L516.50 195.45 L516.75 195.36 L517.00 194.58 L517.25 195.21 L517.50 195.44 L517.75 196.51 L518.00 195.77 L518.25 196.56 L518.50 196.12 L518.75 196.40 L519.00 195.14 L519.25 194.66 L519.50 194.58 L519.75 196.29 L520.00 195.08 L520.25 195.33 L520.50 195.27 L520.75 196.46 L521.00 195.19 L521.25 196.47 L521.50 195.43 L521.75 195.81 L522.00 195.19 L522.25 196.12 L522.50 194.87 L522.75 196.35 L523.00 195.39 L523.25 196.29 L523.50 195.90 L523.75 194.87 L524.00 196.13 L524.25 194.90 L524.50 196.51 L524.75 196.53 L525.00 196.78 L525.25 196.45 L525.50 195.73 L525.75 197.00 L526.00 196.22 L526.25 196.13 L526.50 195.11 L526.75 195.88 L527.00 195.22 L527.25 195.16 L527.50 195.75 L527.75 195.54 L528.00 195.57 L528.25 196.87 L528.50 195.85 L528.75 194.62 L529.00 195.59 L529.25 195.75 L529.50 196.75 L529.75 196.61 L530.00 195.41 L530.25 196.28 L530.50 195.62 L530.75 196.57 L531.00 194.74 L531.25 194.94 L531.50 196.62 L531.75 196.45 L532.00 196.18 L532.25 194.62 L532.50 196.47 L532.75 195.42 L533.00 194.76 L533.25 194.73 L533.50 196.49 L533.75 194.76 L534.00 195.26 L534.25 196.38 L534.50 195.27 L534.75 194.67 L535.00 196.68 L535.25 196.55 L535.50 194.58 L535.75 194.68 L536.00 196.54 L536.25 195.02 L536.50 195.42 L536.75 194.97 L537.00 194.53 L537.25 195.98 L537.50 195.79 L537.75 194.57 L538.00 196.79 L538.25 195.57 L538.50 195.11 L538.75 196.32 L539.00 196.37 L539.25 195.16 L539.50 195.00 L539.75 196.72 L540.00 195.07 L540.25 194.97 L540.50 195.04 L540.75 195.42 L541.00 197.00 L541.25 195.31 L541.50 195.79 L541.75 196.43 L542.00 196.89 L542.25 196.56 L542.50 196.04 L542.75 194.87 L543.00 196.04 L543.25 195.47 L543.50 195.04 L543.75 195.69 L544.00 196.90 L544.25 196.30 L544.50 195.68 L544.75 195.09 L545.00 196.53 L545.25 195.06 L545.50 194.87 L545.75 195.52 L546.00 195.90 L546.25 195.14 L546.50 196.05 L546.75 196.88 L547.00 195.88 L547.25 196.30 L547.50 196.10 L547.75 196.98 L548.00 194.79 L548.25 195.61 L548.50 196.98 L548.75 195.58 L549.00 194.90 L549.25 196.47 L549.50 196.79 L549.75 196.88 L550.00 196.27 L550.25 194.89 L550.50 196.51 L550.75 195.64 L551.00 196.91 L551.25 194.75 L551.50 195.49 L551.75 195.81 L552.00 196.41 L552.25 195.59 L552.50 196.49 L552.75 196.26 L553.00 196.54 L553.25 195.42 L553.50 195.60 L553.75 195.02 L554.00 196.25 L554.25 195.01 L554.50 195.57 L554.75 196.90 L555.00 194.92 L555.25 195.63 L555.50 194.50 L555.75 196.25 L556.00 195.98 L556.25 194.58 L556.50 195.53 L556.75 195.63 L557.00 194.57 L557.25 196.91 L557.50 196.81 L557.75 196.07 L558.00 196.57 L558.25 196.04 L558.50 194.73 L558.75 194.75 L559.00 196.59 L559.25 194.83 L559.50 194.57 L559.75 196.72 L560.00 195.49 L560.25 194.52 L560.50 195.37 L560.75 194.73 L561.00 196.25 L561.25 194.60 L561.50 196.81 L561.75 196.70 L562.00 196.69 L562.25 196.58 L562.50 195.52 L562.75 195.31 L563.00 195.33 L563.25 195.15 L563.50 195.87 L563.75 194.56 L564.00 196.16 L564.25 196.21 L564.50 195.56 L564.75 196.57 L565.00 195.12 L565.25 195.03 L565.50 196.96 L565.75 196.27 L566.00 195.42 L566.25 196.92 L566.50 196.33 L566.75 196.60 L567.00 195.62 L567.25 194.59 L567.50 194.98 L567.75 196.99 L568.00 196.56 L568.25 195.28 L568.50 196.21 L568.75 194.80 L569.00 195.34 L569.25 196.29 L569.50 196.68 L569.75 195.15 L570.00 196.72 L570.25 194.67 L570.50 196.42 L570.75 196.84 L571.00 194.69 L571.25 196.58 L571.50 196.66 L571.75 194.90 L572.00 194.58 L572.25 195.88 L572.50 196.11 L572.75 196.46 L573.00 196.13 L573.25 196.93 L573.50 196.38 L573.75 194.77 L574.00 195.62 L574.25 196.66 L574.50 196.58 L574.75 194.59 L575.00 196.33 L575.25 196.39 L575.50 194.99 L575.75 196.95 L576.00 195.39 L576.25 196.04 L576.50 196.23 L576.75 196.32 L577.00 195.10 L577.25 194.82 L577.50 195.90 L577.75 196.88 L578.00 195.25 L578.25 196.72 L578.50 195.60 L578.75 194.55 L579.00 196.32 L579.25 195.30 L579.50 194.70 L579.75 194.63 L580.00 195.05 L580.25 196.57 L580.50 195.73 L580.75 196.62 L581.00 195.93 L581.25 196.62 L581.50 195.71 L581.75 195.02 L582.00 196.14 L582.25 195.53 L582.50 194.72 L582.75 194.78 L583.00 195.55 L583.25 195.30 L583.50 196.19 L583.75 195.97 L584.00 195.05 L584.25 194.80 L584.50 196.13 L584.75 196.13 L585.00 195.71 L585.25 196.95 L585.50 196.98 L585.75 196.34 L586.00 196.39 L586.25 195.29 L586.50 195.90 L586.75 195.80 L587.00 196.55 L587.25 195.34 L587.50 195.85 L587.75 195.64 L588.00 196.10 L588.25 196.69 L588.50 196.17 L588.75 196.51 L589.00 195.24 L589.25 195.68 L589.50 195.77 L589.75 195.79 L590.00 195.09 L590.25 195.11 L590.50 194.72 L590.75 194.96 L591.00 195.60 L591.25 195.20 L591.50 196.78 L591.75 196.47 L592.00 194.84 L592.25 196.31 L592.50 194.85 L592.75 195.43 L593.00 195.41 L593.25 194.73 L593.50 195.16 L593.75 194.83 L594.00 194.85 L594.25 196.66 L594.50 196.04 L594.75 195.83 L595.00 194.88 L595.25 195.65 L595.50 196.81 L595.75 196.37 L596.00 196.18 L596.25 196.88 L596.50 195.69 L596.75 196.33 L597.00 196.76 L597.25 195.87 L597.50 194.62 L597.75 195.84 L598.00 196.16 L598.25 196.48 L598.50 196.31 L598.75 196.04 L599.00 195.38 L599.25 196.82 L599.50 194.68 L599.75 195.82 L600.00 195.16 L600.25 195.90 L600.50 194.82 L600.75 195.02 L601.00 195.88 L601.25 196.22 L601.50 196.77 L601.75 195.74 L602.00 195.81 L602.25 195.23 L602.50 195.48 L602.75 196.33 L603.00 196.98 L603.25 196.50 L603.50 195.86 L603.75 196.98 L604.00 195.91 L604.25 195.62 L604.50 195.06 L604.75 196.49 L605.00 194.67 L605.25 196.12 L605.50 195.77 L605.75 195.21 L606.00 195.56 L606.25 196.85 L606.50 195.10 L606.75 195.39 L607.00 196.07 L607.25 196.39 L607.50 194.54 L607.75 196.05 L608.00 196.68 L608.25 195.50 L608.50 195.20 L608.75 196.53 L609.00 196.39 L609.25 196.64 L609.50 196.37 L609.75 194.57 L610.00 196.98 L610.25 196.12 L610.50 196.28 L610.75 194.62 L611.00 196.32 L611.25 196.83 L611.50 195.87 L611.75 195.12 L612.00 195.78 L612.25 195.44 L612.50 195.88 L612.75 194.78 L613.00 195.73 L613.25 196.94 L613.50 196.51 L613.75 195.50 L614.00 196.97 L614.25 196.86 L614.50 195.68 L614.75 194.74 L615.00 195.22 L615.25 195.66 L615.50 194.65 L615.75 195.18 L616.00 195.47 L616.25 195.59 L616.50 195.93 L616.75 196.04 L617.00 196.19 L617.25 195.38 L617.50 195.56 L617.75 195.29 L618.00 195.21 L618.25 196.06 L618.50 196.61 L618.75 196.13 L619.00 195.63 L619.25 195.68 L619.50 196.45 L619.75 196.01 L620.00 195.75 L620.25 194.56 L620.50 196.61 L620.75 196.17 L621.00 194.83 L621.25 196.51 L621.50 195.69 L621.75 195.63 L622.00 194.91 L622.25 194.70 L622.50 195.55 L622.75 194.71 L623.00 195.97 L623.25 195.29 L623.50 194.03 L623.75 193.58 L624.00 192.63 L624.25 192.50 L624.50 191.84 L624.75 189.94 L625.00 192.11 L625.25 190.17 L625.50 189.09 L625.75 186.94 L626.00 183.93 L626.25 180.49 L626.50 176.59 L626.75 172.23 L627.00 167.40 L627.25 162.08 L627.50 156.27 L627.75 157.47 L628.00 163.18 L628.25 168.40 L628.50 173.14 L628.75 177.41 L629.00 181.21 L629.25 184.57 L629.50 187.50 L629.75 188.60 L630.00 186.90 L630.25 185.10 L630.50 183.19 L630.75 183.58 L631.00 185.47 L631.25 187.25 L631.50 188.92 L631.75 186.96 L632.00 184.10 L632.25 180.84 L632.50 177.17 L632.75 173.08 L633.00 168.57 L633.25 163.61 L633.50 158.20 L633.75 163.61 L634.00 168.57 L634.25 173.08 L634.50 177.17 L634.75 180.84 L635.00 184.10 L635.25 186.96 L635.50 189.44 L635.75 191.39 L636.00 189.82 L636.25 189.72 L636.50 190.51 L636.75 189.58 L637.00 191.75 L637.25 192.43 L637.50 190.77 L637.75 191.57 L638.00 193.92 L638.25 194.48 L638.50 194.69 L638.75 195.03 L639.00 195.73 L639.25 194.81 L639.50 196.01 L639.75 195.93 L640.00 196.09 L640.25 196.35 L640.50 195.77 L640.75 195.52 L641.00 195.33 L641.25 196.03 L641.50 196.80 L641.75 195.01 L642.00 195.72 L642.25 196.97 L642.50 195.24 L642.75 195.10 L643.00 195.78 L643.25 196.30 L643.50 196.03 L643.75 194.67 L644.00 195.70 L644.25 195.74 L644.50 194.60 L644.75 196.18 L645.00 196.52 L645.25 195.20 L645.50 195.64 L645.75 196.38 L646.00 194.59 L646.25 195.20 L646.50 196.83 L646.75 195.43 L647.00 196.78 L647.25 196.58 L647.50 195.80 L647.75 194.83 L648.00 196.80 L648.25 196.77 L648.50 195.16 L648.75 196.70 L649.00 195.90 L649.25 194.95 L649.50 196.48 L649.75 195.72 L650.00 196.81 L650.25 196.27 L650.50 196.50 L650.75 196.27 L651.00 196.07 L651.25 196.54 L651.50 195.02 L651.75 195.46 L652.00 196.77 L652.25 195.32 L652.50 196.56 L652.75 196.65 L653.00 194.89 L653.25 195.34 L653.50 196.71 L653.75 194.57 L654.00 196.47 L654.25 196.83 L654.50 195.66 L654.75 196.54 L655.00 195.87 L655.25 196.20 L655.50 194.82 L655.75 196.28 L656.00 195.77 L656.25 194.93 L656.50 195.22 L656.75 195.17 L657.00 195.94 L657.25 196.06 L657.50 195.36 L657.75 195.25 L658.00 196.36 L658.25 195.37 L658.50 196.90 L658.75 196.78 L659.00 196.10 L659.25 196.90 L659.50 196.73 L659.75 195.79 L660.00 195.46 L660.25 196.43 L660.50 196.93 L660.75 196.19 L661.00 196.73 L661.25 194.89 L661.50 195.29 L661.75 196.68 L662.00 195.89 L662.25 196.38 L662.50 196.33 L662.75 195.19 L663.00 194.95 L663.25 194.96 L663.50 195.09 L663.75 195.78 L664.00 195.07 L664 197.4 Z" fill="#F8857A"/>
<path d="M423.5 197.4 V192.5 M645.5 197.4 V189" stroke="#F8857A" stroke-width="0.8"/>
<path d="M420 243.2 L420.00 240.71 L420.25 240.17 L420.50 242.00 L420.75 240.41 L421.00 240.90 L421.25 241.26 L421.50 241.05 L421.75 242.68 L422.00 242.45 L422.25 240.51 L422.50 241.95 L422.75 240.65 L423.00 242.52 L423.25 240.18 L423.50 242.45 L423.75 241.29 L424.00 240.75 L424.25 240.26 L424.50 240.18 L424.75 240.32 L425.00 241.29 L425.25 240.66 L425.50 242.14 L425.75 240.99 L426.00 240.65 L426.25 241.86 L426.50 241.33 L426.75 240.20 L427.00 240.24 L427.25 241.35 L427.50 240.15 L427.75 240.59 L428.00 240.52 L428.25 240.45 L428.50 240.14 L428.75 240.51 L429.00 242.06 L429.25 240.15 L429.50 241.88 L429.75 242.33 L430.00 241.48 L430.25 242.07 L430.50 241.34 L430.75 241.85 L431.00 242.26 L431.25 241.95 L431.50 240.85 L431.75 241.03 L432.00 240.29 L432.25 241.69 L432.50 241.45 L432.75 242.22 L433.00 240.75 L433.25 240.58 L433.50 240.53 L433.75 241.30 L434.00 241.16 L434.25 242.27 L434.50 242.22 L434.75 240.79 L435.00 242.50 L435.25 240.43 L435.50 242.18 L435.75 241.69 L436.00 241.66 L436.25 241.10 L436.50 242.63 L436.75 241.60 L437.00 240.22 L437.25 241.71 L437.50 242.02 L437.75 241.96 L438.00 241.83 L438.25 241.41 L438.50 242.42 L438.75 240.02 L439.00 242.65 L439.25 241.30 L439.50 241.55 L439.75 240.81 L440.00 240.79 L440.25 241.49 L440.50 241.73 L440.75 240.03 L441.00 240.00 L441.25 241.03 L441.50 240.71 L441.75 240.01 L442.00 240.76 L442.25 242.67 L442.50 240.46 L442.75 242.14 L443.00 240.14 L443.25 242.43 L443.50 241.32 L443.75 241.79 L444.00 240.38 L444.25 240.88 L444.50 240.47 L444.75 242.46 L445.00 241.77 L445.25 240.03 L445.50 240.40 L445.75 241.94 L446.00 241.15 L446.25 242.61 L446.50 241.58 L446.75 242.54 L447.00 240.92 L447.25 241.13 L447.50 241.20 L447.75 240.28 L448.00 241.46 L448.25 241.95 L448.50 240.72 L448.75 242.05 L449.00 240.10 L449.25 242.60 L449.50 242.07 L449.75 241.11 L450.00 241.47 L450.25 241.50 L450.50 240.78 L450.75 242.44 L451.00 241.03 L451.25 242.46 L451.50 241.27 L451.75 242.43 L452.00 240.45 L452.25 241.56 L452.50 241.82 L452.75 240.96 L453.00 240.42 L453.25 241.05 L453.50 241.56 L453.75 240.56 L454.00 240.33 L454.25 240.68 L454.50 241.79 L454.75 241.00 L455.00 240.80 L455.25 242.68 L455.50 240.41 L455.75 240.79 L456.00 240.00 L456.25 241.98 L456.50 240.89 L456.75 240.27 L457.00 240.14 L457.25 242.67 L457.50 241.69 L457.75 242.51 L458.00 240.89 L458.25 241.35 L458.50 240.82 L458.75 242.16 L459.00 240.84 L459.25 241.50 L459.50 242.52 L459.75 241.55 L460.00 241.09 L460.25 240.88 L460.50 240.39 L460.75 242.59 L461.00 242.41 L461.25 241.26 L461.50 242.01 L461.75 240.62 L462.00 240.26 L462.25 241.92 L462.50 240.13 L462.75 242.63 L463.00 240.98 L463.25 240.80 L463.50 240.26 L463.75 241.24 L464.00 242.08 L464.25 241.35 L464.50 240.87 L464.75 240.79 L465.00 242.01 L465.25 241.85 L465.50 242.28 L465.75 241.81 L466.00 241.35 L466.25 240.00 L466.50 240.11 L466.75 241.00 L467.00 240.43 L467.25 240.91 L467.50 241.32 L467.75 241.84 L468.00 240.94 L468.25 240.09 L468.50 240.67 L468.75 242.25 L469.00 240.40 L469.25 240.37 L469.50 241.93 L469.75 241.11 L470.00 242.31 L470.25 241.64 L470.50 241.83 L470.75 242.53 L471.00 240.93 L471.25 240.97 L471.50 241.34 L471.75 240.73 L472.00 241.31 L472.25 241.51 L472.50 240.46 L472.75 241.63 L473.00 240.64 L473.25 240.94 L473.50 242.12 L473.75 241.81 L474.00 241.48 L474.25 241.12 L474.50 241.53 L474.75 241.33 L475.00 241.51 L475.25 241.34 L475.50 240.35 L475.75 242.37 L476.00 240.89 L476.25 241.51 L476.50 240.01 L476.75 241.94 L477.00 241.59 L477.25 240.19 L477.50 241.51 L477.75 241.81 L478.00 241.55 L478.25 240.32 L478.50 240.18 L478.75 241.89 L479.00 242.36 L479.25 242.23 L479.50 241.53 L479.75 241.73 L480.00 240.27 L480.25 241.62 L480.50 240.14 L480.75 242.15 L481.00 240.88 L481.25 241.18 L481.50 242.03 L481.75 241.52 L482.00 240.79 L482.25 240.56 L482.50 241.30 L482.75 241.72 L483.00 242.44 L483.25 240.92 L483.50 240.64 L483.75 242.54 L484.00 240.25 L484.25 241.96 L484.50 240.62 L484.75 241.38 L485.00 241.49 L485.25 241.67 L485.50 240.26 L485.75 242.33 L486.00 240.86 L486.25 240.26 L486.50 242.58 L486.75 241.69 L487.00 242.69 L487.25 241.04 L487.50 240.83 L487.75 240.61 L488.00 241.24 L488.25 241.72 L488.50 241.08 L488.75 241.42 L489.00 241.14 L489.25 242.60 L489.50 241.03 L489.75 240.74 L490.00 241.56 L490.25 242.29 L490.50 242.05 L490.75 242.65 L491.00 241.60 L491.25 242.23 L491.50 240.97 L491.75 240.48 L492.00 241.19 L492.25 241.42 L492.50 241.34 L492.75 242.01 L493.00 240.87 L493.25 240.35 L493.50 240.58 L493.75 240.87 L494.00 241.95 L494.25 240.88 L494.50 240.38 L494.75 242.04 L495.00 242.10 L495.25 240.57 L495.50 240.91 L495.75 242.38 L496.00 241.84 L496.25 241.73 L496.50 242.68 L496.75 240.11 L497.00 241.61 L497.25 240.92 L497.50 242.06 L497.75 241.79 L498.00 240.44 L498.25 240.87 L498.50 240.86 L498.75 241.19 L499.00 240.39 L499.25 242.66 L499.50 240.37 L499.75 240.44 L500.00 240.48 L500.25 242.51 L500.50 240.85 L500.75 240.18 L501.00 242.19 L501.25 240.95 L501.50 242.41 L501.75 242.51 L502.00 242.33 L502.25 240.07 L502.50 240.13 L502.75 242.67 L503.00 242.14 L503.25 241.52 L503.50 242.04 L503.75 242.09 L504.00 242.49 L504.25 241.64 L504.50 241.06 L504.75 241.20 L505.00 242.28 L505.25 241.14 L505.50 240.81 L505.75 241.61 L506.00 240.42 L506.25 240.17 L506.50 242.13 L506.75 241.30 L507.00 242.39 L507.25 240.69 L507.50 241.71 L507.75 241.05 L508.00 242.26 L508.25 242.09 L508.50 241.77 L508.75 240.44 L509.00 240.63 L509.25 242.54 L509.50 240.69 L509.75 242.25 L510.00 240.46 L510.25 242.30 L510.50 242.20 L510.75 241.01 L511.00 242.27 L511.25 241.97 L511.50 241.79 L511.75 241.28 L512.00 241.00 L512.25 242.01 L512.50 242.13 L512.75 240.54 L513.00 240.14 L513.25 240.78 L513.50 240.14 L513.75 241.73 L514.00 241.73 L514.25 242.29 L514.50 242.11 L514.75 240.66 L515.00 240.74 L515.25 242.53 L515.50 240.31 L515.75 240.07 L516.00 240.42 L516.25 240.97 L516.50 242.68 L516.75 242.36 L517.00 242.48 L517.25 242.41 L517.50 241.44 L517.75 242.60 L518.00 242.16 L518.25 242.42 L518.50 240.91 L518.75 241.69 L519.00 240.44 L519.25 241.98 L519.50 240.59 L519.75 242.14 L520.00 242.33 L520.25 241.01 L520.50 241.94 L520.75 240.70 L521.00 241.05 L521.25 242.47 L521.50 240.22 L521.75 240.11 L522.00 241.78 L522.25 240.89 L522.50 242.05 L522.75 241.80 L523.00 240.21 L523.25 241.55 L523.50 241.93 L523.75 240.59 L524.00 240.09 L524.25 242.01 L524.50 241.80 L524.75 242.32 L525.00 240.31 L525.25 241.80 L525.50 240.10 L525.75 240.52 L526.00 240.67 L526.25 241.66 L526.50 240.85 L526.75 242.59 L527.00 242.08 L527.25 240.09 L527.50 241.35 L527.75 242.53 L528.00 241.15 L528.25 241.93 L528.50 240.91 L528.75 240.44 L529.00 240.35 L529.25 242.45 L529.50 240.10 L529.75 240.59 L530.00 242.62 L530.25 241.04 L530.50 242.09 L530.75 241.22 L531.00 242.42 L531.25 240.49 L531.50 240.34 L531.75 241.65 L532.00 242.08 L532.25 240.51 L532.50 241.07 L532.75 240.41 L533.00 241.37 L533.25 242.54 L533.50 241.83 L533.75 241.69 L534.00 241.61 L534.25 242.51 L534.50 241.49 L534.75 240.47 L535.00 242.39 L535.25 240.38 L535.50 241.53 L535.75 241.56 L536.00 241.17 L536.25 240.26 L536.50 242.39 L536.75 240.06 L537.00 241.99 L537.25 242.44 L537.50 242.14 L537.75 242.34 L538.00 240.97 L538.25 240.29 L538.50 242.60 L538.75 240.36 L539.00 241.25 L539.25 241.82 L539.50 242.56 L539.75 240.98 L540.00 241.58 L540.25 241.78 L540.50 242.25 L540.75 241.06 L541.00 242.67 L541.25 240.59 L541.50 242.59 L541.75 240.45 L542.00 240.19 L542.25 242.67 L542.50 240.74 L542.75 241.82 L543.00 241.50 L543.25 241.27 L543.50 242.61 L543.75 240.16 L544.00 242.10 L544.25 240.01 L544.50 242.44 L544.75 241.40 L545.00 242.60 L545.25 240.16 L545.50 240.66 L545.75 242.32 L546.00 240.77 L546.25 241.44 L546.50 240.41 L546.75 240.64 L547.00 240.36 L547.25 241.96 L547.50 241.95 L547.75 241.88 L548.00 241.56 L548.25 242.29 L548.50 241.80 L548.75 242.11 L549.00 241.80 L549.25 240.60 L549.50 240.01 L549.75 241.42 L550.00 242.47 L550.25 240.40 L550.50 241.18 L550.75 241.90 L551.00 241.55 L551.25 241.60 L551.50 242.58 L551.75 241.43 L552.00 242.30 L552.25 241.47 L552.50 241.37 L552.75 242.65 L553.00 242.47 L553.25 240.44 L553.50 240.68 L553.75 241.41 L554.00 240.51 L554.25 241.49 L554.50 241.04 L554.75 240.17 L555.00 240.78 L555.25 241.69 L555.50 241.01 L555.75 240.63 L556.00 240.26 L556.25 242.54 L556.50 241.59 L556.75 240.40 L557.00 242.44 L557.25 240.05 L557.50 240.85 L557.75 240.03 L558.00 240.36 L558.25 241.34 L558.50 241.68 L558.75 240.13 L559.00 241.59 L559.25 241.97 L559.50 242.32 L559.75 241.05 L560.00 240.39 L560.25 240.23 L560.50 240.93 L560.75 240.89 L561.00 240.85 L561.25 240.42 L561.50 240.90 L561.75 241.18 L562.00 241.44 L562.25 241.51 L562.50 242.28 L562.75 241.99 L563.00 240.38 L563.25 240.25 L563.50 240.66 L563.75 242.38 L564.00 240.94 L564.25 242.62 L564.50 242.47 L564.75 240.20 L565.00 240.63 L565.25 242.46 L565.50 240.43 L565.75 240.18 L566.00 241.22 L566.25 241.20 L566.50 241.82 L566.75 241.13 L567.00 241.35 L567.25 240.27 L567.50 241.42 L567.75 240.33 L568.00 240.82 L568.25 241.08 L568.50 241.10 L568.75 242.68 L569.00 240.97 L569.25 240.08 L569.50 242.52 L569.75 240.73 L570.00 242.20 L570.25 240.71 L570.50 240.87 L570.75 242.41 L571.00 240.77 L571.25 241.25 L571.50 240.71 L571.75 240.89 L572.00 242.31 L572.25 240.35 L572.50 242.35 L572.75 240.92 L573.00 240.51 L573.25 240.66 L573.50 240.16 L573.75 241.86 L574.00 240.07 L574.25 241.72 L574.50 241.65 L574.75 240.76 L575.00 241.93 L575.25 242.21 L575.50 242.10 L575.75 240.36 L576.00 240.55 L576.25 240.17 L576.50 241.75 L576.75 241.72 L577.00 242.09 L577.25 242.26 L577.50 241.59 L577.75 242.62 L578.00 242.21 L578.25 240.07 L578.50 242.08 L578.75 241.38 L579.00 240.28 L579.25 240.60 L579.50 240.64 L579.75 241.87 L580.00 242.47 L580.25 241.88 L580.50 240.14 L580.75 240.36 L581.00 240.74 L581.25 240.47 L581.50 242.50 L581.75 241.84 L582.00 242.14 L582.25 240.12 L582.50 240.39 L582.75 242.55 L583.00 242.55 L583.25 240.18 L583.50 241.67 L583.75 242.15 L584.00 240.58 L584.25 241.85 L584.50 241.36 L584.75 241.19 L585.00 240.66 L585.25 242.30 L585.50 242.30 L585.75 240.71 L586.00 241.73 L586.25 240.98 L586.50 240.48 L586.75 240.85 L587.00 241.45 L587.25 241.57 L587.50 240.05 L587.75 242.32 L588.00 241.87 L588.25 242.00 L588.50 242.42 L588.75 241.73 L589.00 241.96 L589.25 242.41 L589.50 240.05 L589.75 241.73 L590.00 242.49 L590.25 240.31 L590.50 241.44 L590.75 240.85 L591.00 240.88 L591.25 241.86 L591.50 240.88 L591.75 241.97 L592.00 240.01 L592.25 240.11 L592.50 240.47 L592.75 240.07 L593.00 241.70 L593.25 240.45 L593.50 242.28 L593.75 240.39 L594.00 240.89 L594.25 241.76 L594.50 241.38 L594.75 242.68 L595.00 240.50 L595.25 240.96 L595.50 240.14 L595.75 241.42 L596.00 241.74 L596.25 242.58 L596.50 242.55 L596.75 240.17 L597.00 240.49 L597.25 240.80 L597.50 242.43 L597.75 240.77 L598.00 242.36 L598.25 240.47 L598.50 242.06 L598.75 241.25 L599.00 240.56 L599.25 242.37 L599.50 242.48 L599.75 241.72 L600.00 242.46 L600.25 240.83 L600.50 241.48 L600.75 241.39 L601.00 240.18 L601.25 241.07 L601.50 240.25 L601.75 242.17 L602.00 240.83 L602.25 242.15 L602.50 241.03 L602.75 241.24 L603.00 241.22 L603.25 241.43 L603.50 242.30 L603.75 240.48 L604.00 240.94 L604.25 240.64 L604.50 242.61 L604.75 242.16 L605.00 240.19 L605.25 241.03 L605.50 242.43 L605.75 240.32 L606.00 240.17 L606.25 240.87 L606.50 241.40 L606.75 241.80 L607.00 242.49 L607.25 241.72 L607.50 240.01 L607.75 241.04 L608.00 241.81 L608.25 241.49 L608.50 241.22 L608.75 242.25 L609.00 240.05 L609.25 241.77 L609.50 240.19 L609.75 241.53 L610.00 241.70 L610.25 241.34 L610.50 241.20 L610.75 242.54 L611.00 240.63 L611.25 240.13 L611.50 241.19 L611.75 242.51 L612.00 242.54 L612.25 240.48 L612.50 242.67 L612.75 241.46 L613.00 240.40 L613.25 241.50 L613.50 241.96 L613.75 241.29 L614.00 241.04 L614.25 241.96 L614.50 240.28 L614.75 242.53 L615.00 242.40 L615.25 241.14 L615.50 241.47 L615.75 240.52 L616.00 242.13 L616.25 240.91 L616.50 241.63 L616.75 241.98 L617.00 241.12 L617.25 240.42 L617.50 240.93 L617.75 242.28 L618.00 240.31 L618.25 240.93 L618.50 240.50 L618.75 241.89 L619.00 241.22 L619.25 242.69 L619.50 240.82 L619.75 241.05 L620.00 241.47 L620.25 241.56 L620.50 241.04 L620.75 240.50 L621.00 242.18 L621.25 240.08 L621.50 241.72 L621.75 241.22 L622.00 241.49 L622.25 240.57 L622.50 241.31 L622.75 241.85 L623.00 242.52 L623.25 240.23 L623.50 241.26 L623.75 240.18 L624.00 239.78 L624.25 240.35 L624.50 239.04 L624.75 237.46 L625.00 237.25 L625.25 237.25 L625.50 235.96 L625.75 233.44 L626.00 230.49 L626.25 227.08 L626.50 223.21 L626.75 218.87 L627.00 214.03 L627.25 208.70 L627.50 202.85 L627.75 199.09 L628.00 205.25 L628.25 210.89 L628.50 216.03 L628.75 220.66 L629.00 224.82 L629.25 228.50 L629.50 231.72 L629.75 233.81 L630.00 232.00 L630.25 230.08 L630.50 228.04 L630.75 228.46 L631.00 230.47 L631.25 232.37 L631.50 234.16 L631.75 232.02 L632.00 228.95 L632.25 225.46 L632.50 221.53 L632.75 217.15 L633.00 212.31 L633.25 206.99 L633.50 201.20 L633.75 206.99 L634.00 212.31 L634.25 217.15 L634.50 221.53 L634.75 225.46 L635.00 228.95 L635.25 232.02 L635.50 234.67 L635.75 236.93 L636.00 238.08 L636.25 237.19 L636.50 236.14 L636.75 235.27 L637.00 237.82 L637.25 237.87 L637.50 237.19 L637.75 238.40 L638.00 238.80 L638.25 240.70 L638.50 240.12 L638.75 241.56 L639.00 241.92 L639.25 240.87 L639.50 242.59 L639.75 241.97 L640.00 241.75 L640.25 240.20 L640.50 241.80 L640.75 240.43 L641.00 240.72 L641.25 240.77 L641.50 241.63 L641.75 240.83 L642.00 240.43 L642.25 240.28 L642.50 241.74 L642.75 241.33 L643.00 240.85 L643.25 241.60 L643.50 242.68 L643.75 241.20 L644.00 241.05 L644.25 240.32 L644.50 240.47 L644.75 241.60 L645.00 240.21 L645.25 240.46 L645.50 242.23 L645.75 242.20 L646.00 240.14 L646.25 242.28 L646.50 241.38 L646.75 241.76 L647.00 241.52 L647.25 240.00 L647.50 242.32 L647.75 241.03 L648.00 240.30 L648.25 241.22 L648.50 241.94 L648.75 240.67 L649.00 240.22 L649.25 241.99 L649.50 240.43 L649.75 240.09 L650.00 242.10 L650.25 241.22 L650.50 240.27 L650.75 242.47 L651.00 240.25 L651.25 240.43 L651.50 242.15 L651.75 241.77 L652.00 241.04 L652.25 240.71 L652.50 240.16 L652.75 241.83 L653.00 240.64 L653.25 241.51 L653.50 241.65 L653.75 240.06 L654.00 242.69 L654.25 241.61 L654.50 241.53 L654.75 240.82 L655.00 242.50 L655.25 240.53 L655.50 240.94 L655.75 242.50 L656.00 241.10 L656.25 242.46 L656.50 242.26 L656.75 242.49 L657.00 241.78 L657.25 241.22 L657.50 240.86 L657.75 240.17 L658.00 240.81 L658.25 240.95 L658.50 240.43 L658.75 242.70 L659.00 242.15 L659.25 241.19 L659.50 242.43 L659.75 241.28 L660.00 242.60 L660.25 241.57 L660.50 240.84 L660.75 240.14 L661.00 242.48 L661.25 240.89 L661.50 240.74 L661.75 241.93 L662.00 241.33 L662.25 240.91 L662.50 240.16 L662.75 242.62 L663.00 240.29 L663.25 242.25 L663.50 241.64 L663.75 240.89 L664.00 240.88 L664 243.2 Z" fill="#10B9BF"/>
<path d="M618.3 243.2 V233.0" stroke="#10B9BF" stroke-width="0.8"/>
<line x1="419.5" y1="197.5" x2="664.5" y2="197.5" stroke="#8c8c8c" stroke-width="0.8"/>
<path d="M419.5 150.6 H664.5 V243.5 H419.5 Z" stroke="#a0a0a0" stroke-width="0.9" fill="none"/>
<line x1="419.5" y1="243.4" x2="664.5" y2="243.4" stroke="#555" stroke-width="0.8"/>
<text x="421.3" y="160.7" font-size="9.0" font-weight="normal" fill="#333" text-anchor="start" font-style="normal"  textLength="25.9" lengthAdjust="spacingAndGlyphs">[0-178]</text>
<text x="421.3" y="206.7" font-size="9.0" font-weight="normal" fill="#333" text-anchor="start" font-style="normal"  textLength="25.9" lengthAdjust="spacingAndGlyphs">[0-178]</text>
<text x="386.0" y="176.3" font-size="8.6" font-weight="bold" fill="#111" text-anchor="start" font-style="normal"  textLength="14.0" lengthAdjust="spacingAndGlyphs">real</text>
<text x="372.5" y="224.3" font-size="8.6" font-weight="bold" fill="#111" text-anchor="start" font-style="normal"  textLength="43.5" lengthAdjust="spacingAndGlyphs">scReadSim</text>
<path d="M419.5 246.6 H664.5 V309.0 H419.5 Z" stroke="#a8a8a8" stroke-width="0.9" fill="none"/>
<line x1="419.5" y1="267.5" x2="664.5" y2="267.5" stroke="#dcdcdc" stroke-width="0.8"/>
<line x1="419.5" y1="290.5" x2="664.5" y2="290.5" stroke="#dcdcdc" stroke-width="0.8"/>
<rect x="450.9" y="249.2" width="5.8" height="2.5" fill="#777"/>
<path d="M624.5 249 V252.5 M635.5 249 V252.5" stroke="#bbb" stroke-width="0.7"/>
<rect x="624.5" y="273" width="11" height="3.1" fill="#000"/>
<rect x="419.6" y="294.3" width="31.3" height="3.4" fill="#e0e0e0"/>
<rect x="456.2" y="294.3" width="167.6" height="3.4" fill="#e0e0e0"/>
<rect x="635.5" y="294.3" width="28.5" height="3.4" fill="#e0e0e0"/>
<text x="373.7" y="256.5" font-size="9.0" font-weight="normal" fill="#222" text-anchor="start" font-style="normal"  textLength="38.3" lengthAdjust="spacingAndGlyphs">gray areas</text>
<text x="374.2" y="279.1" font-size="9.0" font-weight="normal" fill="#222" text-anchor="start" font-style="normal"  textLength="37.2" lengthAdjust="spacingAndGlyphs">t.w. peaks</text>
<text x="366.4" y="299.6" font-size="9.0" font-weight="normal" fill="#222" text-anchor="start" font-style="normal"  textLength="54.1" lengthAdjust="spacingAndGlyphs">t.w. non-peaks</text>
</svg></body></html>
